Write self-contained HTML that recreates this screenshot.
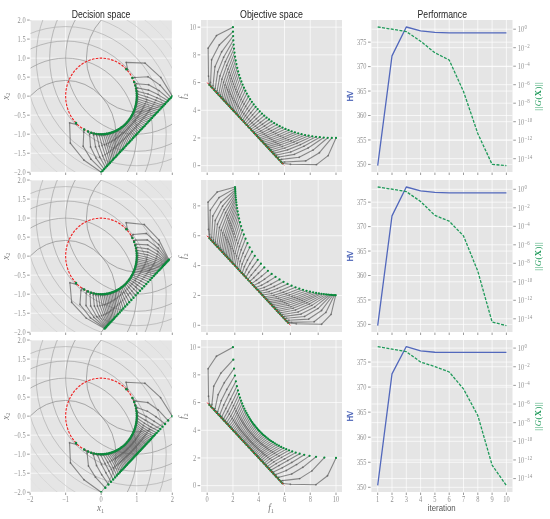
<!DOCTYPE html>
<html><head><meta charset="utf-8"><title>HVN</title><style>html,body{margin:0;padding:0;background:#fff}svg{display:block}</style></head><body>
<svg width="550" height="519" viewBox="0 0 550 519">
<rect width="100%" height="100%" fill="#fff"/>
<defs>
<clipPath id="c00"><rect x="30.5" y="20.0" width="141.5" height="152"/></clipPath>
<clipPath id="m00"><rect x="30.0" y="19.5" width="142.5" height="153"/></clipPath>
<clipPath id="c10"><rect x="201.0" y="20.0" width="141" height="152"/></clipPath>
<clipPath id="m10"><rect x="200.5" y="19.5" width="142" height="153"/></clipPath>
<clipPath id="c20"><rect x="371.4" y="20.0" width="141.1" height="152"/></clipPath>
<clipPath id="m20"><rect x="370.9" y="19.5" width="142.1" height="153"/></clipPath>
<clipPath id="c01"><rect x="30.5" y="180.0" width="141.5" height="152"/></clipPath>
<clipPath id="m01"><rect x="30.0" y="179.5" width="142.5" height="153"/></clipPath>
<clipPath id="c11"><rect x="201.0" y="180.0" width="141" height="152"/></clipPath>
<clipPath id="m11"><rect x="200.5" y="179.5" width="142" height="153"/></clipPath>
<clipPath id="c21"><rect x="371.4" y="180.0" width="141.1" height="152"/></clipPath>
<clipPath id="m21"><rect x="370.9" y="179.5" width="142.1" height="153"/></clipPath>
<clipPath id="c02"><rect x="30.5" y="340.0" width="141.5" height="152"/></clipPath>
<clipPath id="m02"><rect x="30.0" y="339.5" width="142.5" height="153"/></clipPath>
<clipPath id="c12"><rect x="201.0" y="340.0" width="141" height="152"/></clipPath>
<clipPath id="m12"><rect x="200.5" y="339.5" width="142" height="153"/></clipPath>
<clipPath id="c22"><rect x="371.4" y="340.0" width="141.1" height="152"/></clipPath>
<clipPath id="m22"><rect x="370.9" y="339.5" width="142.1" height="153"/></clipPath>
</defs>
<rect x="30.5" y="20.0" width="141.5" height="152" fill="#E5E5E5"/>
<path d="M30.1 20.0 V172.0 M65.65 20.0 V172.0 M101.2 20.0 V172.0 M136.75 20.0 V172.0 M172.3 20.0 V172.0 M30.5 172.25 H172.0 M30.5 153.22 H172.0 M30.5 134.2 H172.0 M30.5 115.18 H172.0 M30.5 96.15 H172.0 M30.5 77.12 H172.0 M30.5 58.1 H172.0 M30.5 39.08 H172.0 M30.5 20.05 H172.0" stroke="#FFFFFF" stroke-width="0.7" fill="none"/>
<g clip-path="url(#c00)" fill="none">
<ellipse cx="136.75" cy="58.1" rx="50.28" ry="53.81" stroke="rgb(140,140,140)" stroke-width="0.75" stroke-opacity="0.95"/>
<ellipse cx="136.75" cy="58.1" rx="71.1" ry="76.1" stroke="rgb(152,152,152)" stroke-width="0.75" stroke-opacity="0.95"/>
<ellipse cx="136.75" cy="58.1" rx="87.08" ry="93.2" stroke="rgb(164,164,164)" stroke-width="0.75" stroke-opacity="0.95"/>
<ellipse cx="136.75" cy="58.1" rx="100.55" ry="107.62" stroke="rgb(176,176,176)" stroke-width="0.75" stroke-opacity="0.95"/>
<ellipse cx="136.75" cy="58.1" rx="112.42" ry="120.32" stroke="rgb(188,188,188)" stroke-width="0.75" stroke-opacity="0.95"/>
<ellipse cx="136.75" cy="58.1" rx="123.15" ry="131.81" stroke="rgb(200,200,200)" stroke-width="0.75" stroke-opacity="0.95"/>
<ellipse cx="136.75" cy="58.1" rx="133.02" ry="142.37" stroke="rgb(212,212,212)" stroke-width="0.75" stroke-opacity="0.95"/>
<ellipse cx="136.75" cy="58.1" rx="142.2" ry="152.2" stroke="rgb(225,225,225)" stroke-width="0.75" stroke-opacity="0.95"/>
<ellipse cx="65.65" cy="134.2" rx="50.28" ry="53.81" stroke="rgb(140,140,140)" stroke-width="0.75" stroke-opacity="0.95"/>
<ellipse cx="65.65" cy="134.2" rx="71.1" ry="76.1" stroke="rgb(152,152,152)" stroke-width="0.75" stroke-opacity="0.95"/>
<ellipse cx="65.65" cy="134.2" rx="87.08" ry="93.2" stroke="rgb(164,164,164)" stroke-width="0.75" stroke-opacity="0.95"/>
<ellipse cx="65.65" cy="134.2" rx="100.55" ry="107.62" stroke="rgb(176,176,176)" stroke-width="0.75" stroke-opacity="0.95"/>
<ellipse cx="65.65" cy="134.2" rx="112.42" ry="120.32" stroke="rgb(188,188,188)" stroke-width="0.75" stroke-opacity="0.95"/>
<ellipse cx="65.65" cy="134.2" rx="123.15" ry="131.81" stroke="rgb(200,200,200)" stroke-width="0.75" stroke-opacity="0.95"/>
<ellipse cx="65.65" cy="134.2" rx="133.02" ry="142.37" stroke="rgb(212,212,212)" stroke-width="0.75" stroke-opacity="0.95"/>
<ellipse cx="65.65" cy="134.2" rx="142.2" ry="152.2" stroke="rgb(225,225,225)" stroke-width="0.75" stroke-opacity="0.95"/>
<ellipse cx="101.2" cy="96.15" rx="35.55" ry="38.05" stroke="#EE2222" stroke-width="1.1" stroke-dasharray="2.6 1.3"/>
<path d="M101.2 172.25 L83.83 160.01 L70.31 143.1 L69.61 122.87 L76.49 124.53 L75.99 123.03 L76.06 123.06 L76.06 123.06 L76.06 123.06 L76.06 123.06 L76.06 123.06 M102.65 170.7 L90.93 159.13 L83.13 146.26 L83.78 132.18 L83.99 129.55 L84.13 129.52 L84.2 129.57 L84.2 129.57 L84.2 129.57 L84.2 129.57 L84.2 129.57 M104.1 169.14 L96 158.09 L90.55 146.92 L89.59 134.28 L88.59 131.83 L88.05 131.51 L88.06 131.51 L88.06 131.51 L88.06 131.51 L88.06 131.51 L88.06 131.51 M105.55 167.59 L99.76 156.96 L95.54 146.75 L93.63 135.15 L92.03 133.02 L91.21 132.68 L91.19 132.66 L91.19 132.66 L91.19 132.66 L91.19 132.66 L91.19 132.66 M107 166.04 L102.68 155.79 L99.21 146.24 L96.82 135.49 L94.92 133.7 L93.97 133.42 L93.93 133.4 L93.93 133.4 L93.93 133.4 L93.93 133.4 L93.93 133.4 M108.46 164.48 L105.06 154.6 L102.08 145.57 L99.47 135.55 L97.47 134.08 L96.45 133.88 L96.41 133.85 L96.41 133.85 L96.41 133.85 L96.41 133.85 L96.41 133.85 M109.91 162.93 L107.07 153.41 L104.43 144.82 L101.76 135.44 L99.77 134.25 L98.74 134.12 L98.7 134.11 L98.7 134.11 L98.7 134.11 L98.7 134.11 L98.7 134.11 M111.36 161.38 L108.85 152.21 L106.44 144.02 L103.79 135.21 L101.88 134.26 L100.88 134.21 L100.84 134.2 L100.84 134.2 L100.84 134.2 L100.84 134.2 L100.84 134.2 M112.81 159.83 L110.48 151.01 L108.22 143.2 L105.64 134.9 L103.85 134.15 L102.89 134.17 L102.85 134.16 L102.85 134.16 L102.85 134.16 L102.85 134.16 L102.85 134.16 M114.26 158.27 L112.01 149.82 L109.84 142.37 L107.34 134.53 L105.71 133.94 L104.8 134.02 L104.76 134.01 L104.76 134.01 L104.76 134.01 L104.76 134.01 L104.76 134.01 M115.71 156.72 L113.47 148.62 L111.35 141.51 L108.93 134.11 L107.46 133.64 L106.62 133.77 L106.58 133.76 L106.59 133.76 L106.59 133.76 L106.59 133.76 L106.59 133.76 M117.16 155.17 L114.89 147.42 L112.78 140.65 L110.43 133.64 L109.13 133.27 L108.35 133.43 L108.33 133.43 L108.33 133.43 L108.33 133.43 L108.33 133.43 L108.33 133.43 M118.61 153.61 L116.28 146.21 L114.17 139.76 L111.86 133.13 L110.73 132.83 L110.02 133.02 L109.99 133.02 L109.99 133.02 L109.99 133.02 L109.99 133.02 L109.99 133.02 M120.06 152.06 L117.65 144.99 L115.51 138.86 L113.24 132.58 L112.26 132.33 L111.62 132.54 L111.6 132.54 L111.6 132.54 L111.6 132.54 L111.6 132.54 L111.6 132.54 M121.51 150.51 L119.01 143.77 L116.83 137.94 L114.57 131.99 L113.73 131.77 L113.16 131.99 L113.14 131.99 L113.14 131.99 L113.14 131.99 L113.14 131.99 L113.14 131.99 M122.97 148.95 L120.37 142.53 L118.13 136.99 L115.86 131.35 L115.15 131.16 L114.64 131.38 L114.62 131.38 L114.62 131.38 L114.62 131.38 L114.62 131.38 L114.62 131.38 M124.42 147.4 L121.71 141.29 L119.41 136.02 L117.12 130.68 L116.51 130.5 L116.07 130.72 L116.06 130.72 L116.06 130.72 L116.06 130.72 L116.06 130.72 L116.06 130.72 M125.87 145.85 L123.06 140.03 L120.68 135.02 L118.34 129.96 L117.83 129.79 L117.45 130 L117.44 130 L117.44 130 L117.44 130 L117.44 130 L117.44 130 M127.32 144.29 L124.4 138.76 L121.93 134 L119.53 129.2 L119.1 129.03 L118.78 129.23 L118.77 129.23 L118.77 129.23 L118.77 129.23 L118.77 129.23 L118.77 129.23 M128.77 142.74 L125.73 137.47 L123.17 132.95 L120.69 128.4 L120.32 128.23 L120.06 128.41 L120.05 128.41 L120.05 128.41 L120.05 128.41 L120.05 128.41 L120.05 128.41 M130.22 141.19 L127.06 136.16 L124.4 131.87 L121.83 127.56 L121.51 127.38 L121.3 127.54 L121.29 127.54 L121.29 127.54 L121.29 127.54 L121.29 127.54 L121.29 127.54 M131.67 139.64 L128.38 134.85 L125.62 130.76 L122.93 126.68 L122.65 126.5 L122.49 126.62 L122.49 126.62 L122.49 126.62 L122.49 126.62 L122.49 126.62 L122.49 126.62 M133.12 138.08 L129.7 133.51 L126.81 129.63 L124 125.75 L123.75 125.56 L123.64 125.66 L123.64 125.66 L123.64 125.66 L123.64 125.66 L123.64 125.66 L123.64 125.66 M134.57 136.53 L131 132.17 L127.99 128.47 L125.04 124.79 L124.82 124.59 L124.75 124.65 L124.75 124.65 L124.75 124.65 L124.75 124.65 L124.75 124.65 L124.75 124.65 M136.02 134.98 L132.3 130.81 L129.15 127.28 L126.05 123.79 L125.84 123.58 L125.82 123.6 L125.82 123.6 L125.82 123.6 L125.82 123.6 L125.82 123.6 L125.82 123.6 M137.48 133.42 L133.58 129.43 L130.28 126.06 L127.02 122.74 L126.83 122.52 L126.84 122.5 L126.85 122.5 L126.85 122.5 L126.85 122.5 L126.85 122.5 L126.85 122.5 M138.93 131.87 L134.85 128.05 L131.39 124.82 L127.96 121.67 L127.77 121.43 L127.83 121.36 L127.83 121.36 L127.83 121.36 L127.83 121.36 L127.83 121.36 L127.83 121.36 M140.38 130.32 L136.11 126.65 L132.48 123.56 L128.86 120.55 L128.68 120.29 L128.77 120.17 L128.77 120.17 L128.77 120.17 L128.77 120.17 L128.77 120.17 L128.77 120.17 M141.83 128.76 L137.35 125.24 L133.54 122.28 L129.72 119.41 L129.55 119.11 L129.67 118.94 L129.67 118.94 L129.67 118.94 L129.67 118.94 L129.67 118.94 L129.67 118.94 M143.28 127.21 L138.59 123.83 L134.57 120.98 L130.55 118.23 L130.38 117.88 L130.52 117.66 L130.53 117.66 L130.53 117.66 L130.53 117.66 L130.53 117.66 L130.53 117.66 M144.73 125.66 L139.8 122.41 L135.58 119.67 L131.33 117.01 L131.17 116.62 L131.34 116.34 L131.34 116.33 L131.34 116.33 L131.34 116.33 L131.34 116.33 L131.34 116.33 M146.18 124.11 L141.01 120.98 L136.56 118.34 L132.08 115.77 L131.92 115.31 L132.1 114.96 L132.11 114.95 L132.11 114.95 L132.11 114.95 L132.11 114.95 L132.11 114.95 M147.63 122.55 L142.2 119.54 L137.52 117 L132.79 114.49 L132.63 113.95 L132.82 113.54 L132.83 113.53 L132.83 113.53 L132.83 113.53 L132.83 113.53 L132.83 113.53 M149.08 121 L143.37 118.11 L138.45 115.64 L133.46 113.19 L133.29 112.54 L133.49 112.06 L133.5 112.05 L133.5 112.05 L133.5 112.05 L133.5 112.05 L133.5 112.05 M150.53 119.45 L144.54 116.66 L139.36 114.27 L134.09 111.84 L133.91 111.08 L134.12 110.54 L134.12 110.52 L134.12 110.52 L134.12 110.52 L134.12 110.52 L134.12 110.52 M151.99 117.89 L145.69 115.22 L140.24 112.88 L134.68 110.46 L134.48 109.56 L134.68 108.95 L134.69 108.93 L134.69 108.93 L134.69 108.93 L134.69 108.93 L134.69 108.93 M153.44 116.34 L146.83 113.76 L141.1 111.47 L135.24 109.04 L135 107.99 L135.2 107.3 L135.2 107.28 L135.2 107.28 L135.2 107.28 L135.2 107.28 L135.2 107.28 M154.89 114.79 L147.97 112.29 L141.95 110.03 L135.75 107.56 L135.47 106.35 L135.65 105.59 L135.65 105.56 L135.65 105.56 L135.65 105.56 L135.65 105.56 L135.65 105.56 M156.34 113.23 L149.1 110.8 L142.77 108.55 L136.23 106.03 L135.88 104.64 L136.03 103.81 L136.03 103.78 L136.03 103.78 L136.03 103.78 L136.03 103.78 L136.03 103.78 M157.79 111.68 L150.22 109.28 L143.58 107.01 L136.67 104.42 L136.23 102.85 L136.35 101.95 L136.34 101.91 L136.34 101.91 L136.34 101.91 L136.34 101.91 L136.34 101.91 M159.24 110.13 L151.34 107.72 L144.38 105.4 L137.06 102.72 L136.51 100.97 L136.58 100 L136.57 99.96 L136.57 99.96 L136.57 99.96 L136.57 99.96 L136.57 99.96 M160.69 108.57 L152.46 106.09 L145.16 103.66 L137.41 100.9 L136.7 98.99 L136.72 97.96 L136.71 97.92 L136.71 97.92 L136.71 97.92 L136.71 97.92 L136.71 97.92 M162.14 107.02 L153.58 104.34 L145.93 101.76 L137.69 98.93 L136.81 96.88 L136.76 95.8 L136.75 95.76 L136.75 95.76 L136.75 95.76 L136.75 95.76 L136.75 95.76 M163.59 105.47 L154.69 102.43 L146.67 99.61 L137.91 96.75 L136.79 94.62 L136.68 93.52 L136.66 93.47 L136.66 93.47 L136.66 93.47 L136.66 93.47 L136.66 93.47 M165.04 103.92 L155.81 100.28 L147.37 97.09 L138.01 94.3 L136.64 92.15 L136.45 91.07 L136.43 91.02 L136.43 91.02 L136.43 91.02 L136.43 91.02 L136.43 91.02 M166.5 102.36 L156.92 97.74 L148 94.02 L137.96 91.46 L136.28 89.43 L136.02 88.41 L136 88.37 L136 88.37 L136 88.37 L136 88.37 L136 88.37 M167.95 100.81 L158.01 94.61 L148.48 90.1 L137.64 88.05 L135.64 86.34 L135.33 85.46 L135.31 85.44 L135.31 85.44 L135.31 85.44 L135.31 85.44 L135.31 85.44 M169.4 99.26 L159.07 90.58 L148.63 84.75 L136.83 83.72 L134.53 82.65 L134.24 82.08 L134.23 82.09 L134.23 82.09 L134.23 82.09 L134.23 82.09 L134.23 82.09 M170.85 97.7 L160.04 85.15 L148.01 76.81 L134.87 77.5 L132.41 77.73 L132.38 77.88 L132.42 77.95 L132.42 77.95 L132.42 77.95 L132.42 77.95 L132.42 77.95 M172.3 96.15 L160.87 77.56 L145.07 63.08 L126.17 62.34 L127.72 69.7 L126.31 69.17 L126.34 69.24 L126.34 69.24 L126.34 69.24 L126.34 69.24 L126.34 69.24" stroke="#505050" stroke-width="1.1" stroke-opacity="0.64" stroke-linejoin="round"/>
<path d="M83.83 160.01h0 M70.31 143.1h0 M69.61 122.87h0 M76.49 124.53h0 M75.99 123.03h0 M76.06 123.06h0 M76.06 123.06h0 M76.06 123.06h0 M76.06 123.06h0 M90.93 159.13h0 M83.13 146.26h0 M83.78 132.18h0 M83.99 129.55h0 M84.13 129.52h0 M84.2 129.57h0 M84.2 129.57h0 M84.2 129.57h0 M84.2 129.57h0 M96 158.09h0 M90.55 146.92h0 M89.59 134.28h0 M88.59 131.83h0 M88.05 131.51h0 M88.06 131.51h0 M88.06 131.51h0 M88.06 131.51h0 M88.06 131.51h0 M99.76 156.96h0 M95.54 146.75h0 M93.63 135.15h0 M92.03 133.02h0 M91.21 132.68h0 M91.19 132.66h0 M91.19 132.66h0 M91.19 132.66h0 M91.19 132.66h0 M102.68 155.79h0 M99.21 146.24h0 M96.82 135.49h0 M94.92 133.7h0 M93.97 133.42h0 M93.93 133.4h0 M93.93 133.4h0 M93.93 133.4h0 M93.93 133.4h0 M105.06 154.6h0 M102.08 145.57h0 M99.47 135.55h0 M97.47 134.08h0 M96.45 133.88h0 M96.41 133.85h0 M96.41 133.85h0 M96.41 133.85h0 M96.41 133.85h0 M107.07 153.41h0 M104.43 144.82h0 M101.76 135.44h0 M99.77 134.25h0 M98.74 134.12h0 M98.7 134.11h0 M98.7 134.11h0 M98.7 134.11h0 M98.7 134.11h0 M108.85 152.21h0 M106.44 144.02h0 M103.79 135.21h0 M101.88 134.26h0 M100.88 134.21h0 M100.84 134.2h0 M100.84 134.2h0 M100.84 134.2h0 M100.84 134.2h0 M110.48 151.01h0 M108.22 143.2h0 M105.64 134.9h0 M103.85 134.15h0 M102.89 134.17h0 M102.85 134.16h0 M102.85 134.16h0 M102.85 134.16h0 M102.85 134.16h0 M112.01 149.82h0 M109.84 142.37h0 M107.34 134.53h0 M105.71 133.94h0 M104.8 134.02h0 M104.76 134.01h0 M104.76 134.01h0 M104.76 134.01h0 M104.76 134.01h0 M113.47 148.62h0 M111.35 141.51h0 M108.93 134.11h0 M107.46 133.64h0 M106.62 133.77h0 M106.58 133.76h0 M106.59 133.76h0 M106.59 133.76h0 M106.59 133.76h0 M114.89 147.42h0 M112.78 140.65h0 M110.43 133.64h0 M109.13 133.27h0 M108.35 133.43h0 M108.33 133.43h0 M108.33 133.43h0 M108.33 133.43h0 M108.33 133.43h0 M116.28 146.21h0 M114.17 139.76h0 M111.86 133.13h0 M110.73 132.83h0 M110.02 133.02h0 M109.99 133.02h0 M109.99 133.02h0 M109.99 133.02h0 M109.99 133.02h0 M117.65 144.99h0 M115.51 138.86h0 M113.24 132.58h0 M112.26 132.33h0 M111.62 132.54h0 M111.6 132.54h0 M111.6 132.54h0 M111.6 132.54h0 M111.6 132.54h0 M119.01 143.77h0 M116.83 137.94h0 M114.57 131.99h0 M113.73 131.77h0 M113.16 131.99h0 M113.14 131.99h0 M113.14 131.99h0 M113.14 131.99h0 M113.14 131.99h0 M120.37 142.53h0 M118.13 136.99h0 M115.86 131.35h0 M115.15 131.16h0 M114.64 131.38h0 M114.62 131.38h0 M114.62 131.38h0 M114.62 131.38h0 M114.62 131.38h0 M121.71 141.29h0 M119.41 136.02h0 M117.12 130.68h0 M116.51 130.5h0 M116.07 130.72h0 M116.06 130.72h0 M116.06 130.72h0 M116.06 130.72h0 M116.06 130.72h0 M123.06 140.03h0 M120.68 135.02h0 M118.34 129.96h0 M117.83 129.79h0 M117.45 130h0 M117.44 130h0 M117.44 130h0 M117.44 130h0 M117.44 130h0 M124.4 138.76h0 M121.93 134h0 M119.53 129.2h0 M119.1 129.03h0 M118.78 129.23h0 M118.77 129.23h0 M118.77 129.23h0 M118.77 129.23h0 M118.77 129.23h0 M125.73 137.47h0 M123.17 132.95h0 M120.69 128.4h0 M120.32 128.23h0 M120.06 128.41h0 M120.05 128.41h0 M120.05 128.41h0 M120.05 128.41h0 M120.05 128.41h0 M127.06 136.16h0 M124.4 131.87h0 M121.83 127.56h0 M121.51 127.38h0 M121.3 127.54h0 M121.29 127.54h0 M121.29 127.54h0 M121.29 127.54h0 M121.29 127.54h0 M128.38 134.85h0 M125.62 130.76h0 M122.93 126.68h0 M122.65 126.5h0 M122.49 126.62h0 M122.49 126.62h0 M122.49 126.62h0 M122.49 126.62h0 M122.49 126.62h0 M129.7 133.51h0 M126.81 129.63h0 M124 125.75h0 M123.75 125.56h0 M123.64 125.66h0 M123.64 125.66h0 M123.64 125.66h0 M123.64 125.66h0 M123.64 125.66h0 M131 132.17h0 M127.99 128.47h0 M125.04 124.79h0 M124.82 124.59h0 M124.75 124.65h0 M124.75 124.65h0 M124.75 124.65h0 M124.75 124.65h0 M124.75 124.65h0 M132.3 130.81h0 M129.15 127.28h0 M126.05 123.79h0 M125.84 123.58h0 M125.82 123.6h0 M125.82 123.6h0 M125.82 123.6h0 M125.82 123.6h0 M125.82 123.6h0 M133.58 129.43h0 M130.28 126.06h0 M127.02 122.74h0 M126.83 122.52h0 M126.84 122.5h0 M126.85 122.5h0 M126.85 122.5h0 M126.85 122.5h0 M126.85 122.5h0 M134.85 128.05h0 M131.39 124.82h0 M127.96 121.67h0 M127.77 121.43h0 M127.83 121.36h0 M127.83 121.36h0 M127.83 121.36h0 M127.83 121.36h0 M127.83 121.36h0 M136.11 126.65h0 M132.48 123.56h0 M128.86 120.55h0 M128.68 120.29h0 M128.77 120.17h0 M128.77 120.17h0 M128.77 120.17h0 M128.77 120.17h0 M128.77 120.17h0 M137.35 125.24h0 M133.54 122.28h0 M129.72 119.41h0 M129.55 119.11h0 M129.67 118.94h0 M129.67 118.94h0 M129.67 118.94h0 M129.67 118.94h0 M129.67 118.94h0 M138.59 123.83h0 M134.57 120.98h0 M130.55 118.23h0 M130.38 117.88h0 M130.52 117.66h0 M130.53 117.66h0 M130.53 117.66h0 M130.53 117.66h0 M130.53 117.66h0 M139.8 122.41h0 M135.58 119.67h0 M131.33 117.01h0 M131.17 116.62h0 M131.34 116.34h0 M131.34 116.33h0 M131.34 116.33h0 M131.34 116.33h0 M131.34 116.33h0 M141.01 120.98h0 M136.56 118.34h0 M132.08 115.77h0 M131.92 115.31h0 M132.1 114.96h0 M132.11 114.95h0 M132.11 114.95h0 M132.11 114.95h0 M132.11 114.95h0 M142.2 119.54h0 M137.52 117h0 M132.79 114.49h0 M132.63 113.95h0 M132.82 113.54h0 M132.83 113.53h0 M132.83 113.53h0 M132.83 113.53h0 M132.83 113.53h0 M143.37 118.11h0 M138.45 115.64h0 M133.46 113.19h0 M133.29 112.54h0 M133.49 112.06h0 M133.5 112.05h0 M133.5 112.05h0 M133.5 112.05h0 M133.5 112.05h0 M144.54 116.66h0 M139.36 114.27h0 M134.09 111.84h0 M133.91 111.08h0 M134.12 110.54h0 M134.12 110.52h0 M134.12 110.52h0 M134.12 110.52h0 M134.12 110.52h0 M145.69 115.22h0 M140.24 112.88h0 M134.68 110.46h0 M134.48 109.56h0 M134.68 108.95h0 M134.69 108.93h0 M134.69 108.93h0 M134.69 108.93h0 M134.69 108.93h0 M146.83 113.76h0 M141.1 111.47h0 M135.24 109.04h0 M135 107.99h0 M135.2 107.3h0 M135.2 107.28h0 M135.2 107.28h0 M135.2 107.28h0 M135.2 107.28h0 M147.97 112.29h0 M141.95 110.03h0 M135.75 107.56h0 M135.47 106.35h0 M135.65 105.59h0 M135.65 105.56h0 M135.65 105.56h0 M135.65 105.56h0 M135.65 105.56h0 M149.1 110.8h0 M142.77 108.55h0 M136.23 106.03h0 M135.88 104.64h0 M136.03 103.81h0 M136.03 103.78h0 M136.03 103.78h0 M136.03 103.78h0 M136.03 103.78h0 M150.22 109.28h0 M143.58 107.01h0 M136.67 104.42h0 M136.23 102.85h0 M136.35 101.95h0 M136.34 101.91h0 M136.34 101.91h0 M136.34 101.91h0 M136.34 101.91h0 M151.34 107.72h0 M144.38 105.4h0 M137.06 102.72h0 M136.51 100.97h0 M136.58 100h0 M136.57 99.96h0 M136.57 99.96h0 M136.57 99.96h0 M136.57 99.96h0 M152.46 106.09h0 M145.16 103.66h0 M137.41 100.9h0 M136.7 98.99h0 M136.72 97.96h0 M136.71 97.92h0 M136.71 97.92h0 M136.71 97.92h0 M136.71 97.92h0 M153.58 104.34h0 M145.93 101.76h0 M137.69 98.93h0 M136.81 96.88h0 M136.76 95.8h0 M136.75 95.76h0 M136.75 95.76h0 M136.75 95.76h0 M136.75 95.76h0 M154.69 102.43h0 M146.67 99.61h0 M137.91 96.75h0 M136.79 94.62h0 M136.68 93.52h0 M136.66 93.47h0 M136.66 93.47h0 M136.66 93.47h0 M136.66 93.47h0 M155.81 100.28h0 M147.37 97.09h0 M138.01 94.3h0 M136.64 92.15h0 M136.45 91.07h0 M136.43 91.02h0 M136.43 91.02h0 M136.43 91.02h0 M136.43 91.02h0 M156.92 97.74h0 M148 94.02h0 M137.96 91.46h0 M136.28 89.43h0 M136.02 88.41h0 M136 88.37h0 M136 88.37h0 M136 88.37h0 M136 88.37h0 M158.01 94.61h0 M148.48 90.1h0 M137.64 88.05h0 M135.64 86.34h0 M135.33 85.46h0 M135.31 85.44h0 M135.31 85.44h0 M135.31 85.44h0 M135.31 85.44h0 M159.07 90.58h0 M148.63 84.75h0 M136.83 83.72h0 M134.53 82.65h0 M134.24 82.08h0 M134.23 82.09h0 M134.23 82.09h0 M134.23 82.09h0 M134.23 82.09h0 M160.04 85.15h0 M148.01 76.81h0 M134.87 77.5h0 M132.41 77.73h0 M132.38 77.88h0 M132.42 77.95h0 M132.42 77.95h0 M132.42 77.95h0 M132.42 77.95h0 M160.87 77.56h0 M145.07 63.08h0 M126.17 62.34h0 M127.72 69.7h0 M126.31 69.17h0 M126.34 69.24h0 M126.34 69.24h0 M126.34 69.24h0 M126.34 69.24h0" stroke="#505050" stroke-width="1.9" stroke-linecap="round" stroke-opacity="0.55"/>
</g>
<path d="M101.2 172.25h0 M102.65 170.7h0 M104.1 169.14h0 M105.55 167.59h0 M107 166.04h0 M108.46 164.48h0 M109.91 162.93h0 M111.36 161.38h0 M112.81 159.83h0 M114.26 158.27h0 M115.71 156.72h0 M117.16 155.17h0 M118.61 153.61h0 M120.06 152.06h0 M121.51 150.51h0 M122.97 148.95h0 M124.42 147.4h0 M125.87 145.85h0 M127.32 144.29h0 M128.77 142.74h0 M130.22 141.19h0 M131.67 139.64h0 M133.12 138.08h0 M134.57 136.53h0 M136.02 134.98h0 M137.48 133.42h0 M138.93 131.87h0 M140.38 130.32h0 M141.83 128.76h0 M143.28 127.21h0 M144.73 125.66h0 M146.18 124.11h0 M147.63 122.55h0 M149.08 121h0 M150.53 119.45h0 M151.99 117.89h0 M153.44 116.34h0 M154.89 114.79h0 M156.34 113.23h0 M157.79 111.68h0 M159.24 110.13h0 M160.69 108.57h0 M162.14 107.02h0 M163.59 105.47h0 M165.04 103.92h0 M166.5 102.36h0 M167.95 100.81h0 M169.4 99.26h0 M170.85 97.7h0 M172.3 96.15h0 M76.06 123.06h0 M84.2 129.57h0 M88.06 131.51h0 M91.19 132.66h0 M93.93 133.4h0 M96.41 133.85h0 M98.7 134.11h0 M100.84 134.2h0 M102.85 134.16h0 M104.76 134.01h0 M106.59 133.76h0 M108.33 133.43h0 M109.99 133.02h0 M111.6 132.54h0 M113.14 131.99h0 M114.62 131.38h0 M116.06 130.72h0 M117.44 130h0 M118.77 129.23h0 M120.05 128.41h0 M121.29 127.54h0 M122.49 126.62h0 M123.64 125.66h0 M124.75 124.65h0 M125.82 123.6h0 M126.85 122.5h0 M127.83 121.36h0 M128.77 120.17h0 M129.67 118.94h0 M130.53 117.66h0 M131.34 116.33h0 M132.11 114.95h0 M132.83 113.53h0 M133.5 112.05h0 M134.12 110.52h0 M134.69 108.93h0 M135.2 107.28h0 M135.65 105.56h0 M136.03 103.78h0 M136.34 101.91h0 M136.57 99.96h0 M136.71 97.92h0 M136.75 95.76h0 M136.66 93.47h0 M136.43 91.02h0 M136 88.37h0 M135.31 85.44h0 M134.23 82.09h0 M132.42 77.95h0 M126.34 69.24h0" stroke="#0A8A3C" stroke-width="2.45" stroke-linecap="round" fill="none" clip-path="url(#m00)"/>
<line x1="27.1" x2="29.7" y1="20.05" y2="20.05" stroke="#6E6E6E" stroke-width="0.7"/>
<text transform="translate(25.6 22.75) scale(0.82 1)" text-anchor="end" font-size="7.8" fill="#909090" font-family="'Liberation Serif', serif">2.0</text>
<line x1="27.1" x2="29.7" y1="39.08" y2="39.08" stroke="#6E6E6E" stroke-width="0.7"/>
<text transform="translate(25.6 41.78) scale(0.82 1)" text-anchor="end" font-size="7.8" fill="#909090" font-family="'Liberation Serif', serif">1.5</text>
<line x1="27.1" x2="29.7" y1="58.1" y2="58.1" stroke="#6E6E6E" stroke-width="0.7"/>
<text transform="translate(25.6 60.8) scale(0.82 1)" text-anchor="end" font-size="7.8" fill="#909090" font-family="'Liberation Serif', serif">1.0</text>
<line x1="27.1" x2="29.7" y1="77.12" y2="77.12" stroke="#6E6E6E" stroke-width="0.7"/>
<text transform="translate(25.6 79.83) scale(0.82 1)" text-anchor="end" font-size="7.8" fill="#909090" font-family="'Liberation Serif', serif">0.5</text>
<line x1="27.1" x2="29.7" y1="96.15" y2="96.15" stroke="#6E6E6E" stroke-width="0.7"/>
<text transform="translate(25.6 98.85) scale(0.82 1)" text-anchor="end" font-size="7.8" fill="#909090" font-family="'Liberation Serif', serif">0.0</text>
<line x1="27.1" x2="29.7" y1="115.18" y2="115.18" stroke="#6E6E6E" stroke-width="0.7"/>
<text transform="translate(25.6 117.88) scale(0.82 1)" text-anchor="end" font-size="7.8" fill="#909090" font-family="'Liberation Serif', serif">−0.5</text>
<line x1="27.1" x2="29.7" y1="134.2" y2="134.2" stroke="#6E6E6E" stroke-width="0.7"/>
<text transform="translate(25.6 136.9) scale(0.82 1)" text-anchor="end" font-size="7.8" fill="#909090" font-family="'Liberation Serif', serif">−1.0</text>
<line x1="27.1" x2="29.7" y1="153.22" y2="153.22" stroke="#6E6E6E" stroke-width="0.7"/>
<text transform="translate(25.6 155.92) scale(0.82 1)" text-anchor="end" font-size="7.8" fill="#909090" font-family="'Liberation Serif', serif">−1.5</text>
<line x1="27.1" x2="29.7" y1="172.25" y2="172.25" stroke="#6E6E6E" stroke-width="0.7"/>
<text transform="translate(25.6 174.95) scale(0.82 1)" text-anchor="end" font-size="7.8" fill="#909090" font-family="'Liberation Serif', serif">−2.0</text>
<line x1="30.1" x2="30.1" y1="172.6" y2="175" stroke="#6E6E6E" stroke-width="0.7"/>
<line x1="65.65" x2="65.65" y1="172.6" y2="175" stroke="#6E6E6E" stroke-width="0.7"/>
<line x1="101.2" x2="101.2" y1="172.6" y2="175" stroke="#6E6E6E" stroke-width="0.7"/>
<line x1="136.75" x2="136.75" y1="172.6" y2="175" stroke="#6E6E6E" stroke-width="0.7"/>
<line x1="172.3" x2="172.3" y1="172.6" y2="175" stroke="#6E6E6E" stroke-width="0.7"/>
<text transform="translate(8.6 96.2) rotate(-90)" text-anchor="middle" font-size="9.3" font-style="italic" fill="#7A7A7A" font-family="'Liberation Serif', serif">x<tspan font-size="6.3" font-style="normal" dy="1.5">2</tspan></text>
<rect x="201.0" y="20.0" width="141" height="152" fill="#E5E5E5"/>
<path d="M207.2 20.0 V172.0 M201.0 165.65 H342.0 M232.96 20.0 V172.0 M201.0 137.95 H342.0 M258.72 20.0 V172.0 M201.0 110.25 H342.0 M284.48 20.0 V172.0 M201.0 82.55 H342.0 M310.24 20.0 V172.0 M201.0 54.85 H342.0 M336 20.0 V172.0 M201.0 27.15 H342.0" stroke="#FFFFFF" stroke-width="0.7" fill="none"/>
<g clip-path="url(#c10)" fill="none">
<path d="M336 137.95 L328.14 155.65 L316.47 164.65 L290.47 164.25 L283.47 163.47 L282.32 163.28 L282.27 163.27 L282.27 163.27 L282.27 163.27 L282.27 163.27 L282.27 163.27 M331.84 137.9 L319.41 152.7 L305.64 160.91 L284.63 162.01 L280.98 161.76 L280.81 161.7 L280.78 161.67 L280.78 161.67 L280.78 161.67 L280.78 161.67 L280.78 161.67 M327.76 137.77 L313.07 150.1 L299.14 157.31 L281.5 159.37 L279.2 159.83 L279.31 160.08 L279.3 160.08 L279.3 160.08 L279.3 160.08 L279.3 160.08 L279.3 160.08 M323.77 137.53 L308.09 147.95 L294.42 154.35 L278.96 157.06 L277.51 158.01 L277.81 158.47 L277.81 158.48 L277.81 158.48 L277.81 158.48 L277.81 158.48 L277.81 158.48 M319.86 137.21 L303.92 146.16 L290.67 151.92 L276.74 154.99 L275.87 156.26 L276.32 156.86 L276.32 156.88 L276.32 156.88 L276.32 156.88 L276.32 156.88 L276.32 156.88 M316.04 136.8 L300.28 144.65 L287.52 149.87 L274.73 153.1 L274.28 154.56 L274.83 155.25 L274.84 155.28 L274.84 155.28 L274.84 155.28 L274.84 155.28 L274.84 155.28 M312.31 136.29 L296.98 143.32 L284.75 148.09 L272.89 151.35 L272.72 152.89 L273.34 153.65 L273.35 153.68 L273.35 153.68 L273.35 153.68 L273.35 153.68 L273.35 153.68 M308.66 135.69 L293.92 142.09 L282.24 146.49 L271.17 149.7 L271.19 151.26 L271.85 152.05 L271.86 152.08 L271.86 152.08 L271.86 152.08 L271.86 152.08 L271.86 152.08 M305.1 135 L291.03 140.92 L279.93 145.02 L269.54 148.12 L269.68 149.66 L270.36 150.45 L270.37 150.48 L270.37 150.48 L270.37 150.48 L270.37 150.48 L270.37 150.48 M301.62 134.21 L288.27 139.76 L277.75 143.61 L267.99 146.6 L268.19 148.06 L268.88 148.85 L268.89 148.88 L268.89 148.88 L268.89 148.88 L268.89 148.88 L268.89 148.88 M298.23 133.34 L285.61 138.6 L275.68 142.25 L266.49 145.13 L266.71 146.49 L267.39 147.26 L267.4 147.28 L267.4 147.28 L267.4 147.28 L267.4 147.28 L267.4 147.28 M294.93 132.37 L283.04 137.41 L273.67 140.91 L265.03 143.67 L265.24 144.92 L265.9 145.66 L265.91 145.69 L265.91 145.69 L265.91 145.69 L265.91 145.69 L265.91 145.69 M291.71 131.3 L280.53 136.18 L271.72 139.56 L263.6 142.24 L263.78 143.36 L264.41 144.06 L264.43 144.09 L264.43 144.09 L264.43 144.09 L264.43 144.09 L264.43 144.09 M288.58 130.15 L278.09 134.9 L269.82 138.2 L262.18 140.81 L262.33 141.81 L262.93 142.47 L262.94 142.49 L262.94 142.49 L262.94 142.49 L262.94 142.49 L262.94 142.49 M285.53 128.91 L275.7 133.57 L267.95 136.81 L260.78 139.38 L260.88 140.26 L261.44 140.87 L261.45 140.89 L261.45 140.89 L261.45 140.89 L261.45 140.89 L261.45 140.89 M282.57 127.57 L273.36 132.17 L266.1 135.4 L259.38 137.94 L259.44 138.71 L259.96 139.27 L259.97 139.29 L259.97 139.29 L259.97 139.29 L259.97 139.29 L259.97 139.29 M279.69 126.14 L271.07 130.72 L264.28 133.95 L257.99 136.5 L258 137.17 L258.47 137.67 L258.48 137.69 L258.48 137.69 L258.48 137.69 L258.48 137.69 L258.48 137.69 M276.91 124.61 L268.82 129.21 L262.47 132.46 L256.59 135.05 L256.57 135.63 L256.98 136.08 L256.99 136.09 L256.99 136.09 L256.99 136.09 L256.99 136.09 L256.99 136.09 M274.2 123 L266.63 127.63 L260.69 130.93 L255.2 133.59 L255.13 134.09 L255.5 134.48 L255.51 134.49 L255.51 134.49 L255.51 134.49 L255.51 134.49 L255.51 134.49 M271.58 121.29 L264.48 125.99 L258.92 129.37 L253.8 132.12 L253.7 132.55 L254.01 132.88 L254.02 132.89 L254.02 132.89 L254.02 132.89 L254.02 132.89 L254.02 132.89 M269.05 119.49 L262.37 124.29 L257.17 127.77 L252.39 130.64 L252.27 131.01 L252.53 131.29 L252.53 131.3 L252.53 131.3 L252.53 131.3 L252.53 131.3 L252.53 131.3 M266.61 117.6 L260.31 122.52 L255.44 126.13 L250.98 129.15 L250.84 129.48 L251.04 129.69 L251.04 129.7 L251.04 129.7 L251.04 129.7 L251.04 129.7 L251.04 129.7 M264.25 115.61 L258.3 120.69 L253.72 124.46 L249.57 127.65 L249.41 127.94 L249.55 128.09 L249.56 128.1 L249.56 128.1 L249.56 128.1 L249.56 128.1 L249.56 128.1 M261.97 113.54 L256.34 118.81 L252.03 122.75 L248.16 126.15 L247.98 126.4 L248.07 126.5 L248.07 126.5 L248.07 126.5 L248.07 126.5 L248.07 126.5 L248.07 126.5 M259.78 111.37 L254.43 116.86 L250.36 121.01 L246.75 124.64 L246.56 124.87 L246.58 124.9 L246.58 124.9 L246.58 124.9 L246.58 124.9 L246.58 124.9 L246.58 124.9 M257.68 109.11 L252.57 114.86 L248.72 119.24 L245.34 123.12 L245.13 123.33 L245.1 123.3 L245.1 123.3 L245.1 123.3 L245.1 123.3 L245.1 123.3 L245.1 123.3 M255.66 106.75 L250.76 112.81 L247.1 117.44 L243.94 121.6 L243.7 121.79 L243.61 121.7 L243.61 121.7 L243.61 121.7 L243.61 121.7 L243.61 121.7 L243.61 121.7 M253.73 104.31 L249.01 110.7 L245.51 115.62 L242.53 120.09 L242.27 120.26 L242.13 120.11 L242.12 120.1 L242.12 120.1 L242.12 120.1 L242.12 120.1 L242.12 120.1 M251.89 101.77 L247.31 108.54 L243.95 113.78 L241.14 118.57 L240.84 118.72 L240.64 118.51 L240.64 118.5 L240.64 118.5 L240.64 118.5 L240.64 118.5 L240.64 118.5 M250.13 99.14 L245.67 106.32 L242.43 111.92 L239.75 117.06 L239.41 117.18 L239.16 116.91 L239.15 116.9 L239.15 116.9 L239.15 116.9 L239.15 116.9 L239.15 116.9 M248.45 96.42 L244.08 104.06 L240.94 110.03 L238.38 115.54 L237.98 115.65 L237.67 115.31 L237.66 115.31 L237.66 115.31 L237.66 115.31 L237.66 115.31 L237.66 115.31 M246.86 93.6 L242.56 101.75 L239.48 108.13 L237.01 114.04 L236.55 114.11 L236.19 113.72 L236.17 113.71 L236.17 113.71 L236.17 113.71 L236.17 113.71 L236.17 113.71 M245.36 90.7 L241.09 99.38 L238.07 106.21 L235.65 112.54 L235.12 112.56 L234.7 112.12 L234.69 112.11 L234.69 112.11 L234.69 112.11 L234.69 112.11 L234.69 112.11 M243.95 87.7 L239.68 96.97 L236.68 104.27 L234.3 111.03 L233.69 111.02 L233.22 110.52 L233.2 110.51 L233.2 110.51 L233.2 110.51 L233.2 110.51 L233.2 110.51 M242.62 84.6 L238.33 94.51 L235.34 102.31 L232.97 109.54 L232.25 109.48 L231.73 108.92 L231.71 108.91 L231.71 108.91 L231.71 108.91 L231.71 108.91 L231.71 108.91 M241.37 81.42 L237.04 91.99 L234.02 100.33 L231.63 108.03 L230.81 107.93 L230.25 107.32 L230.23 107.31 L230.23 107.31 L230.23 107.31 L230.23 107.31 L230.23 107.31 M240.21 78.14 L235.8 89.42 L232.73 98.32 L230.3 106.53 L229.37 106.37 L228.76 105.72 L228.74 105.71 L228.74 105.71 L228.74 105.71 L228.74 105.71 L228.74 105.71 M239.14 74.77 L234.61 86.79 L231.46 96.27 L228.97 105.01 L227.93 104.81 L227.28 104.13 L227.25 104.11 L227.25 104.11 L227.25 104.11 L227.25 104.11 L227.25 104.11 M238.15 71.31 L233.46 84.1 L230.21 94.17 L227.64 103.47 L226.48 103.24 L225.79 102.53 L225.77 102.51 L225.77 102.51 L225.77 102.51 L225.77 102.51 L225.77 102.51 M237.25 67.76 L232.36 81.33 L228.96 92.02 L226.29 101.9 L225.02 101.66 L224.31 100.93 L224.28 100.92 L224.28 100.92 L224.28 100.92 L224.28 100.92 L224.28 100.92 M236.44 64.11 L231.27 78.47 L227.69 89.78 L224.91 100.28 L223.55 100.07 L222.82 99.33 L222.79 99.32 L222.79 99.32 L222.79 99.32 L222.79 99.32 L222.79 99.32 M235.71 60.38 L230.2 75.5 L226.39 87.44 L223.5 98.61 L222.07 98.46 L221.33 97.73 L221.31 97.72 L221.31 97.72 L221.31 97.72 L221.31 97.72 L221.31 97.72 M235.06 56.55 L229.11 72.4 L225.02 84.95 L222.04 96.86 L220.58 96.84 L219.85 96.13 L219.82 96.12 L219.82 96.12 L219.82 96.12 L219.82 96.12 L219.82 96.12 M234.5 52.62 L227.97 69.11 L223.53 82.26 L220.5 95.01 L219.06 95.19 L218.36 94.53 L218.33 94.52 L218.33 94.52 L218.33 94.52 L218.33 94.52 L218.33 94.52 M234.03 48.61 L226.73 65.56 L221.88 79.29 L218.87 93.03 L217.52 93.52 L216.87 92.92 L216.84 92.92 L216.84 92.92 L216.84 92.92 L216.84 92.92 L216.84 92.92 M233.65 44.5 L225.32 61.64 L219.97 75.89 L217.11 90.88 L215.94 91.8 L215.38 91.32 L215.36 91.32 L215.36 91.32 L215.36 91.32 L215.36 91.32 L215.36 91.32 M233.35 40.3 L223.66 57.17 L217.71 71.86 L215.19 88.49 L214.31 90.05 L213.88 89.72 L213.87 89.72 L213.87 89.72 L213.87 89.72 L213.87 89.72 L213.87 89.72 M233.13 36.01 L221.66 51.81 L214.96 66.79 L213.04 85.75 L212.61 88.23 L212.38 88.11 L212.38 88.12 L212.38 88.12 L212.38 88.12 L212.38 88.12 L212.38 88.12 M233 31.63 L219.24 44.99 L211.61 59.8 L210.58 82.39 L210.82 86.31 L210.87 86.5 L210.9 86.52 L210.9 86.53 L210.9 86.53 L210.9 86.53 L210.9 86.53 M232.96 27.15 L216.5 35.6 L208.13 48.15 L208.5 76.11 L209.23 83.64 L209.4 84.87 L209.41 84.93 L209.41 84.93 L209.41 84.93 L209.41 84.93 L209.41 84.93" stroke="#505050" stroke-width="1.1" stroke-opacity="0.64" stroke-linejoin="round"/>
<path d="M328.14 155.65h0 M316.47 164.65h0 M290.47 164.25h0 M283.47 163.47h0 M282.32 163.28h0 M282.27 163.27h0 M282.27 163.27h0 M282.27 163.27h0 M282.27 163.27h0 M319.41 152.7h0 M305.64 160.91h0 M284.63 162.01h0 M280.98 161.76h0 M280.81 161.7h0 M280.78 161.67h0 M280.78 161.67h0 M280.78 161.67h0 M280.78 161.67h0 M313.07 150.1h0 M299.14 157.31h0 M281.5 159.37h0 M279.2 159.83h0 M279.31 160.08h0 M279.3 160.08h0 M279.3 160.08h0 M279.3 160.08h0 M279.3 160.08h0 M308.09 147.95h0 M294.42 154.35h0 M278.96 157.06h0 M277.51 158.01h0 M277.81 158.47h0 M277.81 158.48h0 M277.81 158.48h0 M277.81 158.48h0 M277.81 158.48h0 M303.92 146.16h0 M290.67 151.92h0 M276.74 154.99h0 M275.87 156.26h0 M276.32 156.86h0 M276.32 156.88h0 M276.32 156.88h0 M276.32 156.88h0 M276.32 156.88h0 M300.28 144.65h0 M287.52 149.87h0 M274.73 153.1h0 M274.28 154.56h0 M274.83 155.25h0 M274.84 155.28h0 M274.84 155.28h0 M274.84 155.28h0 M274.84 155.28h0 M296.98 143.32h0 M284.75 148.09h0 M272.89 151.35h0 M272.72 152.89h0 M273.34 153.65h0 M273.35 153.68h0 M273.35 153.68h0 M273.35 153.68h0 M273.35 153.68h0 M293.92 142.09h0 M282.24 146.49h0 M271.17 149.7h0 M271.19 151.26h0 M271.85 152.05h0 M271.86 152.08h0 M271.86 152.08h0 M271.86 152.08h0 M271.86 152.08h0 M291.03 140.92h0 M279.93 145.02h0 M269.54 148.12h0 M269.68 149.66h0 M270.36 150.45h0 M270.37 150.48h0 M270.37 150.48h0 M270.37 150.48h0 M270.37 150.48h0 M288.27 139.76h0 M277.75 143.61h0 M267.99 146.6h0 M268.19 148.06h0 M268.88 148.85h0 M268.89 148.88h0 M268.89 148.88h0 M268.89 148.88h0 M268.89 148.88h0 M285.61 138.6h0 M275.68 142.25h0 M266.49 145.13h0 M266.71 146.49h0 M267.39 147.26h0 M267.4 147.28h0 M267.4 147.28h0 M267.4 147.28h0 M267.4 147.28h0 M283.04 137.41h0 M273.67 140.91h0 M265.03 143.67h0 M265.24 144.92h0 M265.9 145.66h0 M265.91 145.69h0 M265.91 145.69h0 M265.91 145.69h0 M265.91 145.69h0 M280.53 136.18h0 M271.72 139.56h0 M263.6 142.24h0 M263.78 143.36h0 M264.41 144.06h0 M264.43 144.09h0 M264.43 144.09h0 M264.43 144.09h0 M264.43 144.09h0 M278.09 134.9h0 M269.82 138.2h0 M262.18 140.81h0 M262.33 141.81h0 M262.93 142.47h0 M262.94 142.49h0 M262.94 142.49h0 M262.94 142.49h0 M262.94 142.49h0 M275.7 133.57h0 M267.95 136.81h0 M260.78 139.38h0 M260.88 140.26h0 M261.44 140.87h0 M261.45 140.89h0 M261.45 140.89h0 M261.45 140.89h0 M261.45 140.89h0 M273.36 132.17h0 M266.1 135.4h0 M259.38 137.94h0 M259.44 138.71h0 M259.96 139.27h0 M259.97 139.29h0 M259.97 139.29h0 M259.97 139.29h0 M259.97 139.29h0 M271.07 130.72h0 M264.28 133.95h0 M257.99 136.5h0 M258 137.17h0 M258.47 137.67h0 M258.48 137.69h0 M258.48 137.69h0 M258.48 137.69h0 M258.48 137.69h0 M268.82 129.21h0 M262.47 132.46h0 M256.59 135.05h0 M256.57 135.63h0 M256.98 136.08h0 M256.99 136.09h0 M256.99 136.09h0 M256.99 136.09h0 M256.99 136.09h0 M266.63 127.63h0 M260.69 130.93h0 M255.2 133.59h0 M255.13 134.09h0 M255.5 134.48h0 M255.51 134.49h0 M255.51 134.49h0 M255.51 134.49h0 M255.51 134.49h0 M264.48 125.99h0 M258.92 129.37h0 M253.8 132.12h0 M253.7 132.55h0 M254.01 132.88h0 M254.02 132.89h0 M254.02 132.89h0 M254.02 132.89h0 M254.02 132.89h0 M262.37 124.29h0 M257.17 127.77h0 M252.39 130.64h0 M252.27 131.01h0 M252.53 131.29h0 M252.53 131.3h0 M252.53 131.3h0 M252.53 131.3h0 M252.53 131.3h0 M260.31 122.52h0 M255.44 126.13h0 M250.98 129.15h0 M250.84 129.48h0 M251.04 129.69h0 M251.04 129.7h0 M251.04 129.7h0 M251.04 129.7h0 M251.04 129.7h0 M258.3 120.69h0 M253.72 124.46h0 M249.57 127.65h0 M249.41 127.94h0 M249.55 128.09h0 M249.56 128.1h0 M249.56 128.1h0 M249.56 128.1h0 M249.56 128.1h0 M256.34 118.81h0 M252.03 122.75h0 M248.16 126.15h0 M247.98 126.4h0 M248.07 126.5h0 M248.07 126.5h0 M248.07 126.5h0 M248.07 126.5h0 M248.07 126.5h0 M254.43 116.86h0 M250.36 121.01h0 M246.75 124.64h0 M246.56 124.87h0 M246.58 124.9h0 M246.58 124.9h0 M246.58 124.9h0 M246.58 124.9h0 M246.58 124.9h0 M252.57 114.86h0 M248.72 119.24h0 M245.34 123.12h0 M245.13 123.33h0 M245.1 123.3h0 M245.1 123.3h0 M245.1 123.3h0 M245.1 123.3h0 M245.1 123.3h0 M250.76 112.81h0 M247.1 117.44h0 M243.94 121.6h0 M243.7 121.79h0 M243.61 121.7h0 M243.61 121.7h0 M243.61 121.7h0 M243.61 121.7h0 M243.61 121.7h0 M249.01 110.7h0 M245.51 115.62h0 M242.53 120.09h0 M242.27 120.26h0 M242.13 120.11h0 M242.12 120.1h0 M242.12 120.1h0 M242.12 120.1h0 M242.12 120.1h0 M247.31 108.54h0 M243.95 113.78h0 M241.14 118.57h0 M240.84 118.72h0 M240.64 118.51h0 M240.64 118.5h0 M240.64 118.5h0 M240.64 118.5h0 M240.64 118.5h0 M245.67 106.32h0 M242.43 111.92h0 M239.75 117.06h0 M239.41 117.18h0 M239.16 116.91h0 M239.15 116.9h0 M239.15 116.9h0 M239.15 116.9h0 M239.15 116.9h0 M244.08 104.06h0 M240.94 110.03h0 M238.38 115.54h0 M237.98 115.65h0 M237.67 115.31h0 M237.66 115.31h0 M237.66 115.31h0 M237.66 115.31h0 M237.66 115.31h0 M242.56 101.75h0 M239.48 108.13h0 M237.01 114.04h0 M236.55 114.11h0 M236.19 113.72h0 M236.17 113.71h0 M236.17 113.71h0 M236.17 113.71h0 M236.17 113.71h0 M241.09 99.38h0 M238.07 106.21h0 M235.65 112.54h0 M235.12 112.56h0 M234.7 112.12h0 M234.69 112.11h0 M234.69 112.11h0 M234.69 112.11h0 M234.69 112.11h0 M239.68 96.97h0 M236.68 104.27h0 M234.3 111.03h0 M233.69 111.02h0 M233.22 110.52h0 M233.2 110.51h0 M233.2 110.51h0 M233.2 110.51h0 M233.2 110.51h0 M238.33 94.51h0 M235.34 102.31h0 M232.97 109.54h0 M232.25 109.48h0 M231.73 108.92h0 M231.71 108.91h0 M231.71 108.91h0 M231.71 108.91h0 M231.71 108.91h0 M237.04 91.99h0 M234.02 100.33h0 M231.63 108.03h0 M230.81 107.93h0 M230.25 107.32h0 M230.23 107.31h0 M230.23 107.31h0 M230.23 107.31h0 M230.23 107.31h0 M235.8 89.42h0 M232.73 98.32h0 M230.3 106.53h0 M229.37 106.37h0 M228.76 105.72h0 M228.74 105.71h0 M228.74 105.71h0 M228.74 105.71h0 M228.74 105.71h0 M234.61 86.79h0 M231.46 96.27h0 M228.97 105.01h0 M227.93 104.81h0 M227.28 104.13h0 M227.25 104.11h0 M227.25 104.11h0 M227.25 104.11h0 M227.25 104.11h0 M233.46 84.1h0 M230.21 94.17h0 M227.64 103.47h0 M226.48 103.24h0 M225.79 102.53h0 M225.77 102.51h0 M225.77 102.51h0 M225.77 102.51h0 M225.77 102.51h0 M232.36 81.33h0 M228.96 92.02h0 M226.29 101.9h0 M225.02 101.66h0 M224.31 100.93h0 M224.28 100.92h0 M224.28 100.92h0 M224.28 100.92h0 M224.28 100.92h0 M231.27 78.47h0 M227.69 89.78h0 M224.91 100.28h0 M223.55 100.07h0 M222.82 99.33h0 M222.79 99.32h0 M222.79 99.32h0 M222.79 99.32h0 M222.79 99.32h0 M230.2 75.5h0 M226.39 87.44h0 M223.5 98.61h0 M222.07 98.46h0 M221.33 97.73h0 M221.31 97.72h0 M221.31 97.72h0 M221.31 97.72h0 M221.31 97.72h0 M229.11 72.4h0 M225.02 84.95h0 M222.04 96.86h0 M220.58 96.84h0 M219.85 96.13h0 M219.82 96.12h0 M219.82 96.12h0 M219.82 96.12h0 M219.82 96.12h0 M227.97 69.11h0 M223.53 82.26h0 M220.5 95.01h0 M219.06 95.19h0 M218.36 94.53h0 M218.33 94.52h0 M218.33 94.52h0 M218.33 94.52h0 M218.33 94.52h0 M226.73 65.56h0 M221.88 79.29h0 M218.87 93.03h0 M217.52 93.52h0 M216.87 92.92h0 M216.84 92.92h0 M216.84 92.92h0 M216.84 92.92h0 M216.84 92.92h0 M225.32 61.64h0 M219.97 75.89h0 M217.11 90.88h0 M215.94 91.8h0 M215.38 91.32h0 M215.36 91.32h0 M215.36 91.32h0 M215.36 91.32h0 M215.36 91.32h0 M223.66 57.17h0 M217.71 71.86h0 M215.19 88.49h0 M214.31 90.05h0 M213.88 89.72h0 M213.87 89.72h0 M213.87 89.72h0 M213.87 89.72h0 M213.87 89.72h0 M221.66 51.81h0 M214.96 66.79h0 M213.04 85.75h0 M212.61 88.23h0 M212.38 88.11h0 M212.38 88.12h0 M212.38 88.12h0 M212.38 88.12h0 M212.38 88.12h0 M219.24 44.99h0 M211.61 59.8h0 M210.58 82.39h0 M210.82 86.31h0 M210.87 86.5h0 M210.9 86.52h0 M210.9 86.53h0 M210.9 86.53h0 M210.9 86.53h0 M216.5 35.6h0 M208.13 48.15h0 M208.5 76.11h0 M209.23 83.64h0 M209.4 84.87h0 M209.41 84.93h0 M209.41 84.93h0 M209.41 84.93h0 M209.41 84.93h0" stroke="#505050" stroke-width="1.9" stroke-linecap="round" stroke-opacity="0.55"/>
<path d="M336 137.95h0 M331.84 137.9h0 M327.76 137.77h0 M323.77 137.53h0 M319.86 137.21h0 M316.04 136.8h0 M312.31 136.29h0 M308.66 135.69h0 M305.1 135h0 M301.62 134.21h0 M298.23 133.34h0 M294.93 132.37h0 M291.71 131.3h0 M288.58 130.15h0 M285.53 128.91h0 M282.57 127.57h0 M279.69 126.14h0 M276.91 124.61h0 M274.2 123h0 M271.58 121.29h0 M269.05 119.49h0 M266.61 117.6h0 M264.25 115.61h0 M261.97 113.54h0 M259.78 111.37h0 M257.68 109.11h0 M255.66 106.75h0 M253.73 104.31h0 M251.89 101.77h0 M250.13 99.14h0 M248.45 96.42h0 M246.86 93.6h0 M245.36 90.7h0 M243.95 87.7h0 M242.62 84.6h0 M241.37 81.42h0 M240.21 78.14h0 M239.14 74.77h0 M238.15 71.31h0 M237.25 67.76h0 M236.44 64.11h0 M235.71 60.38h0 M235.06 56.55h0 M234.5 52.62h0 M234.03 48.61h0 M233.65 44.5h0 M233.35 40.3h0 M233.13 36.01h0 M233 31.63h0 M232.96 27.15h0 M282.27 163.27h0 M280.78 161.67h0 M279.3 160.08h0 M277.81 158.48h0 M276.32 156.88h0 M274.84 155.28h0 M273.35 153.68h0 M271.86 152.08h0 M270.37 150.48h0 M268.89 148.88h0 M267.4 147.28h0 M265.91 145.69h0 M264.43 144.09h0 M262.94 142.49h0 M261.45 140.89h0 M259.97 139.29h0 M258.48 137.69h0 M256.99 136.09h0 M255.51 134.49h0 M254.02 132.89h0 M252.53 131.3h0 M251.04 129.7h0 M249.56 128.1h0 M248.07 126.5h0 M246.58 124.9h0 M245.1 123.3h0 M243.61 121.7h0 M242.12 120.1h0 M240.64 118.5h0 M239.15 116.9h0 M237.66 115.31h0 M236.17 113.71h0 M234.69 112.11h0 M233.2 110.51h0 M231.71 108.91h0 M230.23 107.31h0 M228.74 105.71h0 M227.25 104.11h0 M225.77 102.51h0 M224.28 100.92h0 M222.79 99.32h0 M221.31 97.72h0 M219.82 96.12h0 M218.33 94.52h0 M216.84 92.92h0 M215.36 91.32h0 M213.87 89.72h0 M212.38 88.12h0 M210.9 86.53h0 M209.41 84.93h0" stroke="#0A8A3C" stroke-width="2.25" stroke-linecap="round"/>
<path d="M207.2 82.55 L284.48 165.65" stroke="#EE2222" stroke-width="1.0" stroke-dasharray="2.4 1.5"/>
</g>
<line x1="197.6" x2="200.2" y1="165.65" y2="165.65" stroke="#6E6E6E" stroke-width="0.7"/>
<text transform="translate(196.1 168.35) scale(0.82 1)" text-anchor="end" font-size="7.8" fill="#909090" font-family="'Liberation Serif', serif">0</text>
<line x1="197.6" x2="200.2" y1="137.95" y2="137.95" stroke="#6E6E6E" stroke-width="0.7"/>
<text transform="translate(196.1 140.65) scale(0.82 1)" text-anchor="end" font-size="7.8" fill="#909090" font-family="'Liberation Serif', serif">2</text>
<line x1="197.6" x2="200.2" y1="110.25" y2="110.25" stroke="#6E6E6E" stroke-width="0.7"/>
<text transform="translate(196.1 112.95) scale(0.82 1)" text-anchor="end" font-size="7.8" fill="#909090" font-family="'Liberation Serif', serif">4</text>
<line x1="197.6" x2="200.2" y1="82.55" y2="82.55" stroke="#6E6E6E" stroke-width="0.7"/>
<text transform="translate(196.1 85.25) scale(0.82 1)" text-anchor="end" font-size="7.8" fill="#909090" font-family="'Liberation Serif', serif">6</text>
<line x1="197.6" x2="200.2" y1="54.85" y2="54.85" stroke="#6E6E6E" stroke-width="0.7"/>
<text transform="translate(196.1 57.55) scale(0.82 1)" text-anchor="end" font-size="7.8" fill="#909090" font-family="'Liberation Serif', serif">8</text>
<line x1="197.6" x2="200.2" y1="27.15" y2="27.15" stroke="#6E6E6E" stroke-width="0.7"/>
<text transform="translate(196.1 29.85) scale(0.82 1)" text-anchor="end" font-size="7.8" fill="#909090" font-family="'Liberation Serif', serif">10</text>
<line x1="207.2" x2="207.2" y1="172.6" y2="175" stroke="#6E6E6E" stroke-width="0.7"/>
<line x1="232.96" x2="232.96" y1="172.6" y2="175" stroke="#6E6E6E" stroke-width="0.7"/>
<line x1="258.72" x2="258.72" y1="172.6" y2="175" stroke="#6E6E6E" stroke-width="0.7"/>
<line x1="284.48" x2="284.48" y1="172.6" y2="175" stroke="#6E6E6E" stroke-width="0.7"/>
<line x1="310.24" x2="310.24" y1="172.6" y2="175" stroke="#6E6E6E" stroke-width="0.7"/>
<line x1="336" x2="336" y1="172.6" y2="175" stroke="#6E6E6E" stroke-width="0.7"/>
<text transform="translate(186.3 96.2) rotate(-90)" text-anchor="middle" font-size="9.3" font-style="italic" fill="#7A7A7A" font-family="'Liberation Serif', serif">f<tspan font-size="6.3" font-style="normal" dy="1.5">2</tspan></text>
<rect x="30.5" y="180.0" width="141.5" height="152" fill="#E5E5E5"/>
<path d="M30.1 180.0 V332.0 M65.65 180.0 V332.0 M101.2 180.0 V332.0 M136.75 180.0 V332.0 M172.3 180.0 V332.0 M30.5 332.25 H172.0 M30.5 313.22 H172.0 M30.5 294.2 H172.0 M30.5 275.17 H172.0 M30.5 256.15 H172.0 M30.5 237.12 H172.0 M30.5 218.1 H172.0 M30.5 199.07 H172.0 M30.5 180.05 H172.0" stroke="#FFFFFF" stroke-width="0.7" fill="none"/>
<g clip-path="url(#c01)" fill="none">
<ellipse cx="136.75" cy="218.1" rx="50.28" ry="53.81" stroke="rgb(140,140,140)" stroke-width="0.75" stroke-opacity="0.95"/>
<ellipse cx="136.75" cy="218.1" rx="71.1" ry="76.1" stroke="rgb(152,152,152)" stroke-width="0.75" stroke-opacity="0.95"/>
<ellipse cx="136.75" cy="218.1" rx="87.08" ry="93.2" stroke="rgb(164,164,164)" stroke-width="0.75" stroke-opacity="0.95"/>
<ellipse cx="136.75" cy="218.1" rx="100.55" ry="107.62" stroke="rgb(176,176,176)" stroke-width="0.75" stroke-opacity="0.95"/>
<ellipse cx="136.75" cy="218.1" rx="112.42" ry="120.32" stroke="rgb(188,188,188)" stroke-width="0.75" stroke-opacity="0.95"/>
<ellipse cx="136.75" cy="218.1" rx="123.15" ry="131.81" stroke="rgb(200,200,200)" stroke-width="0.75" stroke-opacity="0.95"/>
<ellipse cx="136.75" cy="218.1" rx="133.02" ry="142.37" stroke="rgb(212,212,212)" stroke-width="0.75" stroke-opacity="0.95"/>
<ellipse cx="136.75" cy="218.1" rx="142.2" ry="152.2" stroke="rgb(225,225,225)" stroke-width="0.75" stroke-opacity="0.95"/>
<ellipse cx="65.65" cy="294.2" rx="50.28" ry="53.81" stroke="rgb(140,140,140)" stroke-width="0.75" stroke-opacity="0.95"/>
<ellipse cx="65.65" cy="294.2" rx="71.1" ry="76.1" stroke="rgb(152,152,152)" stroke-width="0.75" stroke-opacity="0.95"/>
<ellipse cx="65.65" cy="294.2" rx="87.08" ry="93.2" stroke="rgb(164,164,164)" stroke-width="0.75" stroke-opacity="0.95"/>
<ellipse cx="65.65" cy="294.2" rx="100.55" ry="107.62" stroke="rgb(176,176,176)" stroke-width="0.75" stroke-opacity="0.95"/>
<ellipse cx="65.65" cy="294.2" rx="112.42" ry="120.32" stroke="rgb(188,188,188)" stroke-width="0.75" stroke-opacity="0.95"/>
<ellipse cx="65.65" cy="294.2" rx="123.15" ry="131.81" stroke="rgb(200,200,200)" stroke-width="0.75" stroke-opacity="0.95"/>
<ellipse cx="65.65" cy="294.2" rx="133.02" ry="142.37" stroke="rgb(212,212,212)" stroke-width="0.75" stroke-opacity="0.95"/>
<ellipse cx="65.65" cy="294.2" rx="142.2" ry="152.2" stroke="rgb(225,225,225)" stroke-width="0.75" stroke-opacity="0.95"/>
<ellipse cx="101.2" cy="256.15" rx="35.55" ry="38.05" stroke="#EE2222" stroke-width="1.1" stroke-dasharray="2.6 1.3"/>
<path d="M104.57 328.64 L86.25 318.12 L71.64 302.27 L69.92 282.79 L76.42 284.35 L76.01 283.04 L76.06 283.06 L76.06 283.06 L76.06 283.06 L76.06 283.06 L76.06 283.06 M104.99 328.2 L90.36 317.69 L79.96 304.49 L80.96 290.45 L82.34 288.49 L84 289.51 L84.2 289.57 L84.2 289.57 L84.2 289.57 L84.2 289.57 L84.2 289.57 M105.45 327.7 L93.85 317.23 L86.01 305.54 L86.24 292.91 L86.76 290.98 L87.85 291.44 L88.07 291.51 L88.06 291.51 L88.06 291.51 L88.06 291.51 L88.06 291.51 M105.97 327.15 L96.83 316.72 L90.66 305.98 L90.07 294.17 L90.13 292.36 L91 292.61 L91.2 292.66 L91.19 292.66 L91.19 292.66 L91.19 292.66 L91.19 292.66 M106.54 326.53 L99.37 316.18 L94.37 306.07 L93.19 294.89 L93.01 293.22 L93.76 293.37 L93.94 293.4 L93.93 293.4 L93.93 293.4 L93.93 293.4 L93.93 293.4 M107.18 325.85 L101.55 315.6 L97.42 305.93 L95.86 295.28 L95.58 293.75 L96.26 293.84 L96.41 293.85 L96.41 293.85 L96.41 293.85 L96.41 293.85 L96.41 293.85 M107.89 325.09 L103.44 314.96 L99.98 305.64 L98.22 295.46 L97.93 294.07 L98.56 294.1 L98.7 294.11 L98.7 294.11 L98.7 294.11 L98.7 294.11 L98.7 294.11 M108.67 324.26 L105.11 314.28 L102.18 305.24 L100.34 295.47 L100.12 294.2 L100.72 294.2 L100.84 294.2 L100.84 294.2 L100.84 294.2 L100.84 294.2 L100.84 294.2 M109.52 323.34 L106.62 313.53 L104.1 304.76 L102.29 295.37 L102.17 294.2 L102.74 294.17 L102.85 294.16 L102.85 294.16 L102.85 294.16 L102.85 294.16 L102.85 294.16 M110.47 322.33 L108.02 312.73 L105.82 304.21 L104.09 295.18 L104.11 294.09 L104.67 294.02 L104.77 294.01 L104.76 294.01 L104.76 294.01 L104.76 294.01 L104.76 294.01 M111.5 321.23 L109.36 311.86 L107.39 303.6 L105.78 294.91 L105.96 293.87 L106.5 293.78 L106.59 293.76 L106.59 293.76 L106.59 293.76 L106.59 293.76 L106.59 293.76 M112.63 320.02 L110.67 310.92 L108.88 302.93 L107.39 294.57 L107.73 293.57 L108.25 293.45 L108.33 293.43 L108.33 293.43 L108.33 293.43 L108.33 293.43 L108.33 293.43 M113.85 318.71 L111.98 309.9 L110.3 302.2 L108.94 294.17 L109.43 293.18 L109.93 293.04 L110 293.02 L109.99 293.02 L109.99 293.02 L109.99 293.02 L109.99 293.02 M115.17 317.29 L113.32 308.81 L111.7 301.4 L110.44 293.71 L111.07 292.72 L111.54 292.56 L111.6 292.54 L111.6 292.54 L111.6 292.54 L111.6 292.54 L111.6 292.54 M116.6 315.77 L114.7 307.62 L113.1 300.53 L111.91 293.19 L112.65 292.2 L113.09 292.01 L113.14 291.99 L113.14 291.99 L113.14 291.99 L113.14 291.99 L113.14 291.99 M118.13 314.13 L116.15 306.35 L114.53 299.6 L113.35 292.61 L114.17 291.6 L114.58 291.41 L114.62 291.38 L114.62 291.38 L114.62 291.38 L114.62 291.38 L114.62 291.38 M119.76 312.39 L117.66 304.99 L115.98 298.58 L114.79 291.95 L115.64 290.94 L116.01 290.74 L116.06 290.72 L116.06 290.72 L116.06 290.72 L116.06 290.72 L116.06 290.72 M121.48 310.54 L119.25 303.54 L117.48 297.49 L116.22 291.22 L117.07 290.23 L117.4 290.02 L117.44 290 L117.44 290 L117.44 290 L117.44 290 L117.44 290 M123.3 308.59 L120.91 302 L119.02 296.31 L117.65 290.42 L118.45 289.45 L118.74 289.25 L118.77 289.23 L118.77 289.23 L118.77 289.23 L118.77 289.23 L118.77 289.23 M125.21 306.55 L122.63 300.37 L120.6 295.04 L119.07 289.54 L119.78 288.61 L120.03 288.43 L120.05 288.41 L120.05 288.41 L120.05 288.41 L120.05 288.41 L120.05 288.41 M127.2 304.43 L124.42 298.65 L122.22 293.68 L120.48 288.57 L121.07 287.72 L121.27 287.55 L121.29 287.54 L121.29 287.54 L121.29 287.54 L121.29 287.54 L121.29 287.54 M129.25 302.23 L126.26 296.84 L123.87 292.23 L121.88 287.53 L122.32 286.77 L122.47 286.64 L122.49 286.62 L122.49 286.62 L122.49 286.62 L122.49 286.62 L122.49 286.62 M131.35 299.98 L128.14 294.97 L125.53 290.71 L123.25 286.4 L123.52 285.77 L123.63 285.67 L123.64 285.66 L123.64 285.66 L123.64 285.66 L123.64 285.66 L123.64 285.66 M133.49 297.68 L130.03 293.04 L127.19 289.1 L124.6 285.2 L124.68 284.72 L124.75 284.66 L124.75 284.65 L124.75 284.65 L124.75 284.65 L124.75 284.65 L124.75 284.65 M135.66 295.36 L131.93 291.05 L128.83 287.44 L125.9 283.92 L125.8 283.62 L125.82 283.6 L125.82 283.6 L125.82 283.6 L125.82 283.6 L125.82 283.6 L125.82 283.6 M137.84 293.04 L133.81 289.04 L130.43 285.72 L127.15 282.58 L126.87 282.48 L126.85 282.5 L126.85 282.5 L126.85 282.5 L126.85 282.5 L126.85 282.5 L126.85 282.5 M140.01 290.72 L135.66 287.01 L131.99 283.96 L128.34 281.19 L127.9 281.28 L127.83 281.35 L127.83 281.36 L127.83 281.36 L127.83 281.36 L127.83 281.36 L127.83 281.36 M142.15 288.42 L137.47 284.98 L133.49 282.19 L129.46 279.76 L128.88 280.04 L128.78 280.16 L128.77 280.17 L128.77 280.17 L128.77 280.17 L128.77 280.17 L128.77 280.17 M144.25 286.17 L139.22 282.97 L134.91 280.41 L130.52 278.28 L129.81 278.75 L129.68 278.92 L129.67 278.94 L129.67 278.94 L129.67 278.94 L129.67 278.94 L129.67 278.94 M146.3 283.97 L140.9 281.01 L136.26 278.65 L131.49 276.79 L130.69 277.42 L130.54 277.64 L130.53 277.66 L130.53 277.66 L130.53 277.66 L130.53 277.66 L130.53 277.66 M148.29 281.85 L142.51 279.09 L137.53 276.92 L132.4 275.28 L131.53 276.04 L131.36 276.3 L131.34 276.33 L131.34 276.33 L131.34 276.33 L131.34 276.33 L131.34 276.33 M150.2 279.81 L144.04 277.24 L138.72 275.22 L133.22 273.76 L132.31 274.61 L132.12 274.92 L132.11 274.95 L132.11 274.95 L132.11 274.95 L132.11 274.95 L132.11 274.95 M152.02 277.86 L145.48 275.47 L139.82 273.57 L133.97 272.23 L133.04 273.14 L132.85 273.49 L132.83 273.53 L132.83 273.53 L132.83 273.53 L132.83 273.53 L132.83 273.53 M153.74 276.01 L146.84 273.77 L140.84 271.97 L134.65 270.7 L133.71 271.61 L133.52 272.01 L133.5 272.05 L133.5 272.05 L133.5 272.05 L133.5 272.05 L133.5 272.05 M155.37 274.27 L148.11 272.15 L141.79 270.41 L135.26 269.16 L134.32 270.03 L134.14 270.47 L134.12 270.52 L134.12 270.52 L134.12 270.52 L134.12 270.52 L134.12 270.52 M156.9 272.63 L149.29 270.6 L142.67 268.89 L135.81 267.61 L134.88 268.4 L134.71 268.87 L134.69 268.93 L134.69 268.93 L134.69 268.93 L134.69 268.93 L134.69 268.93 M158.33 271.11 L150.4 269.12 L143.48 267.39 L136.29 266.04 L135.37 266.71 L135.22 267.21 L135.2 267.28 L135.2 267.28 L135.2 267.28 L135.2 267.28 L135.2 267.28 M159.65 269.69 L151.42 267.69 L144.22 265.89 L136.72 264.43 L135.8 264.96 L135.67 265.49 L135.64 265.56 L135.65 265.56 L135.65 265.56 L135.65 265.56 L135.65 265.56 M160.87 268.38 L152.37 266.28 L144.91 264.37 L137.1 262.78 L136.16 263.14 L136.05 263.69 L136.03 263.78 L136.03 263.78 L136.03 263.78 L136.03 263.78 L136.03 263.78 M162 267.17 L153.25 264.88 L145.53 262.78 L137.41 261.06 L136.44 261.25 L136.36 261.82 L136.34 261.92 L136.34 261.91 L136.34 261.91 L136.34 261.91 L136.34 261.91 M163.03 266.07 L154.06 263.45 L146.11 261.09 L137.66 259.25 L136.65 259.27 L136.59 259.86 L136.57 259.97 L136.57 259.96 L136.57 259.96 L136.57 259.96 L136.57 259.96 M163.98 265.06 L154.81 261.95 L146.62 259.25 L137.85 257.32 L136.75 257.19 L136.72 257.8 L136.71 257.92 L136.71 257.92 L136.71 257.92 L136.71 257.92 L136.71 257.92 M164.83 264.14 L155.51 260.33 L147.07 257.19 L137.94 255.23 L136.75 254.99 L136.75 255.63 L136.75 255.76 L136.75 255.76 L136.75 255.76 L136.75 255.76 L136.75 255.76 M165.61 263.31 L156.15 258.54 L147.44 254.85 L137.92 252.96 L136.62 252.65 L136.66 253.33 L136.66 253.48 L136.66 253.47 L136.66 253.47 L136.66 253.47 L136.66 253.47 M166.32 262.55 L156.74 256.52 L147.71 252.11 L137.76 250.44 L136.33 250.14 L136.41 250.86 L136.43 251.03 L136.43 251.02 L136.43 251.02 L136.43 251.02 L136.43 251.02 M166.96 261.87 L157.29 254.19 L147.84 248.84 L137.4 247.57 L135.83 247.39 L135.97 248.19 L136 248.37 L136 248.37 L136 248.37 L136 248.37 L136 248.37 M167.53 261.25 L157.79 251.47 L147.76 244.87 L136.72 244.23 L135.03 244.3 L135.27 245.23 L135.31 245.44 L135.31 245.44 L135.31 245.44 L135.31 245.44 L135.31 245.44 M168.05 260.7 L158.26 248.29 L147.35 239.89 L135.54 240.14 L133.74 240.69 L134.17 241.86 L134.24 242.09 L134.23 242.09 L134.23 242.09 L134.23 242.09 L134.23 242.09 M168.51 260.2 L158.7 244.54 L146.36 233.42 L133.25 234.49 L131.42 235.96 L132.37 237.74 L132.42 237.96 L132.42 237.95 L132.42 237.95 L132.42 237.95 L132.42 237.95 M168.93 259.76 L159.09 240.15 L144.29 224.51 L126.09 222.67 L127.54 229.62 L126.32 229.19 L126.34 229.24 L126.34 229.24 L126.34 229.24 L126.34 229.24 L126.34 229.24" stroke="#505050" stroke-width="1.1" stroke-opacity="0.64" stroke-linejoin="round"/>
<path d="M86.25 318.12h0 M71.64 302.27h0 M69.92 282.79h0 M76.42 284.35h0 M76.01 283.04h0 M76.06 283.06h0 M76.06 283.06h0 M76.06 283.06h0 M76.06 283.06h0 M90.36 317.69h0 M79.96 304.49h0 M80.96 290.45h0 M82.34 288.49h0 M84 289.51h0 M84.2 289.57h0 M84.2 289.57h0 M84.2 289.57h0 M84.2 289.57h0 M93.85 317.23h0 M86.01 305.54h0 M86.24 292.91h0 M86.76 290.98h0 M87.85 291.44h0 M88.07 291.51h0 M88.06 291.51h0 M88.06 291.51h0 M88.06 291.51h0 M96.83 316.72h0 M90.66 305.98h0 M90.07 294.17h0 M90.13 292.36h0 M91 292.61h0 M91.2 292.66h0 M91.19 292.66h0 M91.19 292.66h0 M91.19 292.66h0 M99.37 316.18h0 M94.37 306.07h0 M93.19 294.89h0 M93.01 293.22h0 M93.76 293.37h0 M93.94 293.4h0 M93.93 293.4h0 M93.93 293.4h0 M93.93 293.4h0 M101.55 315.6h0 M97.42 305.93h0 M95.86 295.28h0 M95.58 293.75h0 M96.26 293.84h0 M96.41 293.85h0 M96.41 293.85h0 M96.41 293.85h0 M96.41 293.85h0 M103.44 314.96h0 M99.98 305.64h0 M98.22 295.46h0 M97.93 294.07h0 M98.56 294.1h0 M98.7 294.11h0 M98.7 294.11h0 M98.7 294.11h0 M98.7 294.11h0 M105.11 314.28h0 M102.18 305.24h0 M100.34 295.47h0 M100.12 294.2h0 M100.72 294.2h0 M100.84 294.2h0 M100.84 294.2h0 M100.84 294.2h0 M100.84 294.2h0 M106.62 313.53h0 M104.1 304.76h0 M102.29 295.37h0 M102.17 294.2h0 M102.74 294.17h0 M102.85 294.16h0 M102.85 294.16h0 M102.85 294.16h0 M102.85 294.16h0 M108.02 312.73h0 M105.82 304.21h0 M104.09 295.18h0 M104.11 294.09h0 M104.67 294.02h0 M104.77 294.01h0 M104.76 294.01h0 M104.76 294.01h0 M104.76 294.01h0 M109.36 311.86h0 M107.39 303.6h0 M105.78 294.91h0 M105.96 293.87h0 M106.5 293.78h0 M106.59 293.76h0 M106.59 293.76h0 M106.59 293.76h0 M106.59 293.76h0 M110.67 310.92h0 M108.88 302.93h0 M107.39 294.57h0 M107.73 293.57h0 M108.25 293.45h0 M108.33 293.43h0 M108.33 293.43h0 M108.33 293.43h0 M108.33 293.43h0 M111.98 309.9h0 M110.3 302.2h0 M108.94 294.17h0 M109.43 293.18h0 M109.93 293.04h0 M110 293.02h0 M109.99 293.02h0 M109.99 293.02h0 M109.99 293.02h0 M113.32 308.81h0 M111.7 301.4h0 M110.44 293.71h0 M111.07 292.72h0 M111.54 292.56h0 M111.6 292.54h0 M111.6 292.54h0 M111.6 292.54h0 M111.6 292.54h0 M114.7 307.62h0 M113.1 300.53h0 M111.91 293.19h0 M112.65 292.2h0 M113.09 292.01h0 M113.14 291.99h0 M113.14 291.99h0 M113.14 291.99h0 M113.14 291.99h0 M116.15 306.35h0 M114.53 299.6h0 M113.35 292.61h0 M114.17 291.6h0 M114.58 291.41h0 M114.62 291.38h0 M114.62 291.38h0 M114.62 291.38h0 M114.62 291.38h0 M117.66 304.99h0 M115.98 298.58h0 M114.79 291.95h0 M115.64 290.94h0 M116.01 290.74h0 M116.06 290.72h0 M116.06 290.72h0 M116.06 290.72h0 M116.06 290.72h0 M119.25 303.54h0 M117.48 297.49h0 M116.22 291.22h0 M117.07 290.23h0 M117.4 290.02h0 M117.44 290h0 M117.44 290h0 M117.44 290h0 M117.44 290h0 M120.91 302h0 M119.02 296.31h0 M117.65 290.42h0 M118.45 289.45h0 M118.74 289.25h0 M118.77 289.23h0 M118.77 289.23h0 M118.77 289.23h0 M118.77 289.23h0 M122.63 300.37h0 M120.6 295.04h0 M119.07 289.54h0 M119.78 288.61h0 M120.03 288.43h0 M120.05 288.41h0 M120.05 288.41h0 M120.05 288.41h0 M120.05 288.41h0 M124.42 298.65h0 M122.22 293.68h0 M120.48 288.57h0 M121.07 287.72h0 M121.27 287.55h0 M121.29 287.54h0 M121.29 287.54h0 M121.29 287.54h0 M121.29 287.54h0 M126.26 296.84h0 M123.87 292.23h0 M121.88 287.53h0 M122.32 286.77h0 M122.47 286.64h0 M122.49 286.62h0 M122.49 286.62h0 M122.49 286.62h0 M122.49 286.62h0 M128.14 294.97h0 M125.53 290.71h0 M123.25 286.4h0 M123.52 285.77h0 M123.63 285.67h0 M123.64 285.66h0 M123.64 285.66h0 M123.64 285.66h0 M123.64 285.66h0 M130.03 293.04h0 M127.19 289.1h0 M124.6 285.2h0 M124.68 284.72h0 M124.75 284.66h0 M124.75 284.65h0 M124.75 284.65h0 M124.75 284.65h0 M124.75 284.65h0 M131.93 291.05h0 M128.83 287.44h0 M125.9 283.92h0 M125.8 283.62h0 M125.82 283.6h0 M125.82 283.6h0 M125.82 283.6h0 M125.82 283.6h0 M125.82 283.6h0 M133.81 289.04h0 M130.43 285.72h0 M127.15 282.58h0 M126.87 282.48h0 M126.85 282.5h0 M126.85 282.5h0 M126.85 282.5h0 M126.85 282.5h0 M126.85 282.5h0 M135.66 287.01h0 M131.99 283.96h0 M128.34 281.19h0 M127.9 281.28h0 M127.83 281.35h0 M127.83 281.36h0 M127.83 281.36h0 M127.83 281.36h0 M127.83 281.36h0 M137.47 284.98h0 M133.49 282.19h0 M129.46 279.76h0 M128.88 280.04h0 M128.78 280.16h0 M128.77 280.17h0 M128.77 280.17h0 M128.77 280.17h0 M128.77 280.17h0 M139.22 282.97h0 M134.91 280.41h0 M130.52 278.28h0 M129.81 278.75h0 M129.68 278.92h0 M129.67 278.94h0 M129.67 278.94h0 M129.67 278.94h0 M129.67 278.94h0 M140.9 281.01h0 M136.26 278.65h0 M131.49 276.79h0 M130.69 277.42h0 M130.54 277.64h0 M130.53 277.66h0 M130.53 277.66h0 M130.53 277.66h0 M130.53 277.66h0 M142.51 279.09h0 M137.53 276.92h0 M132.4 275.28h0 M131.53 276.04h0 M131.36 276.3h0 M131.34 276.33h0 M131.34 276.33h0 M131.34 276.33h0 M131.34 276.33h0 M144.04 277.24h0 M138.72 275.22h0 M133.22 273.76h0 M132.31 274.61h0 M132.12 274.92h0 M132.11 274.95h0 M132.11 274.95h0 M132.11 274.95h0 M132.11 274.95h0 M145.48 275.47h0 M139.82 273.57h0 M133.97 272.23h0 M133.04 273.14h0 M132.85 273.49h0 M132.83 273.53h0 M132.83 273.53h0 M132.83 273.53h0 M132.83 273.53h0 M146.84 273.77h0 M140.84 271.97h0 M134.65 270.7h0 M133.71 271.61h0 M133.52 272.01h0 M133.5 272.05h0 M133.5 272.05h0 M133.5 272.05h0 M133.5 272.05h0 M148.11 272.15h0 M141.79 270.41h0 M135.26 269.16h0 M134.32 270.03h0 M134.14 270.47h0 M134.12 270.52h0 M134.12 270.52h0 M134.12 270.52h0 M134.12 270.52h0 M149.29 270.6h0 M142.67 268.89h0 M135.81 267.61h0 M134.88 268.4h0 M134.71 268.87h0 M134.69 268.93h0 M134.69 268.93h0 M134.69 268.93h0 M134.69 268.93h0 M150.4 269.12h0 M143.48 267.39h0 M136.29 266.04h0 M135.37 266.71h0 M135.22 267.21h0 M135.2 267.28h0 M135.2 267.28h0 M135.2 267.28h0 M135.2 267.28h0 M151.42 267.69h0 M144.22 265.89h0 M136.72 264.43h0 M135.8 264.96h0 M135.67 265.49h0 M135.64 265.56h0 M135.65 265.56h0 M135.65 265.56h0 M135.65 265.56h0 M152.37 266.28h0 M144.91 264.37h0 M137.1 262.78h0 M136.16 263.14h0 M136.05 263.69h0 M136.03 263.78h0 M136.03 263.78h0 M136.03 263.78h0 M136.03 263.78h0 M153.25 264.88h0 M145.53 262.78h0 M137.41 261.06h0 M136.44 261.25h0 M136.36 261.82h0 M136.34 261.92h0 M136.34 261.91h0 M136.34 261.91h0 M136.34 261.91h0 M154.06 263.45h0 M146.11 261.09h0 M137.66 259.25h0 M136.65 259.27h0 M136.59 259.86h0 M136.57 259.97h0 M136.57 259.96h0 M136.57 259.96h0 M136.57 259.96h0 M154.81 261.95h0 M146.62 259.25h0 M137.85 257.32h0 M136.75 257.19h0 M136.72 257.8h0 M136.71 257.92h0 M136.71 257.92h0 M136.71 257.92h0 M136.71 257.92h0 M155.51 260.33h0 M147.07 257.19h0 M137.94 255.23h0 M136.75 254.99h0 M136.75 255.63h0 M136.75 255.76h0 M136.75 255.76h0 M136.75 255.76h0 M136.75 255.76h0 M156.15 258.54h0 M147.44 254.85h0 M137.92 252.96h0 M136.62 252.65h0 M136.66 253.33h0 M136.66 253.48h0 M136.66 253.47h0 M136.66 253.47h0 M136.66 253.47h0 M156.74 256.52h0 M147.71 252.11h0 M137.76 250.44h0 M136.33 250.14h0 M136.41 250.86h0 M136.43 251.03h0 M136.43 251.02h0 M136.43 251.02h0 M136.43 251.02h0 M157.29 254.19h0 M147.84 248.84h0 M137.4 247.57h0 M135.83 247.39h0 M135.97 248.19h0 M136 248.37h0 M136 248.37h0 M136 248.37h0 M136 248.37h0 M157.79 251.47h0 M147.76 244.87h0 M136.72 244.23h0 M135.03 244.3h0 M135.27 245.23h0 M135.31 245.44h0 M135.31 245.44h0 M135.31 245.44h0 M135.31 245.44h0 M158.26 248.29h0 M147.35 239.89h0 M135.54 240.14h0 M133.74 240.69h0 M134.17 241.86h0 M134.24 242.09h0 M134.23 242.09h0 M134.23 242.09h0 M134.23 242.09h0 M158.7 244.54h0 M146.36 233.42h0 M133.25 234.49h0 M131.42 235.96h0 M132.37 237.74h0 M132.42 237.96h0 M132.42 237.95h0 M132.42 237.95h0 M132.42 237.95h0 M159.09 240.15h0 M144.29 224.51h0 M126.09 222.67h0 M127.54 229.62h0 M126.32 229.19h0 M126.34 229.24h0 M126.34 229.24h0 M126.34 229.24h0 M126.34 229.24h0" stroke="#505050" stroke-width="1.9" stroke-linecap="round" stroke-opacity="0.55"/>
</g>
<path d="M104.57 328.64h0 M104.99 328.2h0 M105.45 327.7h0 M105.97 327.15h0 M106.54 326.53h0 M107.18 325.85h0 M107.89 325.09h0 M108.67 324.26h0 M109.52 323.34h0 M110.47 322.33h0 M111.5 321.23h0 M112.63 320.02h0 M113.85 318.71h0 M115.17 317.29h0 M116.6 315.77h0 M118.13 314.13h0 M119.76 312.39h0 M121.48 310.54h0 M123.3 308.59h0 M125.21 306.55h0 M127.2 304.43h0 M129.25 302.23h0 M131.35 299.98h0 M133.49 297.68h0 M135.66 295.36h0 M137.84 293.04h0 M140.01 290.72h0 M142.15 288.42h0 M144.25 286.17h0 M146.3 283.97h0 M148.29 281.85h0 M150.2 279.81h0 M152.02 277.86h0 M153.74 276.01h0 M155.37 274.27h0 M156.9 272.63h0 M158.33 271.11h0 M159.65 269.69h0 M160.87 268.38h0 M162 267.17h0 M163.03 266.07h0 M163.98 265.06h0 M164.83 264.14h0 M165.61 263.31h0 M166.32 262.55h0 M166.96 261.87h0 M167.53 261.25h0 M168.05 260.7h0 M168.51 260.2h0 M168.93 259.76h0 M76.06 283.06h0 M84.2 289.57h0 M88.06 291.51h0 M91.19 292.66h0 M93.93 293.4h0 M96.41 293.85h0 M98.7 294.11h0 M100.84 294.2h0 M102.85 294.16h0 M104.76 294.01h0 M106.59 293.76h0 M108.33 293.43h0 M109.99 293.02h0 M111.6 292.54h0 M113.14 291.99h0 M114.62 291.38h0 M116.06 290.72h0 M117.44 290h0 M118.77 289.23h0 M120.05 288.41h0 M121.29 287.54h0 M122.49 286.62h0 M123.64 285.66h0 M124.75 284.65h0 M125.82 283.6h0 M126.85 282.5h0 M127.83 281.36h0 M128.77 280.17h0 M129.67 278.94h0 M130.53 277.66h0 M131.34 276.33h0 M132.11 274.95h0 M132.83 273.53h0 M133.5 272.05h0 M134.12 270.52h0 M134.69 268.93h0 M135.2 267.28h0 M135.65 265.56h0 M136.03 263.78h0 M136.34 261.91h0 M136.57 259.96h0 M136.71 257.92h0 M136.75 255.76h0 M136.66 253.47h0 M136.43 251.02h0 M136 248.37h0 M135.31 245.44h0 M134.23 242.09h0 M132.42 237.95h0 M126.34 229.24h0" stroke="#0A8A3C" stroke-width="2.45" stroke-linecap="round" fill="none" clip-path="url(#m01)"/>
<line x1="27.1" x2="29.7" y1="180.05" y2="180.05" stroke="#6E6E6E" stroke-width="0.7"/>
<text transform="translate(25.6 182.75) scale(0.82 1)" text-anchor="end" font-size="7.8" fill="#909090" font-family="'Liberation Serif', serif">2.0</text>
<line x1="27.1" x2="29.7" y1="199.07" y2="199.07" stroke="#6E6E6E" stroke-width="0.7"/>
<text transform="translate(25.6 201.77) scale(0.82 1)" text-anchor="end" font-size="7.8" fill="#909090" font-family="'Liberation Serif', serif">1.5</text>
<line x1="27.1" x2="29.7" y1="218.1" y2="218.1" stroke="#6E6E6E" stroke-width="0.7"/>
<text transform="translate(25.6 220.8) scale(0.82 1)" text-anchor="end" font-size="7.8" fill="#909090" font-family="'Liberation Serif', serif">1.0</text>
<line x1="27.1" x2="29.7" y1="237.12" y2="237.12" stroke="#6E6E6E" stroke-width="0.7"/>
<text transform="translate(25.6 239.82) scale(0.82 1)" text-anchor="end" font-size="7.8" fill="#909090" font-family="'Liberation Serif', serif">0.5</text>
<line x1="27.1" x2="29.7" y1="256.15" y2="256.15" stroke="#6E6E6E" stroke-width="0.7"/>
<text transform="translate(25.6 258.85) scale(0.82 1)" text-anchor="end" font-size="7.8" fill="#909090" font-family="'Liberation Serif', serif">0.0</text>
<line x1="27.1" x2="29.7" y1="275.17" y2="275.17" stroke="#6E6E6E" stroke-width="0.7"/>
<text transform="translate(25.6 277.87) scale(0.82 1)" text-anchor="end" font-size="7.8" fill="#909090" font-family="'Liberation Serif', serif">−0.5</text>
<line x1="27.1" x2="29.7" y1="294.2" y2="294.2" stroke="#6E6E6E" stroke-width="0.7"/>
<text transform="translate(25.6 296.9) scale(0.82 1)" text-anchor="end" font-size="7.8" fill="#909090" font-family="'Liberation Serif', serif">−1.0</text>
<line x1="27.1" x2="29.7" y1="313.22" y2="313.22" stroke="#6E6E6E" stroke-width="0.7"/>
<text transform="translate(25.6 315.92) scale(0.82 1)" text-anchor="end" font-size="7.8" fill="#909090" font-family="'Liberation Serif', serif">−1.5</text>
<line x1="27.1" x2="29.7" y1="332.25" y2="332.25" stroke="#6E6E6E" stroke-width="0.7"/>
<text transform="translate(25.6 334.95) scale(0.82 1)" text-anchor="end" font-size="7.8" fill="#909090" font-family="'Liberation Serif', serif">−2.0</text>
<line x1="30.1" x2="30.1" y1="332.6" y2="335" stroke="#6E6E6E" stroke-width="0.7"/>
<line x1="65.65" x2="65.65" y1="332.6" y2="335" stroke="#6E6E6E" stroke-width="0.7"/>
<line x1="101.2" x2="101.2" y1="332.6" y2="335" stroke="#6E6E6E" stroke-width="0.7"/>
<line x1="136.75" x2="136.75" y1="332.6" y2="335" stroke="#6E6E6E" stroke-width="0.7"/>
<line x1="172.3" x2="172.3" y1="332.6" y2="335" stroke="#6E6E6E" stroke-width="0.7"/>
<text transform="translate(8.6 256.2) rotate(-90)" text-anchor="middle" font-size="9.3" font-style="italic" fill="#7A7A7A" font-family="'Liberation Serif', serif">x<tspan font-size="6.3" font-style="normal" dy="1.5">2</tspan></text>
<rect x="201.0" y="180.0" width="141" height="152" fill="#E5E5E5"/>
<path d="M207 180.0 V332.0 M201.0 325.3 H342.0 M234.8 180.0 V332.0 M201.0 295.44 H342.0 M262.6 180.0 V332.0 M201.0 265.58 H342.0 M290.4 180.0 V332.0 M201.0 235.72 H342.0 M318.2 180.0 V332.0 M201.0 205.86 H342.0" stroke="#FFFFFF" stroke-width="0.7" fill="none"/>
<g clip-path="url(#c11)" fill="none">
<path d="M335.7 295.17 L331.09 314.39 L321.65 324.2 L296.3 323.74 L289.17 322.93 L288.06 322.75 L288.02 322.74 L288.02 322.74 L288.02 322.74 L288.02 322.74 L288.02 322.74 M334.47 295.1 L325.89 312.4 L314.12 321.79 L291.49 322.39 L287.14 321.68 L286.57 321.09 L286.41 321.01 L286.41 321.01 L286.41 321.01 L286.41 321.01 L286.41 321.01 M333.1 295.01 L321.57 310.44 L308.73 319.08 L288.79 320.28 L285.48 319.93 L284.94 319.4 L284.8 319.29 L284.81 319.29 L284.81 319.29 L284.81 319.29 L284.81 319.29 M331.58 294.9 L317.91 308.58 L304.52 316.48 L286.53 318.26 L283.84 318.18 L283.33 317.68 L283.2 317.57 L283.2 317.57 L283.2 317.57 L283.2 317.57 L283.2 317.57 M329.92 294.77 L314.73 306.89 L301.05 314.1 L284.49 316.34 L282.21 316.45 L281.71 315.96 L281.6 315.84 L281.6 315.84 L281.6 315.84 L281.6 315.84 L281.6 315.84 M328.08 294.59 L311.89 305.36 L298.07 311.96 L282.58 314.51 L280.59 314.71 L280.1 314.23 L279.99 314.12 L279.99 314.12 L279.99 314.12 L279.99 314.12 L279.99 314.12 M326.07 294.38 L309.28 303.99 L295.44 310.03 L280.78 312.75 L278.98 312.99 L278.49 312.5 L278.39 312.39 L278.39 312.4 L278.39 312.4 L278.39 312.4 L278.39 312.4 M323.87 294.12 L306.82 302.75 L293.05 308.28 L279.05 311.06 L277.37 311.27 L276.88 310.77 L276.78 310.67 L276.78 310.67 L276.78 310.67 L276.78 310.67 L276.78 310.67 M321.49 293.8 L304.42 301.62 L290.83 306.69 L277.39 309.43 L275.76 309.55 L275.27 309.05 L275.18 308.95 L275.18 308.95 L275.18 308.95 L275.18 308.95 L275.18 308.95 M318.9 293.41 L302.05 300.55 L288.72 305.21 L275.77 307.83 L274.15 307.83 L273.66 307.32 L273.57 307.22 L273.57 307.23 L273.57 307.23 L273.57 307.23 L273.57 307.23 M316.12 292.93 L299.65 299.52 L286.66 303.8 L274.19 306.27 L272.55 306.1 L272.05 305.59 L271.97 305.5 L271.97 305.5 L271.97 305.5 L271.97 305.5 L271.97 305.5 M313.13 292.36 L297.2 298.48 L284.63 302.44 L272.62 304.71 L270.94 304.38 L270.44 303.86 L270.36 303.78 L270.36 303.78 L270.36 303.78 L270.36 303.78 L270.36 303.78 M309.95 291.66 L294.66 297.4 L282.59 301.09 L271.07 303.16 L269.33 302.65 L268.83 302.13 L268.76 302.05 L268.76 302.06 L268.76 302.06 L268.76 302.06 L268.76 302.06 M306.59 290.83 L292.03 296.26 L280.52 299.71 L269.5 301.6 L267.72 300.91 L267.22 300.4 L267.15 300.33 L267.15 300.33 L267.15 300.33 L267.15 300.33 L267.15 300.33 M303.05 289.84 L289.29 295.02 L278.39 298.28 L267.92 300.01 L266.1 299.17 L265.61 298.67 L265.55 298.61 L265.55 298.61 L265.55 298.61 L265.55 298.61 L265.55 298.61 M299.35 288.67 L286.45 293.65 L276.2 296.78 L266.31 298.39 L264.48 297.42 L264 296.94 L263.94 296.88 L263.94 296.88 L263.94 296.88 L263.94 296.88 L263.94 296.88 M295.53 287.3 L283.5 292.14 L273.93 295.17 L264.67 296.72 L262.84 295.66 L262.39 295.21 L262.34 295.16 L262.34 295.16 L262.34 295.16 L262.34 295.16 L262.34 295.16 M291.6 285.72 L280.46 290.46 L271.59 293.45 L262.97 294.99 L261.2 293.9 L260.78 293.48 L260.73 293.44 L260.74 293.44 L260.74 293.44 L260.74 293.44 L260.74 293.44 M287.6 283.9 L277.34 288.6 L269.18 291.6 L261.23 293.21 L259.55 292.13 L259.17 291.75 L259.13 291.71 L259.13 291.71 L259.13 291.71 L259.13 291.71 L259.13 291.71 M283.57 281.82 L274.17 286.55 L266.7 289.62 L259.44 291.36 L257.9 290.36 L257.56 290.02 L257.53 289.99 L257.53 289.99 L257.53 289.99 L257.53 289.99 L257.53 289.99 M279.55 279.47 L270.96 284.29 L264.16 287.49 L257.59 289.45 L256.23 288.58 L255.95 288.29 L255.92 288.27 L255.92 288.27 L255.92 288.27 L255.92 288.27 L255.92 288.27 M275.57 276.85 L267.74 281.83 L261.59 285.22 L255.71 287.49 L254.57 286.79 L254.34 286.56 L254.32 286.54 L254.32 286.54 L254.32 286.54 L254.32 286.54 L254.32 286.54 M271.69 273.96 L264.55 279.17 L259 282.82 L253.79 285.47 L252.89 285 L252.73 284.83 L252.71 284.82 L252.71 284.82 L252.71 284.82 L252.71 284.82 L252.71 284.82 M267.92 270.8 L261.41 276.32 L256.41 280.3 L251.85 283.42 L251.22 283.21 L251.12 283.1 L251.11 283.1 L251.11 283.1 L251.11 283.1 L251.11 283.1 L251.11 283.1 M264.33 267.38 L258.35 273.31 L253.85 277.68 L249.89 281.33 L249.54 281.41 L249.51 281.37 L249.5 281.37 L249.5 281.37 L249.5 281.37 L249.5 281.37 L249.5 281.37 M260.92 263.72 L255.41 270.14 L251.34 274.98 L247.94 279.23 L247.86 279.61 L247.89 279.65 L247.9 279.65 L247.9 279.65 L247.9 279.65 L247.9 279.65 L247.9 279.65 M257.74 259.86 L252.6 266.86 L248.9 272.23 L245.99 277.13 L246.19 277.81 L246.28 277.92 L246.29 277.92 L246.29 277.92 L246.29 277.92 L246.29 277.92 L246.29 277.92 M254.8 255.82 L249.95 263.49 L246.55 269.45 L244.08 275.04 L244.52 276.01 L244.67 276.19 L244.69 276.2 L244.69 276.2 L244.69 276.2 L244.69 276.2 L244.69 276.2 M252.1 251.64 L247.47 260.06 L244.32 266.67 L242.2 272.98 L242.85 274.21 L243.06 274.46 L243.08 274.48 L243.08 274.48 L243.08 274.48 L243.08 274.48 L243.08 274.48 M249.67 247.37 L245.18 256.6 L242.21 263.9 L240.37 270.96 L241.19 272.42 L241.45 272.73 L241.48 272.75 L241.48 272.75 L241.48 272.75 L241.48 272.75 L241.48 272.75 M247.48 243.05 L243.08 253.16 L240.22 261.18 L238.6 268.98 L239.53 270.63 L239.84 271 L239.87 271.03 L239.87 271.03 L239.87 271.03 L239.87 271.03 L239.87 271.03 M245.55 238.72 L241.17 249.75 L238.37 258.52 L236.88 267.05 L237.88 268.85 L238.23 269.27 L238.27 269.31 L238.27 269.31 L238.27 269.31 L238.27 269.31 L238.27 269.31 M243.85 234.43 L239.43 246.4 L236.65 255.92 L235.22 265.18 L236.23 267.08 L236.62 267.54 L236.67 267.58 L236.66 267.58 L236.66 267.58 L236.66 267.58 L236.66 267.58 M242.37 230.21 L237.87 243.13 L235.05 253.41 L233.61 263.36 L234.59 265.32 L235.01 265.81 L235.06 265.86 L235.06 265.86 L235.06 265.86 L235.06 265.86 L235.06 265.86 M241.1 226.1 L236.46 239.96 L233.55 250.98 L232.05 261.59 L232.96 263.56 L233.4 264.08 L233.46 264.14 L233.46 264.14 L233.46 264.14 L233.46 264.14 L233.46 264.14 M240.02 222.13 L235.19 236.91 L232.15 248.62 L230.54 259.86 L231.33 261.82 L231.79 262.35 L231.85 262.41 L231.85 262.41 L231.85 262.41 L231.85 262.41 L231.85 262.41 M239.09 218.33 L234.04 233.97 L230.82 246.34 L229.06 258.16 L229.71 260.08 L230.18 260.62 L230.25 260.69 L230.25 260.69 L230.25 260.69 L230.25 260.69 L230.25 260.69 M238.32 214.72 L232.97 231.14 L229.54 244.11 L227.61 256.49 L228.09 258.35 L228.57 258.89 L228.64 258.97 L228.64 258.96 L228.64 258.96 L228.64 258.96 L228.64 258.96 M237.67 211.3 L231.97 228.42 L228.28 241.92 L226.17 254.81 L226.48 256.62 L226.96 257.16 L227.04 257.24 L227.04 257.24 L227.04 257.24 L227.04 257.24 L227.04 257.24 M237.13 208.1 L231.01 225.78 L227.01 239.73 L224.72 253.13 L224.87 254.89 L225.35 255.43 L225.43 255.52 L225.43 255.52 L225.43 255.52 L225.43 255.52 L225.43 255.52 M236.69 205.11 L230.04 223.21 L225.71 237.53 L223.26 251.43 L223.27 253.17 L223.74 253.7 L223.83 253.8 L223.83 253.79 L223.83 253.79 L223.83 253.79 L223.83 253.79 M236.32 202.33 L229.05 220.66 L224.33 235.26 L221.78 249.7 L221.67 251.45 L222.13 251.97 L222.22 252.07 L222.22 252.07 L222.22 252.07 L222.22 252.07 L222.22 252.07 M236.03 199.77 L227.99 218.09 L222.84 232.87 L220.25 247.91 L220.07 249.72 L220.52 250.24 L220.62 250.35 L220.62 250.35 L220.62 250.35 L220.62 250.35 L220.62 250.35 M235.78 197.41 L226.84 215.44 L221.22 230.31 L218.68 246.06 L218.46 247.99 L218.91 248.51 L219.01 248.62 L219.01 248.62 L219.01 248.62 L219.01 248.62 L219.01 248.62 M235.59 195.25 L225.57 212.64 L219.42 227.48 L217.05 244.12 L216.86 246.26 L217.31 246.78 L217.41 246.9 L217.41 246.9 L217.41 246.9 L217.41 246.9 L217.41 246.9 M235.43 193.28 L224.14 209.59 L217.43 224.28 L215.34 242.07 L215.24 244.52 L215.7 245.05 L215.81 245.18 L215.8 245.18 L215.8 245.18 L215.8 245.18 L215.8 245.18 M235.3 191.48 L222.56 206.17 L215.21 220.56 L213.56 239.88 L213.63 242.77 L214.09 243.32 L214.2 243.45 L214.2 243.45 L214.2 243.45 L214.2 243.45 L214.2 243.45 M235.2 189.86 L220.84 202.24 L212.79 216.03 L211.68 237.45 L212 241.01 L212.49 241.59 L212.6 241.73 L212.59 241.73 L212.59 241.73 L212.59 241.73 L212.59 241.73 M235.12 188.39 L219.01 197.6 L210.27 210.25 L209.71 234.55 L210.37 239.22 L210.91 239.84 L210.99 240.01 L210.99 240.01 L210.99 240.01 L210.99 240.01 L210.99 240.01 M235.05 187.06 L217.16 192.01 L208.02 202.16 L208.45 229.38 L209.21 237.04 L209.38 238.23 L209.38 238.28 L209.38 238.28 L209.38 238.28 L209.38 238.28 L209.38 238.28" stroke="#505050" stroke-width="1.1" stroke-opacity="0.64" stroke-linejoin="round"/>
<path d="M331.09 314.39h0 M321.65 324.2h0 M296.3 323.74h0 M289.17 322.93h0 M288.06 322.75h0 M288.02 322.74h0 M288.02 322.74h0 M288.02 322.74h0 M288.02 322.74h0 M325.89 312.4h0 M314.12 321.79h0 M291.49 322.39h0 M287.14 321.68h0 M286.57 321.09h0 M286.41 321.01h0 M286.41 321.01h0 M286.41 321.01h0 M286.41 321.01h0 M321.57 310.44h0 M308.73 319.08h0 M288.79 320.28h0 M285.48 319.93h0 M284.94 319.4h0 M284.8 319.29h0 M284.81 319.29h0 M284.81 319.29h0 M284.81 319.29h0 M317.91 308.58h0 M304.52 316.48h0 M286.53 318.26h0 M283.84 318.18h0 M283.33 317.68h0 M283.2 317.57h0 M283.2 317.57h0 M283.2 317.57h0 M283.2 317.57h0 M314.73 306.89h0 M301.05 314.1h0 M284.49 316.34h0 M282.21 316.45h0 M281.71 315.96h0 M281.6 315.84h0 M281.6 315.84h0 M281.6 315.84h0 M281.6 315.84h0 M311.89 305.36h0 M298.07 311.96h0 M282.58 314.51h0 M280.59 314.71h0 M280.1 314.23h0 M279.99 314.12h0 M279.99 314.12h0 M279.99 314.12h0 M279.99 314.12h0 M309.28 303.99h0 M295.44 310.03h0 M280.78 312.75h0 M278.98 312.99h0 M278.49 312.5h0 M278.39 312.39h0 M278.39 312.4h0 M278.39 312.4h0 M278.39 312.4h0 M306.82 302.75h0 M293.05 308.28h0 M279.05 311.06h0 M277.37 311.27h0 M276.88 310.77h0 M276.78 310.67h0 M276.78 310.67h0 M276.78 310.67h0 M276.78 310.67h0 M304.42 301.62h0 M290.83 306.69h0 M277.39 309.43h0 M275.76 309.55h0 M275.27 309.05h0 M275.18 308.95h0 M275.18 308.95h0 M275.18 308.95h0 M275.18 308.95h0 M302.05 300.55h0 M288.72 305.21h0 M275.77 307.83h0 M274.15 307.83h0 M273.66 307.32h0 M273.57 307.22h0 M273.57 307.23h0 M273.57 307.23h0 M273.57 307.23h0 M299.65 299.52h0 M286.66 303.8h0 M274.19 306.27h0 M272.55 306.1h0 M272.05 305.59h0 M271.97 305.5h0 M271.97 305.5h0 M271.97 305.5h0 M271.97 305.5h0 M297.2 298.48h0 M284.63 302.44h0 M272.62 304.71h0 M270.94 304.38h0 M270.44 303.86h0 M270.36 303.78h0 M270.36 303.78h0 M270.36 303.78h0 M270.36 303.78h0 M294.66 297.4h0 M282.59 301.09h0 M271.07 303.16h0 M269.33 302.65h0 M268.83 302.13h0 M268.76 302.05h0 M268.76 302.06h0 M268.76 302.06h0 M268.76 302.06h0 M292.03 296.26h0 M280.52 299.71h0 M269.5 301.6h0 M267.72 300.91h0 M267.22 300.4h0 M267.15 300.33h0 M267.15 300.33h0 M267.15 300.33h0 M267.15 300.33h0 M289.29 295.02h0 M278.39 298.28h0 M267.92 300.01h0 M266.1 299.17h0 M265.61 298.67h0 M265.55 298.61h0 M265.55 298.61h0 M265.55 298.61h0 M265.55 298.61h0 M286.45 293.65h0 M276.2 296.78h0 M266.31 298.39h0 M264.48 297.42h0 M264 296.94h0 M263.94 296.88h0 M263.94 296.88h0 M263.94 296.88h0 M263.94 296.88h0 M283.5 292.14h0 M273.93 295.17h0 M264.67 296.72h0 M262.84 295.66h0 M262.39 295.21h0 M262.34 295.16h0 M262.34 295.16h0 M262.34 295.16h0 M262.34 295.16h0 M280.46 290.46h0 M271.59 293.45h0 M262.97 294.99h0 M261.2 293.9h0 M260.78 293.48h0 M260.73 293.44h0 M260.74 293.44h0 M260.74 293.44h0 M260.74 293.44h0 M277.34 288.6h0 M269.18 291.6h0 M261.23 293.21h0 M259.55 292.13h0 M259.17 291.75h0 M259.13 291.71h0 M259.13 291.71h0 M259.13 291.71h0 M259.13 291.71h0 M274.17 286.55h0 M266.7 289.62h0 M259.44 291.36h0 M257.9 290.36h0 M257.56 290.02h0 M257.53 289.99h0 M257.53 289.99h0 M257.53 289.99h0 M257.53 289.99h0 M270.96 284.29h0 M264.16 287.49h0 M257.59 289.45h0 M256.23 288.58h0 M255.95 288.29h0 M255.92 288.27h0 M255.92 288.27h0 M255.92 288.27h0 M255.92 288.27h0 M267.74 281.83h0 M261.59 285.22h0 M255.71 287.49h0 M254.57 286.79h0 M254.34 286.56h0 M254.32 286.54h0 M254.32 286.54h0 M254.32 286.54h0 M254.32 286.54h0 M264.55 279.17h0 M259 282.82h0 M253.79 285.47h0 M252.89 285h0 M252.73 284.83h0 M252.71 284.82h0 M252.71 284.82h0 M252.71 284.82h0 M252.71 284.82h0 M261.41 276.32h0 M256.41 280.3h0 M251.85 283.42h0 M251.22 283.21h0 M251.12 283.1h0 M251.11 283.1h0 M251.11 283.1h0 M251.11 283.1h0 M251.11 283.1h0 M258.35 273.31h0 M253.85 277.68h0 M249.89 281.33h0 M249.54 281.41h0 M249.51 281.37h0 M249.5 281.37h0 M249.5 281.37h0 M249.5 281.37h0 M249.5 281.37h0 M255.41 270.14h0 M251.34 274.98h0 M247.94 279.23h0 M247.86 279.61h0 M247.89 279.65h0 M247.9 279.65h0 M247.9 279.65h0 M247.9 279.65h0 M247.9 279.65h0 M252.6 266.86h0 M248.9 272.23h0 M245.99 277.13h0 M246.19 277.81h0 M246.28 277.92h0 M246.29 277.92h0 M246.29 277.92h0 M246.29 277.92h0 M246.29 277.92h0 M249.95 263.49h0 M246.55 269.45h0 M244.08 275.04h0 M244.52 276.01h0 M244.67 276.19h0 M244.69 276.2h0 M244.69 276.2h0 M244.69 276.2h0 M244.69 276.2h0 M247.47 260.06h0 M244.32 266.67h0 M242.2 272.98h0 M242.85 274.21h0 M243.06 274.46h0 M243.08 274.48h0 M243.08 274.48h0 M243.08 274.48h0 M243.08 274.48h0 M245.18 256.6h0 M242.21 263.9h0 M240.37 270.96h0 M241.19 272.42h0 M241.45 272.73h0 M241.48 272.75h0 M241.48 272.75h0 M241.48 272.75h0 M241.48 272.75h0 M243.08 253.16h0 M240.22 261.18h0 M238.6 268.98h0 M239.53 270.63h0 M239.84 271h0 M239.87 271.03h0 M239.87 271.03h0 M239.87 271.03h0 M239.87 271.03h0 M241.17 249.75h0 M238.37 258.52h0 M236.88 267.05h0 M237.88 268.85h0 M238.23 269.27h0 M238.27 269.31h0 M238.27 269.31h0 M238.27 269.31h0 M238.27 269.31h0 M239.43 246.4h0 M236.65 255.92h0 M235.22 265.18h0 M236.23 267.08h0 M236.62 267.54h0 M236.67 267.58h0 M236.66 267.58h0 M236.66 267.58h0 M236.66 267.58h0 M237.87 243.13h0 M235.05 253.41h0 M233.61 263.36h0 M234.59 265.32h0 M235.01 265.81h0 M235.06 265.86h0 M235.06 265.86h0 M235.06 265.86h0 M235.06 265.86h0 M236.46 239.96h0 M233.55 250.98h0 M232.05 261.59h0 M232.96 263.56h0 M233.4 264.08h0 M233.46 264.14h0 M233.46 264.14h0 M233.46 264.14h0 M233.46 264.14h0 M235.19 236.91h0 M232.15 248.62h0 M230.54 259.86h0 M231.33 261.82h0 M231.79 262.35h0 M231.85 262.41h0 M231.85 262.41h0 M231.85 262.41h0 M231.85 262.41h0 M234.04 233.97h0 M230.82 246.34h0 M229.06 258.16h0 M229.71 260.08h0 M230.18 260.62h0 M230.25 260.69h0 M230.25 260.69h0 M230.25 260.69h0 M230.25 260.69h0 M232.97 231.14h0 M229.54 244.11h0 M227.61 256.49h0 M228.09 258.35h0 M228.57 258.89h0 M228.64 258.97h0 M228.64 258.96h0 M228.64 258.96h0 M228.64 258.96h0 M231.97 228.42h0 M228.28 241.92h0 M226.17 254.81h0 M226.48 256.62h0 M226.96 257.16h0 M227.04 257.24h0 M227.04 257.24h0 M227.04 257.24h0 M227.04 257.24h0 M231.01 225.78h0 M227.01 239.73h0 M224.72 253.13h0 M224.87 254.89h0 M225.35 255.43h0 M225.43 255.52h0 M225.43 255.52h0 M225.43 255.52h0 M225.43 255.52h0 M230.04 223.21h0 M225.71 237.53h0 M223.26 251.43h0 M223.27 253.17h0 M223.74 253.7h0 M223.83 253.8h0 M223.83 253.79h0 M223.83 253.79h0 M223.83 253.79h0 M229.05 220.66h0 M224.33 235.26h0 M221.78 249.7h0 M221.67 251.45h0 M222.13 251.97h0 M222.22 252.07h0 M222.22 252.07h0 M222.22 252.07h0 M222.22 252.07h0 M227.99 218.09h0 M222.84 232.87h0 M220.25 247.91h0 M220.07 249.72h0 M220.52 250.24h0 M220.62 250.35h0 M220.62 250.35h0 M220.62 250.35h0 M220.62 250.35h0 M226.84 215.44h0 M221.22 230.31h0 M218.68 246.06h0 M218.46 247.99h0 M218.91 248.51h0 M219.01 248.62h0 M219.01 248.62h0 M219.01 248.62h0 M219.01 248.62h0 M225.57 212.64h0 M219.42 227.48h0 M217.05 244.12h0 M216.86 246.26h0 M217.31 246.78h0 M217.41 246.9h0 M217.41 246.9h0 M217.41 246.9h0 M217.41 246.9h0 M224.14 209.59h0 M217.43 224.28h0 M215.34 242.07h0 M215.24 244.52h0 M215.7 245.05h0 M215.81 245.18h0 M215.8 245.18h0 M215.8 245.18h0 M215.8 245.18h0 M222.56 206.17h0 M215.21 220.56h0 M213.56 239.88h0 M213.63 242.77h0 M214.09 243.32h0 M214.2 243.45h0 M214.2 243.45h0 M214.2 243.45h0 M214.2 243.45h0 M220.84 202.24h0 M212.79 216.03h0 M211.68 237.45h0 M212 241.01h0 M212.49 241.59h0 M212.6 241.73h0 M212.59 241.73h0 M212.59 241.73h0 M212.59 241.73h0 M219.01 197.6h0 M210.27 210.25h0 M209.71 234.55h0 M210.37 239.22h0 M210.91 239.84h0 M210.99 240.01h0 M210.99 240.01h0 M210.99 240.01h0 M210.99 240.01h0 M217.16 192.01h0 M208.02 202.16h0 M208.45 229.38h0 M209.21 237.04h0 M209.38 238.23h0 M209.38 238.28h0 M209.38 238.28h0 M209.38 238.28h0 M209.38 238.28h0" stroke="#505050" stroke-width="1.9" stroke-linecap="round" stroke-opacity="0.55"/>
<path d="M335.7 295.17h0 M334.47 295.1h0 M333.1 295.01h0 M331.58 294.9h0 M329.92 294.77h0 M328.08 294.59h0 M326.07 294.38h0 M323.87 294.12h0 M321.49 293.8h0 M318.9 293.41h0 M316.12 292.93h0 M313.13 292.36h0 M309.95 291.66h0 M306.59 290.83h0 M303.05 289.84h0 M299.35 288.67h0 M295.53 287.3h0 M291.6 285.72h0 M287.6 283.9h0 M283.57 281.82h0 M279.55 279.47h0 M275.57 276.85h0 M271.69 273.96h0 M267.92 270.8h0 M264.33 267.38h0 M260.92 263.72h0 M257.74 259.86h0 M254.8 255.82h0 M252.1 251.64h0 M249.67 247.37h0 M247.48 243.05h0 M245.55 238.72h0 M243.85 234.43h0 M242.37 230.21h0 M241.1 226.1h0 M240.02 222.13h0 M239.09 218.33h0 M238.32 214.72h0 M237.67 211.3h0 M237.13 208.1h0 M236.69 205.11h0 M236.32 202.33h0 M236.03 199.77h0 M235.78 197.41h0 M235.59 195.25h0 M235.43 193.28h0 M235.3 191.48h0 M235.2 189.86h0 M235.12 188.39h0 M235.05 187.06h0 M288.02 322.74h0 M286.41 321.01h0 M284.81 319.29h0 M283.2 317.57h0 M281.6 315.84h0 M279.99 314.12h0 M278.39 312.4h0 M276.78 310.67h0 M275.18 308.95h0 M273.57 307.23h0 M271.97 305.5h0 M270.36 303.78h0 M268.76 302.06h0 M267.15 300.33h0 M265.55 298.61h0 M263.94 296.88h0 M262.34 295.16h0 M260.74 293.44h0 M259.13 291.71h0 M257.53 289.99h0 M255.92 288.27h0 M254.32 286.54h0 M252.71 284.82h0 M251.11 283.1h0 M249.5 281.37h0 M247.9 279.65h0 M246.29 277.92h0 M244.69 276.2h0 M243.08 274.48h0 M241.48 272.75h0 M239.87 271.03h0 M238.27 269.31h0 M236.66 267.58h0 M235.06 265.86h0 M233.46 264.14h0 M231.85 262.41h0 M230.25 260.69h0 M228.64 258.96h0 M227.04 257.24h0 M225.43 255.52h0 M223.83 253.79h0 M222.22 252.07h0 M220.62 250.35h0 M219.01 248.62h0 M217.41 246.9h0 M215.8 245.18h0 M214.2 243.45h0 M212.59 241.73h0 M210.99 240.01h0 M209.38 238.28h0" stroke="#0A8A3C" stroke-width="2.25" stroke-linecap="round"/>
<path d="M207 235.72 L290.4 325.3" stroke="#EE2222" stroke-width="1.0" stroke-dasharray="2.4 1.5"/>
</g>
<line x1="197.6" x2="200.2" y1="325.3" y2="325.3" stroke="#6E6E6E" stroke-width="0.7"/>
<text transform="translate(196.1 328) scale(0.82 1)" text-anchor="end" font-size="7.8" fill="#909090" font-family="'Liberation Serif', serif">0</text>
<line x1="197.6" x2="200.2" y1="295.44" y2="295.44" stroke="#6E6E6E" stroke-width="0.7"/>
<text transform="translate(196.1 298.14) scale(0.82 1)" text-anchor="end" font-size="7.8" fill="#909090" font-family="'Liberation Serif', serif">2</text>
<line x1="197.6" x2="200.2" y1="265.58" y2="265.58" stroke="#6E6E6E" stroke-width="0.7"/>
<text transform="translate(196.1 268.28) scale(0.82 1)" text-anchor="end" font-size="7.8" fill="#909090" font-family="'Liberation Serif', serif">4</text>
<line x1="197.6" x2="200.2" y1="235.72" y2="235.72" stroke="#6E6E6E" stroke-width="0.7"/>
<text transform="translate(196.1 238.42) scale(0.82 1)" text-anchor="end" font-size="7.8" fill="#909090" font-family="'Liberation Serif', serif">6</text>
<line x1="197.6" x2="200.2" y1="205.86" y2="205.86" stroke="#6E6E6E" stroke-width="0.7"/>
<text transform="translate(196.1 208.56) scale(0.82 1)" text-anchor="end" font-size="7.8" fill="#909090" font-family="'Liberation Serif', serif">8</text>
<line x1="207" x2="207" y1="332.6" y2="335" stroke="#6E6E6E" stroke-width="0.7"/>
<line x1="234.8" x2="234.8" y1="332.6" y2="335" stroke="#6E6E6E" stroke-width="0.7"/>
<line x1="262.6" x2="262.6" y1="332.6" y2="335" stroke="#6E6E6E" stroke-width="0.7"/>
<line x1="290.4" x2="290.4" y1="332.6" y2="335" stroke="#6E6E6E" stroke-width="0.7"/>
<line x1="318.2" x2="318.2" y1="332.6" y2="335" stroke="#6E6E6E" stroke-width="0.7"/>
<text transform="translate(186.3 256.2) rotate(-90)" text-anchor="middle" font-size="9.3" font-style="italic" fill="#7A7A7A" font-family="'Liberation Serif', serif">f<tspan font-size="6.3" font-style="normal" dy="1.5">2</tspan></text>
<rect x="30.5" y="340.0" width="141.5" height="152" fill="#E5E5E5"/>
<path d="M30.1 340.0 V492.0 M65.65 340.0 V492.0 M101.2 340.0 V492.0 M136.75 340.0 V492.0 M172.3 340.0 V492.0 M30.5 492.25 H172.0 M30.5 473.22 H172.0 M30.5 454.2 H172.0 M30.5 435.17 H172.0 M30.5 416.15 H172.0 M30.5 397.12 H172.0 M30.5 378.1 H172.0 M30.5 359.07 H172.0 M30.5 340.05 H172.0" stroke="#FFFFFF" stroke-width="0.7" fill="none"/>
<g clip-path="url(#c02)" fill="none">
<ellipse cx="136.75" cy="378.1" rx="50.28" ry="53.81" stroke="rgb(140,140,140)" stroke-width="0.75" stroke-opacity="0.95"/>
<ellipse cx="136.75" cy="378.1" rx="71.1" ry="76.1" stroke="rgb(152,152,152)" stroke-width="0.75" stroke-opacity="0.95"/>
<ellipse cx="136.75" cy="378.1" rx="87.08" ry="93.2" stroke="rgb(164,164,164)" stroke-width="0.75" stroke-opacity="0.95"/>
<ellipse cx="136.75" cy="378.1" rx="100.55" ry="107.62" stroke="rgb(176,176,176)" stroke-width="0.75" stroke-opacity="0.95"/>
<ellipse cx="136.75" cy="378.1" rx="112.42" ry="120.32" stroke="rgb(188,188,188)" stroke-width="0.75" stroke-opacity="0.95"/>
<ellipse cx="136.75" cy="378.1" rx="123.15" ry="131.81" stroke="rgb(200,200,200)" stroke-width="0.75" stroke-opacity="0.95"/>
<ellipse cx="136.75" cy="378.1" rx="133.02" ry="142.37" stroke="rgb(212,212,212)" stroke-width="0.75" stroke-opacity="0.95"/>
<ellipse cx="136.75" cy="378.1" rx="142.2" ry="152.2" stroke="rgb(225,225,225)" stroke-width="0.75" stroke-opacity="0.95"/>
<ellipse cx="65.65" cy="454.2" rx="50.28" ry="53.81" stroke="rgb(140,140,140)" stroke-width="0.75" stroke-opacity="0.95"/>
<ellipse cx="65.65" cy="454.2" rx="71.1" ry="76.1" stroke="rgb(152,152,152)" stroke-width="0.75" stroke-opacity="0.95"/>
<ellipse cx="65.65" cy="454.2" rx="87.08" ry="93.2" stroke="rgb(164,164,164)" stroke-width="0.75" stroke-opacity="0.95"/>
<ellipse cx="65.65" cy="454.2" rx="100.55" ry="107.62" stroke="rgb(176,176,176)" stroke-width="0.75" stroke-opacity="0.95"/>
<ellipse cx="65.65" cy="454.2" rx="112.42" ry="120.32" stroke="rgb(188,188,188)" stroke-width="0.75" stroke-opacity="0.95"/>
<ellipse cx="65.65" cy="454.2" rx="123.15" ry="131.81" stroke="rgb(200,200,200)" stroke-width="0.75" stroke-opacity="0.95"/>
<ellipse cx="65.65" cy="454.2" rx="133.02" ry="142.37" stroke="rgb(212,212,212)" stroke-width="0.75" stroke-opacity="0.95"/>
<ellipse cx="65.65" cy="454.2" rx="142.2" ry="152.2" stroke="rgb(225,225,225)" stroke-width="0.75" stroke-opacity="0.95"/>
<ellipse cx="101.2" cy="416.15" rx="35.55" ry="38.05" stroke="#EE2222" stroke-width="1.1" stroke-dasharray="2.6 1.3"/>
<path d="M172.3 416.15 L160.63 397.72 L144.86 383.22 L126.06 382.3 L127.77 389.74 L126.31 389.16 L126.34 389.24 L126.34 389.24 L126.34 389.24 L126.34 389.24 L126.34 389.24 M168.16 420.58 L158.2 409.98 L147.77 402.51 L135.95 401.11 L133.44 399.83 L132.73 398.51 L132.45 397.99 L132.42 397.95 L132.42 397.95 L132.42 397.95 L132.42 397.95 M165.05 423.91 L155.99 416.75 L147.33 411.16 L137.41 407.82 L135.34 404.91 L134.53 402.71 L134.25 402.12 L134.23 402.09 L134.23 402.09 L134.23 402.09 L134.23 402.09 M162.5 426.63 L154.07 421.2 L146.4 416.48 L137.81 412.31 L136.25 408.61 L135.56 406.05 L135.33 405.47 L135.31 405.44 L135.31 405.44 L135.31 405.44 L135.31 405.44 M160.33 428.96 L152.39 424.46 L145.39 420.25 L137.79 415.75 L136.72 411.65 L136.2 408.94 L136.01 408.39 L136 408.37 L136 408.37 L136 408.37 L136 408.37 M158.41 431.01 L150.89 427.04 L144.4 423.16 L137.58 418.56 L136.94 414.29 L136.58 411.55 L136.43 411.04 L136.43 411.02 L136.43 411.02 L136.43 411.02 L136.43 411.02 M156.69 432.86 L149.54 429.18 L143.46 425.54 L137.26 420.95 L136.98 416.64 L136.78 413.95 L136.67 413.49 L136.66 413.47 L136.66 413.47 L136.66 413.47 L136.66 413.47 M155.12 434.54 L148.3 431.03 L142.57 427.56 L136.87 423.04 L136.89 418.8 L136.83 416.19 L136.75 415.78 L136.75 415.76 L136.75 415.76 L136.75 415.76 L136.75 415.76 M153.67 436.09 L147.15 432.67 L141.71 429.32 L136.44 424.91 L136.7 420.79 L136.77 418.3 L136.71 417.93 L136.71 417.92 L136.71 417.92 L136.71 417.92 L136.71 417.92 M152.32 437.54 L146.07 434.17 L140.9 430.9 L135.97 426.61 L136.42 422.65 L136.6 420.31 L136.57 419.98 L136.57 419.96 L136.57 419.96 L136.57 419.96 L136.57 419.96 M151.05 438.9 L145.04 435.54 L140.11 432.33 L135.47 428.16 L136.09 424.41 L136.35 422.22 L136.34 421.92 L136.34 421.91 L136.34 421.91 L136.34 421.91 L136.34 421.91 M149.84 440.19 L144.07 436.82 L139.34 433.65 L134.96 429.6 L135.69 426.07 L136.03 424.05 L136.03 423.79 L136.03 423.78 L136.03 423.78 L136.03 423.78 L136.03 423.78 M148.69 441.42 L143.13 438.02 L138.59 434.89 L134.43 430.94 L135.24 427.65 L135.63 425.8 L135.64 425.57 L135.65 425.56 L135.65 425.56 L135.65 425.56 L135.65 425.56 M147.59 442.59 L142.23 439.17 L137.86 436.05 L133.88 432.2 L134.74 429.17 L135.17 427.49 L135.19 427.28 L135.2 427.28 L135.2 427.28 L135.2 427.28 L135.2 427.28 M146.53 443.73 L141.35 440.26 L137.14 437.14 L133.31 433.39 L134.19 430.62 L134.66 429.11 L134.68 428.93 L134.69 428.93 L134.69 428.93 L134.69 428.93 L134.69 428.93 M145.51 444.82 L140.5 441.31 L136.42 438.19 L132.74 434.52 L133.61 432.01 L134.08 430.68 L134.12 430.52 L134.12 430.52 L134.12 430.52 L134.12 430.52 L134.12 430.52 M144.52 445.89 L139.66 442.32 L135.71 439.2 L132.15 435.59 L132.99 433.35 L133.46 432.19 L133.5 432.05 L133.5 432.05 L133.5 432.05 L133.5 432.05 L133.5 432.05 M143.55 446.92 L138.84 443.3 L135.01 440.16 L131.54 436.62 L132.33 434.65 L132.79 433.64 L132.82 433.53 L132.83 433.53 L132.83 433.53 L132.83 433.53 L132.83 433.53 M142.6 447.94 L138.03 444.26 L134.31 441.09 L130.93 437.61 L131.64 435.9 L132.07 435.05 L132.1 434.96 L132.11 434.95 L132.11 434.95 L132.11 434.95 L132.11 434.95 M141.67 448.93 L137.23 445.19 L133.6 442 L130.29 438.56 L130.91 437.1 L131.3 436.41 L131.34 436.33 L131.34 436.33 L131.34 436.33 L131.34 436.33 L131.34 436.33 M140.76 449.91 L136.43 446.1 L132.9 442.88 L129.65 439.48 L130.15 438.27 L130.5 437.72 L130.53 437.66 L130.53 437.66 L130.53 437.66 L130.53 437.66 L130.53 437.66 M139.86 450.88 L135.64 447 L132.19 443.74 L128.98 440.37 L129.36 439.4 L129.64 438.98 L129.67 438.94 L129.67 438.94 L129.67 438.94 L129.67 438.94 L129.67 438.94 M138.96 451.83 L134.85 447.88 L131.47 444.57 L128.31 441.23 L128.54 440.49 L128.75 440.2 L128.77 440.17 L128.77 440.17 L128.77 440.17 L128.77 440.17 L128.77 440.17 M138.07 452.78 L134.05 448.75 L130.75 445.39 L127.61 442.06 L127.68 441.54 L127.82 441.37 L127.83 441.36 L127.83 441.36 L127.83 441.36 L127.83 441.36 L127.83 441.36 M137.19 453.73 L133.26 449.61 L130.02 446.2 L126.89 442.87 L126.79 442.56 L126.84 442.51 L126.85 442.5 L126.85 442.5 L126.85 442.5 L126.85 442.5 L126.85 442.5 M136.31 454.67 L132.46 450.46 L129.28 446.99 L126.16 443.65 L125.87 443.54 L125.82 443.59 L125.82 443.6 L125.82 443.6 L125.82 443.6 L125.82 443.6 L125.82 443.6 M135.43 455.62 L131.66 451.31 L128.52 447.78 L125.41 444.42 L124.92 444.49 L124.77 444.64 L124.75 444.65 L124.75 444.65 L124.75 444.65 L124.75 444.65 L124.75 444.65 M134.54 456.57 L130.84 452.16 L127.76 448.55 L124.63 445.16 L123.94 445.41 L123.67 445.64 L123.64 445.66 L123.64 445.66 L123.64 445.66 L123.64 445.66 L123.64 445.66 M133.64 457.52 L130.02 453.01 L126.97 449.32 L123.83 445.89 L122.92 446.29 L122.53 446.59 L122.49 446.62 L122.49 446.62 L122.49 446.62 L122.49 446.62 L122.49 446.62 M132.74 458.49 L129.18 453.86 L126.17 450.08 L123 446.6 L121.87 447.14 L121.35 447.51 L121.29 447.54 L121.29 447.54 L121.29 447.54 L121.29 447.54 L121.29 447.54 M131.83 459.47 L128.33 454.71 L125.35 450.83 L122.14 447.29 L120.78 447.95 L120.12 448.37 L120.06 448.41 L120.05 448.41 L120.05 448.41 L120.05 448.41 L120.05 448.41 M130.9 460.46 L127.46 455.57 L124.51 451.58 L121.25 447.97 L119.65 448.73 L118.86 449.19 L118.77 449.23 L118.77 449.23 L118.77 449.23 L118.77 449.23 L118.77 449.23 M129.95 461.48 L126.57 456.44 L123.63 452.34 L120.33 448.63 L118.48 449.47 L117.54 449.96 L117.44 450 L117.44 450 L117.44 450 L117.44 450 L117.44 450 M128.98 462.51 L125.65 457.32 L122.73 453.09 L119.37 449.27 L117.27 450.17 L116.18 450.68 L116.06 450.72 L116.06 450.72 L116.06 450.72 L116.06 450.72 L116.06 450.72 M127.99 463.58 L124.7 458.21 L121.79 453.85 L118.36 449.91 L116.02 450.84 L114.77 451.35 L114.63 451.38 L114.62 451.38 L114.62 451.38 L114.62 451.38 L114.62 451.38 M126.97 464.67 L123.72 459.13 L120.81 454.61 L117.3 450.52 L114.72 451.46 L113.31 451.96 L113.14 451.99 L113.14 451.99 L113.14 451.99 L113.14 451.99 L113.14 451.99 M125.91 465.81 L122.7 460.07 L119.79 455.39 L116.19 451.13 L113.36 452.04 L111.79 452.51 L111.6 452.53 L111.6 452.54 L111.6 452.54 L111.6 452.54 L111.6 452.54 M124.81 466.98 L121.64 461.03 L118.7 456.17 L115.01 451.71 L111.95 452.58 L110.22 453 L110 453.02 L109.99 453.02 L109.99 453.02 L109.99 453.02 L109.99 453.02 M123.66 468.21 L120.51 462.03 L117.55 456.97 L113.76 452.28 L110.47 453.06 L108.58 453.43 L108.33 453.43 L108.33 453.43 L108.33 453.43 L108.33 453.43 L108.33 453.43 M122.45 469.5 L119.31 463.08 L116.32 457.79 L112.42 452.83 L108.91 453.49 L106.87 453.78 L106.59 453.76 L106.59 453.76 L106.59 453.76 L106.59 453.76 L106.59 453.76 M121.18 470.86 L118.03 464.17 L114.98 458.64 L110.97 453.36 L107.27 453.85 L105.09 454.04 L104.77 454.01 L104.76 454.01 L104.76 454.01 L104.76 454.01 L104.76 454.01 M119.83 472.31 L116.64 465.33 L113.5 459.51 L109.39 453.86 L105.53 454.14 L103.21 454.22 L102.86 454.16 L102.85 454.16 L102.85 454.16 L102.85 454.16 L102.85 454.16 M118.38 473.86 L115.1 466.56 L111.86 460.43 L107.64 454.33 L103.67 454.34 L101.24 454.29 L100.85 454.2 L100.84 454.2 L100.84 454.2 L100.84 454.2 L100.84 454.2 M116.81 475.54 L113.37 467.89 L109.97 461.38 L105.69 454.75 L101.66 454.44 L99.14 454.23 L98.71 454.11 L98.7 454.11 L98.7 454.11 L98.7 454.11 L98.7 454.11 M115.09 477.39 L111.37 469.34 L107.75 462.39 L103.45 455.09 L99.46 454.4 L96.9 454.02 L96.43 453.86 L96.41 453.85 L96.41 453.85 L96.41 453.85 L96.41 453.85 M113.17 479.44 L108.96 470.94 L105.03 463.45 L100.82 455.32 L97 454.17 L94.46 453.61 L93.95 453.41 L93.93 453.4 L93.93 453.4 L93.93 453.4 L93.93 453.4 M111 481.77 L105.91 472.74 L101.51 464.53 L97.61 455.33 L94.16 453.67 L91.76 452.93 L91.22 452.68 L91.19 452.66 L91.19 452.66 L91.19 452.66 L91.19 452.66 M108.45 484.49 L101.76 474.79 L96.54 465.53 L93.42 454.91 L90.7 452.69 L88.65 451.83 L88.09 451.53 L88.06 451.51 L88.06 451.51 L88.06 451.51 L88.06 451.51 M105.34 487.82 L95.43 477.16 L88.46 466 L87.15 453.35 L85.95 450.65 L84.72 449.9 L84.23 449.59 L84.2 449.57 L84.2 449.57 L84.2 449.57 L84.2 449.57 M101.2 492.25 L83.98 479.76 L70.43 462.88 L69.57 442.76 L76.52 444.59 L75.99 443.03 L76.06 443.06 L76.06 443.06 L76.06 443.06 L76.06 443.06 L76.06 443.06" stroke="#505050" stroke-width="1.1" stroke-opacity="0.64" stroke-linejoin="round"/>
<path d="M160.63 397.72h0 M144.86 383.22h0 M126.06 382.3h0 M127.77 389.74h0 M126.31 389.16h0 M126.34 389.24h0 M126.34 389.24h0 M126.34 389.24h0 M126.34 389.24h0 M158.2 409.98h0 M147.77 402.51h0 M135.95 401.11h0 M133.44 399.83h0 M132.73 398.51h0 M132.45 397.99h0 M132.42 397.95h0 M132.42 397.95h0 M132.42 397.95h0 M155.99 416.75h0 M147.33 411.16h0 M137.41 407.82h0 M135.34 404.91h0 M134.53 402.71h0 M134.25 402.12h0 M134.23 402.09h0 M134.23 402.09h0 M134.23 402.09h0 M154.07 421.2h0 M146.4 416.48h0 M137.81 412.31h0 M136.25 408.61h0 M135.56 406.05h0 M135.33 405.47h0 M135.31 405.44h0 M135.31 405.44h0 M135.31 405.44h0 M152.39 424.46h0 M145.39 420.25h0 M137.79 415.75h0 M136.72 411.65h0 M136.2 408.94h0 M136.01 408.39h0 M136 408.37h0 M136 408.37h0 M136 408.37h0 M150.89 427.04h0 M144.4 423.16h0 M137.58 418.56h0 M136.94 414.29h0 M136.58 411.55h0 M136.43 411.04h0 M136.43 411.02h0 M136.43 411.02h0 M136.43 411.02h0 M149.54 429.18h0 M143.46 425.54h0 M137.26 420.95h0 M136.98 416.64h0 M136.78 413.95h0 M136.67 413.49h0 M136.66 413.47h0 M136.66 413.47h0 M136.66 413.47h0 M148.3 431.03h0 M142.57 427.56h0 M136.87 423.04h0 M136.89 418.8h0 M136.83 416.19h0 M136.75 415.78h0 M136.75 415.76h0 M136.75 415.76h0 M136.75 415.76h0 M147.15 432.67h0 M141.71 429.32h0 M136.44 424.91h0 M136.7 420.79h0 M136.77 418.3h0 M136.71 417.93h0 M136.71 417.92h0 M136.71 417.92h0 M136.71 417.92h0 M146.07 434.17h0 M140.9 430.9h0 M135.97 426.61h0 M136.42 422.65h0 M136.6 420.31h0 M136.57 419.98h0 M136.57 419.96h0 M136.57 419.96h0 M136.57 419.96h0 M145.04 435.54h0 M140.11 432.33h0 M135.47 428.16h0 M136.09 424.41h0 M136.35 422.22h0 M136.34 421.92h0 M136.34 421.91h0 M136.34 421.91h0 M136.34 421.91h0 M144.07 436.82h0 M139.34 433.65h0 M134.96 429.6h0 M135.69 426.07h0 M136.03 424.05h0 M136.03 423.79h0 M136.03 423.78h0 M136.03 423.78h0 M136.03 423.78h0 M143.13 438.02h0 M138.59 434.89h0 M134.43 430.94h0 M135.24 427.65h0 M135.63 425.8h0 M135.64 425.57h0 M135.65 425.56h0 M135.65 425.56h0 M135.65 425.56h0 M142.23 439.17h0 M137.86 436.05h0 M133.88 432.2h0 M134.74 429.17h0 M135.17 427.49h0 M135.19 427.28h0 M135.2 427.28h0 M135.2 427.28h0 M135.2 427.28h0 M141.35 440.26h0 M137.14 437.14h0 M133.31 433.39h0 M134.19 430.62h0 M134.66 429.11h0 M134.68 428.93h0 M134.69 428.93h0 M134.69 428.93h0 M134.69 428.93h0 M140.5 441.31h0 M136.42 438.19h0 M132.74 434.52h0 M133.61 432.01h0 M134.08 430.68h0 M134.12 430.52h0 M134.12 430.52h0 M134.12 430.52h0 M134.12 430.52h0 M139.66 442.32h0 M135.71 439.2h0 M132.15 435.59h0 M132.99 433.35h0 M133.46 432.19h0 M133.5 432.05h0 M133.5 432.05h0 M133.5 432.05h0 M133.5 432.05h0 M138.84 443.3h0 M135.01 440.16h0 M131.54 436.62h0 M132.33 434.65h0 M132.79 433.64h0 M132.82 433.53h0 M132.83 433.53h0 M132.83 433.53h0 M132.83 433.53h0 M138.03 444.26h0 M134.31 441.09h0 M130.93 437.61h0 M131.64 435.9h0 M132.07 435.05h0 M132.1 434.96h0 M132.11 434.95h0 M132.11 434.95h0 M132.11 434.95h0 M137.23 445.19h0 M133.6 442h0 M130.29 438.56h0 M130.91 437.1h0 M131.3 436.41h0 M131.34 436.33h0 M131.34 436.33h0 M131.34 436.33h0 M131.34 436.33h0 M136.43 446.1h0 M132.9 442.88h0 M129.65 439.48h0 M130.15 438.27h0 M130.5 437.72h0 M130.53 437.66h0 M130.53 437.66h0 M130.53 437.66h0 M130.53 437.66h0 M135.64 447h0 M132.19 443.74h0 M128.98 440.37h0 M129.36 439.4h0 M129.64 438.98h0 M129.67 438.94h0 M129.67 438.94h0 M129.67 438.94h0 M129.67 438.94h0 M134.85 447.88h0 M131.47 444.57h0 M128.31 441.23h0 M128.54 440.49h0 M128.75 440.2h0 M128.77 440.17h0 M128.77 440.17h0 M128.77 440.17h0 M128.77 440.17h0 M134.05 448.75h0 M130.75 445.39h0 M127.61 442.06h0 M127.68 441.54h0 M127.82 441.37h0 M127.83 441.36h0 M127.83 441.36h0 M127.83 441.36h0 M127.83 441.36h0 M133.26 449.61h0 M130.02 446.2h0 M126.89 442.87h0 M126.79 442.56h0 M126.84 442.51h0 M126.85 442.5h0 M126.85 442.5h0 M126.85 442.5h0 M126.85 442.5h0 M132.46 450.46h0 M129.28 446.99h0 M126.16 443.65h0 M125.87 443.54h0 M125.82 443.59h0 M125.82 443.6h0 M125.82 443.6h0 M125.82 443.6h0 M125.82 443.6h0 M131.66 451.31h0 M128.52 447.78h0 M125.41 444.42h0 M124.92 444.49h0 M124.77 444.64h0 M124.75 444.65h0 M124.75 444.65h0 M124.75 444.65h0 M124.75 444.65h0 M130.84 452.16h0 M127.76 448.55h0 M124.63 445.16h0 M123.94 445.41h0 M123.67 445.64h0 M123.64 445.66h0 M123.64 445.66h0 M123.64 445.66h0 M123.64 445.66h0 M130.02 453.01h0 M126.97 449.32h0 M123.83 445.89h0 M122.92 446.29h0 M122.53 446.59h0 M122.49 446.62h0 M122.49 446.62h0 M122.49 446.62h0 M122.49 446.62h0 M129.18 453.86h0 M126.17 450.08h0 M123 446.6h0 M121.87 447.14h0 M121.35 447.51h0 M121.29 447.54h0 M121.29 447.54h0 M121.29 447.54h0 M121.29 447.54h0 M128.33 454.71h0 M125.35 450.83h0 M122.14 447.29h0 M120.78 447.95h0 M120.12 448.37h0 M120.06 448.41h0 M120.05 448.41h0 M120.05 448.41h0 M120.05 448.41h0 M127.46 455.57h0 M124.51 451.58h0 M121.25 447.97h0 M119.65 448.73h0 M118.86 449.19h0 M118.77 449.23h0 M118.77 449.23h0 M118.77 449.23h0 M118.77 449.23h0 M126.57 456.44h0 M123.63 452.34h0 M120.33 448.63h0 M118.48 449.47h0 M117.54 449.96h0 M117.44 450h0 M117.44 450h0 M117.44 450h0 M117.44 450h0 M125.65 457.32h0 M122.73 453.09h0 M119.37 449.27h0 M117.27 450.17h0 M116.18 450.68h0 M116.06 450.72h0 M116.06 450.72h0 M116.06 450.72h0 M116.06 450.72h0 M124.7 458.21h0 M121.79 453.85h0 M118.36 449.91h0 M116.02 450.84h0 M114.77 451.35h0 M114.63 451.38h0 M114.62 451.38h0 M114.62 451.38h0 M114.62 451.38h0 M123.72 459.13h0 M120.81 454.61h0 M117.3 450.52h0 M114.72 451.46h0 M113.31 451.96h0 M113.14 451.99h0 M113.14 451.99h0 M113.14 451.99h0 M113.14 451.99h0 M122.7 460.07h0 M119.79 455.39h0 M116.19 451.13h0 M113.36 452.04h0 M111.79 452.51h0 M111.6 452.53h0 M111.6 452.54h0 M111.6 452.54h0 M111.6 452.54h0 M121.64 461.03h0 M118.7 456.17h0 M115.01 451.71h0 M111.95 452.58h0 M110.22 453h0 M110 453.02h0 M109.99 453.02h0 M109.99 453.02h0 M109.99 453.02h0 M120.51 462.03h0 M117.55 456.97h0 M113.76 452.28h0 M110.47 453.06h0 M108.58 453.43h0 M108.33 453.43h0 M108.33 453.43h0 M108.33 453.43h0 M108.33 453.43h0 M119.31 463.08h0 M116.32 457.79h0 M112.42 452.83h0 M108.91 453.49h0 M106.87 453.78h0 M106.59 453.76h0 M106.59 453.76h0 M106.59 453.76h0 M106.59 453.76h0 M118.03 464.17h0 M114.98 458.64h0 M110.97 453.36h0 M107.27 453.85h0 M105.09 454.04h0 M104.77 454.01h0 M104.76 454.01h0 M104.76 454.01h0 M104.76 454.01h0 M116.64 465.33h0 M113.5 459.51h0 M109.39 453.86h0 M105.53 454.14h0 M103.21 454.22h0 M102.86 454.16h0 M102.85 454.16h0 M102.85 454.16h0 M102.85 454.16h0 M115.1 466.56h0 M111.86 460.43h0 M107.64 454.33h0 M103.67 454.34h0 M101.24 454.29h0 M100.85 454.2h0 M100.84 454.2h0 M100.84 454.2h0 M100.84 454.2h0 M113.37 467.89h0 M109.97 461.38h0 M105.69 454.75h0 M101.66 454.44h0 M99.14 454.23h0 M98.71 454.11h0 M98.7 454.11h0 M98.7 454.11h0 M98.7 454.11h0 M111.37 469.34h0 M107.75 462.39h0 M103.45 455.09h0 M99.46 454.4h0 M96.9 454.02h0 M96.43 453.86h0 M96.41 453.85h0 M96.41 453.85h0 M96.41 453.85h0 M108.96 470.94h0 M105.03 463.45h0 M100.82 455.32h0 M97 454.17h0 M94.46 453.61h0 M93.95 453.41h0 M93.93 453.4h0 M93.93 453.4h0 M93.93 453.4h0 M105.91 472.74h0 M101.51 464.53h0 M97.61 455.33h0 M94.16 453.67h0 M91.76 452.93h0 M91.22 452.68h0 M91.19 452.66h0 M91.19 452.66h0 M91.19 452.66h0 M101.76 474.79h0 M96.54 465.53h0 M93.42 454.91h0 M90.7 452.69h0 M88.65 451.83h0 M88.09 451.53h0 M88.06 451.51h0 M88.06 451.51h0 M88.06 451.51h0 M95.43 477.16h0 M88.46 466h0 M87.15 453.35h0 M85.95 450.65h0 M84.72 449.9h0 M84.23 449.59h0 M84.2 449.57h0 M84.2 449.57h0 M84.2 449.57h0 M83.98 479.76h0 M70.43 462.88h0 M69.57 442.76h0 M76.52 444.59h0 M75.99 443.03h0 M76.06 443.06h0 M76.06 443.06h0 M76.06 443.06h0 M76.06 443.06h0" stroke="#505050" stroke-width="1.9" stroke-linecap="round" stroke-opacity="0.55"/>
</g>
<path d="M172.3 416.15h0 M168.16 420.58h0 M165.05 423.91h0 M162.5 426.63h0 M160.33 428.96h0 M158.41 431.01h0 M156.69 432.86h0 M155.12 434.54h0 M153.67 436.09h0 M152.32 437.54h0 M151.05 438.9h0 M149.84 440.19h0 M148.69 441.42h0 M147.59 442.59h0 M146.53 443.73h0 M145.51 444.82h0 M144.52 445.89h0 M143.55 446.92h0 M142.6 447.94h0 M141.67 448.93h0 M140.76 449.91h0 M139.86 450.88h0 M138.96 451.83h0 M138.07 452.78h0 M137.19 453.73h0 M136.31 454.67h0 M135.43 455.62h0 M134.54 456.57h0 M133.64 457.52h0 M132.74 458.49h0 M131.83 459.47h0 M130.9 460.46h0 M129.95 461.48h0 M128.98 462.51h0 M127.99 463.58h0 M126.97 464.67h0 M125.91 465.81h0 M124.81 466.98h0 M123.66 468.21h0 M122.45 469.5h0 M121.18 470.86h0 M119.83 472.31h0 M118.38 473.86h0 M116.81 475.54h0 M115.09 477.39h0 M113.17 479.44h0 M111 481.77h0 M108.45 484.49h0 M105.34 487.82h0 M101.2 492.25h0 M126.34 389.24h0 M132.42 397.95h0 M134.23 402.09h0 M135.31 405.44h0 M136 408.37h0 M136.43 411.02h0 M136.66 413.47h0 M136.75 415.76h0 M136.71 417.92h0 M136.57 419.96h0 M136.34 421.91h0 M136.03 423.78h0 M135.65 425.56h0 M135.2 427.28h0 M134.69 428.93h0 M134.12 430.52h0 M133.5 432.05h0 M132.83 433.53h0 M132.11 434.95h0 M131.34 436.33h0 M130.53 437.66h0 M129.67 438.94h0 M128.77 440.17h0 M127.83 441.36h0 M126.85 442.5h0 M125.82 443.6h0 M124.75 444.65h0 M123.64 445.66h0 M122.49 446.62h0 M121.29 447.54h0 M120.05 448.41h0 M118.77 449.23h0 M117.44 450h0 M116.06 450.72h0 M114.62 451.38h0 M113.14 451.99h0 M111.6 452.54h0 M109.99 453.02h0 M108.33 453.43h0 M106.59 453.76h0 M104.76 454.01h0 M102.85 454.16h0 M100.84 454.2h0 M98.7 454.11h0 M96.41 453.85h0 M93.93 453.4h0 M91.19 452.66h0 M88.06 451.51h0 M84.2 449.57h0 M76.06 443.06h0" stroke="#0A8A3C" stroke-width="2.45" stroke-linecap="round" fill="none" clip-path="url(#m02)"/>
<line x1="27.1" x2="29.7" y1="340.05" y2="340.05" stroke="#6E6E6E" stroke-width="0.7"/>
<text transform="translate(25.6 342.75) scale(0.82 1)" text-anchor="end" font-size="7.8" fill="#909090" font-family="'Liberation Serif', serif">2.0</text>
<line x1="27.1" x2="29.7" y1="359.07" y2="359.07" stroke="#6E6E6E" stroke-width="0.7"/>
<text transform="translate(25.6 361.77) scale(0.82 1)" text-anchor="end" font-size="7.8" fill="#909090" font-family="'Liberation Serif', serif">1.5</text>
<line x1="27.1" x2="29.7" y1="378.1" y2="378.1" stroke="#6E6E6E" stroke-width="0.7"/>
<text transform="translate(25.6 380.8) scale(0.82 1)" text-anchor="end" font-size="7.8" fill="#909090" font-family="'Liberation Serif', serif">1.0</text>
<line x1="27.1" x2="29.7" y1="397.12" y2="397.12" stroke="#6E6E6E" stroke-width="0.7"/>
<text transform="translate(25.6 399.82) scale(0.82 1)" text-anchor="end" font-size="7.8" fill="#909090" font-family="'Liberation Serif', serif">0.5</text>
<line x1="27.1" x2="29.7" y1="416.15" y2="416.15" stroke="#6E6E6E" stroke-width="0.7"/>
<text transform="translate(25.6 418.85) scale(0.82 1)" text-anchor="end" font-size="7.8" fill="#909090" font-family="'Liberation Serif', serif">0.0</text>
<line x1="27.1" x2="29.7" y1="435.17" y2="435.17" stroke="#6E6E6E" stroke-width="0.7"/>
<text transform="translate(25.6 437.87) scale(0.82 1)" text-anchor="end" font-size="7.8" fill="#909090" font-family="'Liberation Serif', serif">−0.5</text>
<line x1="27.1" x2="29.7" y1="454.2" y2="454.2" stroke="#6E6E6E" stroke-width="0.7"/>
<text transform="translate(25.6 456.9) scale(0.82 1)" text-anchor="end" font-size="7.8" fill="#909090" font-family="'Liberation Serif', serif">−1.0</text>
<line x1="27.1" x2="29.7" y1="473.22" y2="473.22" stroke="#6E6E6E" stroke-width="0.7"/>
<text transform="translate(25.6 475.92) scale(0.82 1)" text-anchor="end" font-size="7.8" fill="#909090" font-family="'Liberation Serif', serif">−1.5</text>
<line x1="27.1" x2="29.7" y1="492.25" y2="492.25" stroke="#6E6E6E" stroke-width="0.7"/>
<text transform="translate(25.6 494.95) scale(0.82 1)" text-anchor="end" font-size="7.8" fill="#909090" font-family="'Liberation Serif', serif">−2.0</text>
<line x1="30.1" x2="30.1" y1="492.6" y2="495" stroke="#6E6E6E" stroke-width="0.7"/>
<text transform="translate(30.1 502.3) scale(0.82 1)" text-anchor="middle" font-size="7.8" fill="#909090" font-family="'Liberation Serif', serif">−2</text>
<line x1="65.65" x2="65.65" y1="492.6" y2="495" stroke="#6E6E6E" stroke-width="0.7"/>
<text transform="translate(65.65 502.3) scale(0.82 1)" text-anchor="middle" font-size="7.8" fill="#909090" font-family="'Liberation Serif', serif">−1</text>
<line x1="101.2" x2="101.2" y1="492.6" y2="495" stroke="#6E6E6E" stroke-width="0.7"/>
<text transform="translate(101.2 502.3) scale(0.82 1)" text-anchor="middle" font-size="7.8" fill="#909090" font-family="'Liberation Serif', serif">0</text>
<line x1="136.75" x2="136.75" y1="492.6" y2="495" stroke="#6E6E6E" stroke-width="0.7"/>
<text transform="translate(136.75 502.3) scale(0.82 1)" text-anchor="middle" font-size="7.8" fill="#909090" font-family="'Liberation Serif', serif">1</text>
<line x1="172.3" x2="172.3" y1="492.6" y2="495" stroke="#6E6E6E" stroke-width="0.7"/>
<text transform="translate(172.3 502.3) scale(0.82 1)" text-anchor="middle" font-size="7.8" fill="#909090" font-family="'Liberation Serif', serif">2</text>
<text transform="translate(8.6 416.2) rotate(-90)" text-anchor="middle" font-size="9.3" font-style="italic" fill="#7A7A7A" font-family="'Liberation Serif', serif">x<tspan font-size="6.3" font-style="normal" dy="1.5">2</tspan></text>
<rect x="201.0" y="340.0" width="141" height="152" fill="#E5E5E5"/>
<path d="M207.2 340.0 V492.0 M201.0 485.65 H342.0 M232.96 340.0 V492.0 M201.0 457.95 H342.0 M258.72 340.0 V492.0 M201.0 430.25 H342.0 M284.48 340.0 V492.0 M201.0 402.55 H342.0 M310.24 340.0 V492.0 M201.0 374.85 H342.0 M336 340.0 V492.0 M201.0 347.15 H342.0" stroke="#FFFFFF" stroke-width="0.7" fill="none"/>
<g clip-path="url(#c12)" fill="none">
<path d="M232.96 347.15 L216.44 356.26 L208.1 368.69 L208.52 396.21 L209.23 403.61 L209.4 404.86 L209.41 404.93 L209.41 404.93 L209.41 404.93 L209.41 404.93 L209.41 404.93 M233.31 359.67 L220.93 373.08 L213.74 386.19 L211.92 404.52 L211.51 407.02 L211.07 406.67 L210.91 406.53 L210.9 406.53 L210.9 406.53 L210.9 406.53 L210.9 406.53 M234.03 368.6 L224.26 382.79 L218.06 394.81 L215.06 408.63 L213.61 409.19 L212.64 408.29 L212.4 408.13 L212.38 408.12 L212.38 408.12 L212.38 408.12 L212.38 408.12 M234.92 375.58 L226.78 389.55 L221.25 400.58 L217.62 411.8 L215.48 411.14 L214.16 409.9 L213.88 409.73 L213.87 409.72 L213.87 409.72 L213.87 409.72 L213.87 409.72 M235.88 381.32 L228.81 394.73 L223.77 404.94 L219.82 414.47 L217.21 412.97 L215.66 411.51 L215.37 411.33 L215.36 411.32 L215.36 411.32 L215.36 411.32 L215.36 411.32 M236.89 386.21 L230.54 398.96 L225.86 408.47 L221.77 416.79 L218.85 414.72 L217.15 413.11 L216.86 412.93 L216.84 412.92 L216.84 412.92 L216.84 412.92 L216.84 412.92 M237.93 390.46 L232.08 402.54 L227.68 411.44 L223.54 418.87 L220.42 416.41 L218.63 414.7 L218.34 414.53 L218.33 414.52 L218.33 414.52 L218.33 414.52 L218.33 414.52 M238.98 394.22 L233.48 405.66 L229.3 414.02 L225.17 420.77 L221.93 418.05 L220.11 416.3 L219.83 416.13 L219.82 416.12 L219.82 416.12 L219.82 416.12 L219.82 416.12 M240.03 397.61 L234.8 408.43 L230.79 416.32 L226.7 422.53 L223.41 419.66 L221.58 417.89 L221.31 417.72 L221.31 417.72 L221.31 417.72 L221.31 417.72 L221.31 417.72 M241.1 400.68 L236.05 410.94 L232.17 418.41 L228.14 424.18 L224.86 421.23 L223.05 419.49 L222.8 419.32 L222.79 419.32 L222.79 419.32 L222.79 419.32 L222.79 419.32 M242.17 403.49 L237.25 413.24 L233.48 420.32 L229.51 425.74 L226.28 422.79 L224.52 421.08 L224.29 420.92 L224.28 420.92 L224.28 420.92 L224.28 420.92 L224.28 420.92 M243.24 406.09 L238.42 415.37 L234.72 422.1 L230.82 427.22 L227.68 424.32 L225.99 422.67 L225.77 422.52 L225.77 422.51 L225.77 422.51 L225.77 422.51 L225.77 422.51 M244.32 408.51 L239.56 417.35 L235.92 423.78 L232.09 428.64 L229.07 425.84 L227.46 424.26 L227.26 424.12 L227.25 424.11 L227.25 424.11 L227.25 424.11 L227.25 424.11 M245.4 410.78 L240.68 419.22 L237.08 425.36 L233.32 430 L230.44 427.35 L228.93 425.85 L228.75 425.72 L228.74 425.71 L228.74 425.71 L228.74 425.71 L228.74 425.71 M246.49 412.9 L241.79 420.98 L238.22 426.87 L234.51 431.33 L231.8 428.84 L230.4 427.44 L230.23 427.32 L230.23 427.31 L230.23 427.31 L230.23 427.31 L230.23 427.31 M247.59 414.92 L242.89 422.66 L239.33 428.31 L235.68 432.62 L233.16 430.33 L231.86 429.03 L231.72 428.91 L231.71 428.91 L231.71 428.91 L231.71 428.91 L231.71 428.91 M248.69 416.82 L243.98 424.27 L240.42 429.7 L236.82 433.88 L234.5 431.8 L233.33 430.62 L233.21 430.51 L233.2 430.51 L233.2 430.51 L233.2 430.51 L233.2 430.51 M249.81 418.64 L245.06 425.81 L241.5 431.04 L237.95 435.11 L235.85 433.27 L234.8 432.21 L234.69 432.11 L234.69 432.11 L234.69 432.11 L234.69 432.11 L234.69 432.11 M250.94 420.38 L246.15 427.29 L242.56 432.35 L239.05 436.32 L237.18 434.73 L236.27 433.8 L236.18 433.71 L236.17 433.71 L236.17 433.71 L236.17 433.71 L236.17 433.71 M252.08 422.05 L247.24 428.73 L243.62 433.62 L240.15 437.51 L238.52 436.18 L237.74 435.38 L237.66 435.31 L237.66 435.31 L237.66 435.31 L237.66 435.31 L237.66 435.31 M253.24 423.65 L248.34 430.12 L244.68 434.87 L241.23 438.69 L239.85 437.63 L239.22 436.97 L239.15 436.91 L239.15 436.9 L239.15 436.9 L239.15 436.9 L239.15 436.9 M254.42 425.2 L249.44 431.47 L245.74 436.09 L242.31 439.86 L241.18 439.07 L240.69 438.55 L240.64 438.51 L240.64 438.5 L240.64 438.5 L240.64 438.5 L240.64 438.5 M255.61 426.69 L250.55 432.8 L246.79 437.28 L243.38 441.02 L242.51 440.51 L242.16 440.14 L242.12 440.1 L242.12 440.1 L242.12 440.1 L242.12 440.1 L242.12 440.1 M256.84 428.15 L251.68 434.09 L247.85 438.47 L244.44 442.17 L243.84 441.95 L243.63 441.72 L243.61 441.7 L243.61 441.7 L243.61 441.7 L243.61 441.7 L243.61 441.7 M258.08 429.56 L252.82 435.35 L248.92 439.63 L245.51 443.31 L245.17 443.38 L245.1 443.31 L245.1 443.3 L245.1 443.3 L245.1 443.3 L245.1 443.3 L245.1 443.3 M259.36 430.93 L253.97 436.6 L250 440.79 L246.57 444.46 L246.51 444.82 L246.58 444.89 L246.58 444.9 L246.58 444.9 L246.58 444.9 L246.58 444.9 L246.58 444.9 M260.68 432.28 L255.15 437.82 L251.08 441.93 L247.64 445.6 L247.84 446.25 L248.05 446.48 L248.07 446.5 L248.07 446.5 L248.07 446.5 L248.07 446.5 L248.07 446.5 M262.03 433.59 L256.35 439.03 L252.18 443.07 L248.71 446.75 L249.18 447.68 L249.52 448.06 L249.56 448.1 L249.56 448.1 L249.56 448.1 L249.56 448.1 L249.56 448.1 M263.42 434.88 L257.58 440.23 L253.29 444.21 L249.78 447.9 L250.52 449.11 L251 449.64 L251.04 449.69 L251.04 449.7 L251.04 449.7 L251.04 449.7 L251.04 449.7 M264.86 436.14 L258.84 441.41 L254.43 445.35 L250.87 449.05 L251.86 450.54 L252.47 451.22 L252.53 451.29 L252.53 451.3 L252.53 451.3 L252.53 451.3 L252.53 451.3 M266.35 437.39 L260.13 442.59 L255.58 446.48 L251.96 450.22 L253.21 451.97 L253.95 452.8 L254.02 452.89 L254.02 452.89 L254.02 452.89 L254.02 452.89 L254.02 452.89 M267.9 438.62 L261.47 443.76 L256.77 447.62 L253.07 451.4 L254.56 453.41 L255.42 454.39 L255.5 454.49 L255.51 454.49 L255.51 454.49 L255.51 454.49 L255.51 454.49 M269.52 439.83 L262.85 444.93 L257.98 448.77 L254.2 452.59 L255.92 454.85 L256.9 455.97 L256.99 456.09 L256.99 456.09 L256.99 456.09 L256.99 456.09 L256.99 456.09 M271.21 441.03 L264.28 446.1 L259.23 449.93 L255.35 453.8 L257.28 456.29 L258.37 457.55 L258.48 457.69 L258.48 457.69 L258.48 457.69 L258.48 457.69 L258.48 457.69 M272.98 442.22 L265.78 447.28 L260.52 451.11 L256.52 455.03 L258.65 457.74 L259.85 459.13 L259.96 459.28 L259.97 459.29 L259.97 459.29 L259.97 459.29 L259.97 459.29 M274.85 443.4 L267.34 448.46 L261.87 452.3 L257.72 456.28 L260.03 459.19 L261.33 460.71 L261.45 460.88 L261.45 460.89 L261.45 460.89 L261.45 460.89 L261.45 460.89 M276.83 444.57 L268.98 449.65 L263.27 453.52 L258.95 457.56 L261.42 460.66 L262.81 462.29 L262.93 462.48 L262.94 462.49 L262.94 462.49 L262.94 462.49 L262.94 462.49 M278.93 445.73 L270.72 450.85 L264.74 454.77 L260.22 458.88 L262.82 462.14 L264.29 463.87 L264.42 464.08 L264.43 464.09 L264.43 464.09 L264.43 464.09 L264.43 464.09 M281.18 446.89 L272.56 452.08 L266.3 456.05 L261.54 460.25 L264.23 463.63 L265.77 465.45 L265.91 465.68 L265.91 465.69 L265.91 465.69 L265.91 465.69 L265.91 465.69 M283.6 448.05 L274.54 453.34 L267.95 457.39 L262.92 461.66 L265.66 465.13 L267.25 467.03 L267.39 467.28 L267.4 467.28 L267.4 467.28 L267.4 467.28 L267.4 467.28 M286.22 449.2 L276.68 454.63 L269.73 458.8 L264.37 463.14 L267.1 466.66 L268.73 468.61 L268.88 468.87 L268.89 468.88 L268.89 468.88 L268.89 468.88 L268.89 468.88 M289.08 450.34 L279.01 455.97 L271.67 460.28 L265.9 464.68 L268.57 468.22 L270.21 470.19 L270.37 470.47 L270.37 470.48 L270.37 470.48 L270.37 470.48 L270.37 470.48 M292.22 451.48 L281.59 457.39 L273.81 461.88 L267.53 466.33 L270.07 469.81 L271.69 471.77 L271.86 472.07 L271.86 472.08 L271.86 472.08 L271.86 472.08 L271.86 472.08 M295.73 452.61 L284.49 458.9 L276.21 463.63 L269.3 468.08 L271.59 471.44 L273.18 473.36 L273.34 473.67 L273.35 473.68 L273.35 473.68 L273.35 473.68 L273.35 473.68 M299.68 453.72 L287.82 460.55 L278.98 465.58 L271.24 469.98 L273.16 473.12 L274.66 474.95 L274.83 475.27 L274.84 475.28 L274.84 475.28 L274.84 475.28 L274.84 475.28 M304.22 454.81 L291.75 462.41 L282.25 467.84 L273.4 472.08 L274.79 474.88 L276.15 476.55 L276.32 476.87 L276.32 476.88 L276.32 476.88 L276.32 476.88 L276.32 476.88 M309.56 455.85 L296.57 464.59 L286.31 470.54 L275.87 474.44 L276.49 476.74 L277.64 478.16 L277.8 478.46 L277.81 478.48 L277.81 478.48 L277.81 478.48 L277.81 478.48 M316.05 456.8 L302.86 467.31 L291.68 473.97 L278.82 477.2 L278.3 478.75 L279.14 479.8 L279.29 480.06 L279.3 480.08 L279.3 480.08 L279.3 480.08 L279.3 480.08 M324.35 457.57 L311.89 470.89 L299.7 478.62 L282.65 480.58 L280.32 481.01 L280.65 481.49 L280.78 481.66 L280.78 481.67 L280.78 481.67 L280.78 481.67 L280.78 481.67 M336 457.95 L327.52 475.71 L315.97 484.68 L290.38 484.23 L283.5 483.47 L282.33 483.28 L282.27 483.27 L282.27 483.27 L282.27 483.27 L282.27 483.27 L282.27 483.27" stroke="#505050" stroke-width="1.1" stroke-opacity="0.64" stroke-linejoin="round"/>
<path d="M216.44 356.26h0 M208.1 368.69h0 M208.52 396.21h0 M209.23 403.61h0 M209.4 404.86h0 M209.41 404.93h0 M209.41 404.93h0 M209.41 404.93h0 M209.41 404.93h0 M220.93 373.08h0 M213.74 386.19h0 M211.92 404.52h0 M211.51 407.02h0 M211.07 406.67h0 M210.91 406.53h0 M210.9 406.53h0 M210.9 406.53h0 M210.9 406.53h0 M224.26 382.79h0 M218.06 394.81h0 M215.06 408.63h0 M213.61 409.19h0 M212.64 408.29h0 M212.4 408.13h0 M212.38 408.12h0 M212.38 408.12h0 M212.38 408.12h0 M226.78 389.55h0 M221.25 400.58h0 M217.62 411.8h0 M215.48 411.14h0 M214.16 409.9h0 M213.88 409.73h0 M213.87 409.72h0 M213.87 409.72h0 M213.87 409.72h0 M228.81 394.73h0 M223.77 404.94h0 M219.82 414.47h0 M217.21 412.97h0 M215.66 411.51h0 M215.37 411.33h0 M215.36 411.32h0 M215.36 411.32h0 M215.36 411.32h0 M230.54 398.96h0 M225.86 408.47h0 M221.77 416.79h0 M218.85 414.72h0 M217.15 413.11h0 M216.86 412.93h0 M216.84 412.92h0 M216.84 412.92h0 M216.84 412.92h0 M232.08 402.54h0 M227.68 411.44h0 M223.54 418.87h0 M220.42 416.41h0 M218.63 414.7h0 M218.34 414.53h0 M218.33 414.52h0 M218.33 414.52h0 M218.33 414.52h0 M233.48 405.66h0 M229.3 414.02h0 M225.17 420.77h0 M221.93 418.05h0 M220.11 416.3h0 M219.83 416.13h0 M219.82 416.12h0 M219.82 416.12h0 M219.82 416.12h0 M234.8 408.43h0 M230.79 416.32h0 M226.7 422.53h0 M223.41 419.66h0 M221.58 417.89h0 M221.31 417.72h0 M221.31 417.72h0 M221.31 417.72h0 M221.31 417.72h0 M236.05 410.94h0 M232.17 418.41h0 M228.14 424.18h0 M224.86 421.23h0 M223.05 419.49h0 M222.8 419.32h0 M222.79 419.32h0 M222.79 419.32h0 M222.79 419.32h0 M237.25 413.24h0 M233.48 420.32h0 M229.51 425.74h0 M226.28 422.79h0 M224.52 421.08h0 M224.29 420.92h0 M224.28 420.92h0 M224.28 420.92h0 M224.28 420.92h0 M238.42 415.37h0 M234.72 422.1h0 M230.82 427.22h0 M227.68 424.32h0 M225.99 422.67h0 M225.77 422.52h0 M225.77 422.51h0 M225.77 422.51h0 M225.77 422.51h0 M239.56 417.35h0 M235.92 423.78h0 M232.09 428.64h0 M229.07 425.84h0 M227.46 424.26h0 M227.26 424.12h0 M227.25 424.11h0 M227.25 424.11h0 M227.25 424.11h0 M240.68 419.22h0 M237.08 425.36h0 M233.32 430h0 M230.44 427.35h0 M228.93 425.85h0 M228.75 425.72h0 M228.74 425.71h0 M228.74 425.71h0 M228.74 425.71h0 M241.79 420.98h0 M238.22 426.87h0 M234.51 431.33h0 M231.8 428.84h0 M230.4 427.44h0 M230.23 427.32h0 M230.23 427.31h0 M230.23 427.31h0 M230.23 427.31h0 M242.89 422.66h0 M239.33 428.31h0 M235.68 432.62h0 M233.16 430.33h0 M231.86 429.03h0 M231.72 428.91h0 M231.71 428.91h0 M231.71 428.91h0 M231.71 428.91h0 M243.98 424.27h0 M240.42 429.7h0 M236.82 433.88h0 M234.5 431.8h0 M233.33 430.62h0 M233.21 430.51h0 M233.2 430.51h0 M233.2 430.51h0 M233.2 430.51h0 M245.06 425.81h0 M241.5 431.04h0 M237.95 435.11h0 M235.85 433.27h0 M234.8 432.21h0 M234.69 432.11h0 M234.69 432.11h0 M234.69 432.11h0 M234.69 432.11h0 M246.15 427.29h0 M242.56 432.35h0 M239.05 436.32h0 M237.18 434.73h0 M236.27 433.8h0 M236.18 433.71h0 M236.17 433.71h0 M236.17 433.71h0 M236.17 433.71h0 M247.24 428.73h0 M243.62 433.62h0 M240.15 437.51h0 M238.52 436.18h0 M237.74 435.38h0 M237.66 435.31h0 M237.66 435.31h0 M237.66 435.31h0 M237.66 435.31h0 M248.34 430.12h0 M244.68 434.87h0 M241.23 438.69h0 M239.85 437.63h0 M239.22 436.97h0 M239.15 436.91h0 M239.15 436.9h0 M239.15 436.9h0 M239.15 436.9h0 M249.44 431.47h0 M245.74 436.09h0 M242.31 439.86h0 M241.18 439.07h0 M240.69 438.55h0 M240.64 438.51h0 M240.64 438.5h0 M240.64 438.5h0 M240.64 438.5h0 M250.55 432.8h0 M246.79 437.28h0 M243.38 441.02h0 M242.51 440.51h0 M242.16 440.14h0 M242.12 440.1h0 M242.12 440.1h0 M242.12 440.1h0 M242.12 440.1h0 M251.68 434.09h0 M247.85 438.47h0 M244.44 442.17h0 M243.84 441.95h0 M243.63 441.72h0 M243.61 441.7h0 M243.61 441.7h0 M243.61 441.7h0 M243.61 441.7h0 M252.82 435.35h0 M248.92 439.63h0 M245.51 443.31h0 M245.17 443.38h0 M245.1 443.31h0 M245.1 443.3h0 M245.1 443.3h0 M245.1 443.3h0 M245.1 443.3h0 M253.97 436.6h0 M250 440.79h0 M246.57 444.46h0 M246.51 444.82h0 M246.58 444.89h0 M246.58 444.9h0 M246.58 444.9h0 M246.58 444.9h0 M246.58 444.9h0 M255.15 437.82h0 M251.08 441.93h0 M247.64 445.6h0 M247.84 446.25h0 M248.05 446.48h0 M248.07 446.5h0 M248.07 446.5h0 M248.07 446.5h0 M248.07 446.5h0 M256.35 439.03h0 M252.18 443.07h0 M248.71 446.75h0 M249.18 447.68h0 M249.52 448.06h0 M249.56 448.1h0 M249.56 448.1h0 M249.56 448.1h0 M249.56 448.1h0 M257.58 440.23h0 M253.29 444.21h0 M249.78 447.9h0 M250.52 449.11h0 M251 449.64h0 M251.04 449.69h0 M251.04 449.7h0 M251.04 449.7h0 M251.04 449.7h0 M258.84 441.41h0 M254.43 445.35h0 M250.87 449.05h0 M251.86 450.54h0 M252.47 451.22h0 M252.53 451.29h0 M252.53 451.3h0 M252.53 451.3h0 M252.53 451.3h0 M260.13 442.59h0 M255.58 446.48h0 M251.96 450.22h0 M253.21 451.97h0 M253.95 452.8h0 M254.02 452.89h0 M254.02 452.89h0 M254.02 452.89h0 M254.02 452.89h0 M261.47 443.76h0 M256.77 447.62h0 M253.07 451.4h0 M254.56 453.41h0 M255.42 454.39h0 M255.5 454.49h0 M255.51 454.49h0 M255.51 454.49h0 M255.51 454.49h0 M262.85 444.93h0 M257.98 448.77h0 M254.2 452.59h0 M255.92 454.85h0 M256.9 455.97h0 M256.99 456.09h0 M256.99 456.09h0 M256.99 456.09h0 M256.99 456.09h0 M264.28 446.1h0 M259.23 449.93h0 M255.35 453.8h0 M257.28 456.29h0 M258.37 457.55h0 M258.48 457.69h0 M258.48 457.69h0 M258.48 457.69h0 M258.48 457.69h0 M265.78 447.28h0 M260.52 451.11h0 M256.52 455.03h0 M258.65 457.74h0 M259.85 459.13h0 M259.96 459.28h0 M259.97 459.29h0 M259.97 459.29h0 M259.97 459.29h0 M267.34 448.46h0 M261.87 452.3h0 M257.72 456.28h0 M260.03 459.19h0 M261.33 460.71h0 M261.45 460.88h0 M261.45 460.89h0 M261.45 460.89h0 M261.45 460.89h0 M268.98 449.65h0 M263.27 453.52h0 M258.95 457.56h0 M261.42 460.66h0 M262.81 462.29h0 M262.93 462.48h0 M262.94 462.49h0 M262.94 462.49h0 M262.94 462.49h0 M270.72 450.85h0 M264.74 454.77h0 M260.22 458.88h0 M262.82 462.14h0 M264.29 463.87h0 M264.42 464.08h0 M264.43 464.09h0 M264.43 464.09h0 M264.43 464.09h0 M272.56 452.08h0 M266.3 456.05h0 M261.54 460.25h0 M264.23 463.63h0 M265.77 465.45h0 M265.91 465.68h0 M265.91 465.69h0 M265.91 465.69h0 M265.91 465.69h0 M274.54 453.34h0 M267.95 457.39h0 M262.92 461.66h0 M265.66 465.13h0 M267.25 467.03h0 M267.39 467.28h0 M267.4 467.28h0 M267.4 467.28h0 M267.4 467.28h0 M276.68 454.63h0 M269.73 458.8h0 M264.37 463.14h0 M267.1 466.66h0 M268.73 468.61h0 M268.88 468.87h0 M268.89 468.88h0 M268.89 468.88h0 M268.89 468.88h0 M279.01 455.97h0 M271.67 460.28h0 M265.9 464.68h0 M268.57 468.22h0 M270.21 470.19h0 M270.37 470.47h0 M270.37 470.48h0 M270.37 470.48h0 M270.37 470.48h0 M281.59 457.39h0 M273.81 461.88h0 M267.53 466.33h0 M270.07 469.81h0 M271.69 471.77h0 M271.86 472.07h0 M271.86 472.08h0 M271.86 472.08h0 M271.86 472.08h0 M284.49 458.9h0 M276.21 463.63h0 M269.3 468.08h0 M271.59 471.44h0 M273.18 473.36h0 M273.34 473.67h0 M273.35 473.68h0 M273.35 473.68h0 M273.35 473.68h0 M287.82 460.55h0 M278.98 465.58h0 M271.24 469.98h0 M273.16 473.12h0 M274.66 474.95h0 M274.83 475.27h0 M274.84 475.28h0 M274.84 475.28h0 M274.84 475.28h0 M291.75 462.41h0 M282.25 467.84h0 M273.4 472.08h0 M274.79 474.88h0 M276.15 476.55h0 M276.32 476.87h0 M276.32 476.88h0 M276.32 476.88h0 M276.32 476.88h0 M296.57 464.59h0 M286.31 470.54h0 M275.87 474.44h0 M276.49 476.74h0 M277.64 478.16h0 M277.8 478.46h0 M277.81 478.48h0 M277.81 478.48h0 M277.81 478.48h0 M302.86 467.31h0 M291.68 473.97h0 M278.82 477.2h0 M278.3 478.75h0 M279.14 479.8h0 M279.29 480.06h0 M279.3 480.08h0 M279.3 480.08h0 M279.3 480.08h0 M311.89 470.89h0 M299.7 478.62h0 M282.65 480.58h0 M280.32 481.01h0 M280.65 481.49h0 M280.78 481.66h0 M280.78 481.67h0 M280.78 481.67h0 M280.78 481.67h0 M327.52 475.71h0 M315.97 484.68h0 M290.38 484.23h0 M283.5 483.47h0 M282.33 483.28h0 M282.27 483.27h0 M282.27 483.27h0 M282.27 483.27h0 M282.27 483.27h0" stroke="#505050" stroke-width="1.9" stroke-linecap="round" stroke-opacity="0.55"/>
<path d="M232.96 347.15h0 M233.31 359.67h0 M234.03 368.6h0 M234.92 375.58h0 M235.88 381.32h0 M236.89 386.21h0 M237.93 390.46h0 M238.98 394.22h0 M240.03 397.61h0 M241.1 400.68h0 M242.17 403.49h0 M243.24 406.09h0 M244.32 408.51h0 M245.4 410.78h0 M246.49 412.9h0 M247.59 414.92h0 M248.69 416.82h0 M249.81 418.64h0 M250.94 420.38h0 M252.08 422.05h0 M253.24 423.65h0 M254.42 425.2h0 M255.61 426.69h0 M256.84 428.15h0 M258.08 429.56h0 M259.36 430.93h0 M260.68 432.28h0 M262.03 433.59h0 M263.42 434.88h0 M264.86 436.14h0 M266.35 437.39h0 M267.9 438.62h0 M269.52 439.83h0 M271.21 441.03h0 M272.98 442.22h0 M274.85 443.4h0 M276.83 444.57h0 M278.93 445.73h0 M281.18 446.89h0 M283.6 448.05h0 M286.22 449.2h0 M289.08 450.34h0 M292.22 451.48h0 M295.73 452.61h0 M299.68 453.72h0 M304.22 454.81h0 M309.56 455.85h0 M316.05 456.8h0 M324.35 457.57h0 M336 457.95h0 M209.41 404.93h0 M210.9 406.53h0 M212.38 408.12h0 M213.87 409.72h0 M215.36 411.32h0 M216.84 412.92h0 M218.33 414.52h0 M219.82 416.12h0 M221.31 417.72h0 M222.79 419.32h0 M224.28 420.92h0 M225.77 422.51h0 M227.25 424.11h0 M228.74 425.71h0 M230.23 427.31h0 M231.71 428.91h0 M233.2 430.51h0 M234.69 432.11h0 M236.17 433.71h0 M237.66 435.31h0 M239.15 436.9h0 M240.64 438.5h0 M242.12 440.1h0 M243.61 441.7h0 M245.1 443.3h0 M246.58 444.9h0 M248.07 446.5h0 M249.56 448.1h0 M251.04 449.7h0 M252.53 451.3h0 M254.02 452.89h0 M255.51 454.49h0 M256.99 456.09h0 M258.48 457.69h0 M259.97 459.29h0 M261.45 460.89h0 M262.94 462.49h0 M264.43 464.09h0 M265.91 465.69h0 M267.4 467.28h0 M268.89 468.88h0 M270.37 470.48h0 M271.86 472.08h0 M273.35 473.68h0 M274.84 475.28h0 M276.32 476.88h0 M277.81 478.48h0 M279.3 480.08h0 M280.78 481.67h0 M282.27 483.27h0" stroke="#0A8A3C" stroke-width="2.25" stroke-linecap="round"/>
<path d="M207.2 402.55 L284.48 485.65" stroke="#EE2222" stroke-width="1.0" stroke-dasharray="2.4 1.5"/>
</g>
<line x1="197.6" x2="200.2" y1="485.65" y2="485.65" stroke="#6E6E6E" stroke-width="0.7"/>
<text transform="translate(196.1 488.35) scale(0.82 1)" text-anchor="end" font-size="7.8" fill="#909090" font-family="'Liberation Serif', serif">0</text>
<line x1="197.6" x2="200.2" y1="457.95" y2="457.95" stroke="#6E6E6E" stroke-width="0.7"/>
<text transform="translate(196.1 460.65) scale(0.82 1)" text-anchor="end" font-size="7.8" fill="#909090" font-family="'Liberation Serif', serif">2</text>
<line x1="197.6" x2="200.2" y1="430.25" y2="430.25" stroke="#6E6E6E" stroke-width="0.7"/>
<text transform="translate(196.1 432.95) scale(0.82 1)" text-anchor="end" font-size="7.8" fill="#909090" font-family="'Liberation Serif', serif">4</text>
<line x1="197.6" x2="200.2" y1="402.55" y2="402.55" stroke="#6E6E6E" stroke-width="0.7"/>
<text transform="translate(196.1 405.25) scale(0.82 1)" text-anchor="end" font-size="7.8" fill="#909090" font-family="'Liberation Serif', serif">6</text>
<line x1="197.6" x2="200.2" y1="374.85" y2="374.85" stroke="#6E6E6E" stroke-width="0.7"/>
<text transform="translate(196.1 377.55) scale(0.82 1)" text-anchor="end" font-size="7.8" fill="#909090" font-family="'Liberation Serif', serif">8</text>
<line x1="197.6" x2="200.2" y1="347.15" y2="347.15" stroke="#6E6E6E" stroke-width="0.7"/>
<text transform="translate(196.1 349.85) scale(0.82 1)" text-anchor="end" font-size="7.8" fill="#909090" font-family="'Liberation Serif', serif">10</text>
<line x1="207.2" x2="207.2" y1="492.6" y2="495" stroke="#6E6E6E" stroke-width="0.7"/>
<text transform="translate(207.2 502.3) scale(0.82 1)" text-anchor="middle" font-size="7.8" fill="#909090" font-family="'Liberation Serif', serif">0</text>
<line x1="232.96" x2="232.96" y1="492.6" y2="495" stroke="#6E6E6E" stroke-width="0.7"/>
<text transform="translate(232.96 502.3) scale(0.82 1)" text-anchor="middle" font-size="7.8" fill="#909090" font-family="'Liberation Serif', serif">2</text>
<line x1="258.72" x2="258.72" y1="492.6" y2="495" stroke="#6E6E6E" stroke-width="0.7"/>
<text transform="translate(258.72 502.3) scale(0.82 1)" text-anchor="middle" font-size="7.8" fill="#909090" font-family="'Liberation Serif', serif">4</text>
<line x1="284.48" x2="284.48" y1="492.6" y2="495" stroke="#6E6E6E" stroke-width="0.7"/>
<text transform="translate(284.48 502.3) scale(0.82 1)" text-anchor="middle" font-size="7.8" fill="#909090" font-family="'Liberation Serif', serif">6</text>
<line x1="310.24" x2="310.24" y1="492.6" y2="495" stroke="#6E6E6E" stroke-width="0.7"/>
<text transform="translate(310.24 502.3) scale(0.82 1)" text-anchor="middle" font-size="7.8" fill="#909090" font-family="'Liberation Serif', serif">8</text>
<line x1="336" x2="336" y1="492.6" y2="495" stroke="#6E6E6E" stroke-width="0.7"/>
<text transform="translate(336 502.3) scale(0.82 1)" text-anchor="middle" font-size="7.8" fill="#909090" font-family="'Liberation Serif', serif">10</text>
<text transform="translate(186.3 416.2) rotate(-90)" text-anchor="middle" font-size="9.3" font-style="italic" fill="#7A7A7A" font-family="'Liberation Serif', serif">f<tspan font-size="6.3" font-style="normal" dy="1.5">2</tspan></text>
<rect x="371.4" y="20.0" width="141.1" height="152" fill="#E5E5E5"/>
<path d="M377.7 20.0 V172.0 M392 20.0 V172.0 M406.3 20.0 V172.0 M420.6 20.0 V172.0 M434.9 20.0 V172.0 M449.2 20.0 V172.0 M463.5 20.0 V172.0 M477.8 20.0 V172.0 M492.1 20.0 V172.0 M506.4 20.0 V172.0 M371.4 164.4 H512.5 M371.4 139.95 H512.5 M371.4 115.5 H512.5 M371.4 91.05 H512.5 M371.4 66.6 H512.5 M371.4 42.15 H512.5 M371.4 29.2 H512.5 M371.4 47.7 H512.5 M371.4 66.2 H512.5 M371.4 84.7 H512.5 M371.4 103.2 H512.5 M371.4 121.7 H512.5 M371.4 140.2 H512.5 M371.4 158.7 H512.5" stroke="#FFFFFF" stroke-width="0.7" fill="none"/>
<g clip-path="url(#c20)" fill="none">
<path d="M377.7 165.6 L392 55.85 L406.3 27 L420.6 30.9 L434.9 32.4 L449.2 32.8 L463.5 32.9 L477.8 32.9 L492.1 32.9 L506.4 32.9" stroke="#5268BC" stroke-width="1.3" stroke-linejoin="round"/>
<path d="M377.7 27 L392 29.2 L406.3 31.6 L420.6 41.2 L434.9 52.8 L449.2 60 L463.5 91.5 L477.8 133.5 L492.1 164.4 L506.4 165.6" stroke="#1F9A5A" stroke-width="1.3" stroke-dasharray="3 1.4" stroke-linejoin="round"/>
</g>
<line x1="368" x2="370.6" y1="164.4" y2="164.4" stroke="#6E6E6E" stroke-width="0.7"/>
<text transform="translate(366.5 167.1) scale(0.82 1)" text-anchor="end" font-size="7.8" fill="#909090" font-family="'Liberation Serif', serif">350</text>
<line x1="368" x2="370.6" y1="139.95" y2="139.95" stroke="#6E6E6E" stroke-width="0.7"/>
<text transform="translate(366.5 142.65) scale(0.82 1)" text-anchor="end" font-size="7.8" fill="#909090" font-family="'Liberation Serif', serif">355</text>
<line x1="368" x2="370.6" y1="115.5" y2="115.5" stroke="#6E6E6E" stroke-width="0.7"/>
<text transform="translate(366.5 118.2) scale(0.82 1)" text-anchor="end" font-size="7.8" fill="#909090" font-family="'Liberation Serif', serif">360</text>
<line x1="368" x2="370.6" y1="91.05" y2="91.05" stroke="#6E6E6E" stroke-width="0.7"/>
<text transform="translate(366.5 93.75) scale(0.82 1)" text-anchor="end" font-size="7.8" fill="#909090" font-family="'Liberation Serif', serif">365</text>
<line x1="368" x2="370.6" y1="66.6" y2="66.6" stroke="#6E6E6E" stroke-width="0.7"/>
<text transform="translate(366.5 69.3) scale(0.82 1)" text-anchor="end" font-size="7.8" fill="#909090" font-family="'Liberation Serif', serif">370</text>
<line x1="368" x2="370.6" y1="42.15" y2="42.15" stroke="#6E6E6E" stroke-width="0.7"/>
<text transform="translate(366.5 44.85) scale(0.82 1)" text-anchor="end" font-size="7.8" fill="#909090" font-family="'Liberation Serif', serif">375</text>
<line x1="377.7" x2="377.7" y1="172.6" y2="175" stroke="#6E6E6E" stroke-width="0.7"/>
<line x1="392" x2="392" y1="172.6" y2="175" stroke="#6E6E6E" stroke-width="0.7"/>
<line x1="406.3" x2="406.3" y1="172.6" y2="175" stroke="#6E6E6E" stroke-width="0.7"/>
<line x1="420.6" x2="420.6" y1="172.6" y2="175" stroke="#6E6E6E" stroke-width="0.7"/>
<line x1="434.9" x2="434.9" y1="172.6" y2="175" stroke="#6E6E6E" stroke-width="0.7"/>
<line x1="449.2" x2="449.2" y1="172.6" y2="175" stroke="#6E6E6E" stroke-width="0.7"/>
<line x1="463.5" x2="463.5" y1="172.6" y2="175" stroke="#6E6E6E" stroke-width="0.7"/>
<line x1="477.8" x2="477.8" y1="172.6" y2="175" stroke="#6E6E6E" stroke-width="0.7"/>
<line x1="492.1" x2="492.1" y1="172.6" y2="175" stroke="#6E6E6E" stroke-width="0.7"/>
<line x1="506.4" x2="506.4" y1="172.6" y2="175" stroke="#6E6E6E" stroke-width="0.7"/>
<line x1="513.3" x2="515.9" y1="29.2" y2="29.2" stroke="#6E6E6E" stroke-width="0.7"/>
<text transform="translate(517.7 32.1) scale(0.82 1)" font-size="7.8" fill="#909090" font-family="'Liberation Serif', serif">10<tspan font-size="6" dx="0.6" dy="-3.1">0</tspan></text>
<line x1="513.3" x2="515.9" y1="47.7" y2="47.7" stroke="#6E6E6E" stroke-width="0.7"/>
<text transform="translate(517.7 50.6) scale(0.82 1)" font-size="7.8" fill="#909090" font-family="'Liberation Serif', serif">10<tspan font-size="6" dx="0.6" dy="-3.1">−2</tspan></text>
<line x1="513.3" x2="515.9" y1="66.2" y2="66.2" stroke="#6E6E6E" stroke-width="0.7"/>
<text transform="translate(517.7 69.1) scale(0.82 1)" font-size="7.8" fill="#909090" font-family="'Liberation Serif', serif">10<tspan font-size="6" dx="0.6" dy="-3.1">−4</tspan></text>
<line x1="513.3" x2="515.9" y1="84.7" y2="84.7" stroke="#6E6E6E" stroke-width="0.7"/>
<text transform="translate(517.7 87.6) scale(0.82 1)" font-size="7.8" fill="#909090" font-family="'Liberation Serif', serif">10<tspan font-size="6" dx="0.6" dy="-3.1">−6</tspan></text>
<line x1="513.3" x2="515.9" y1="103.2" y2="103.2" stroke="#6E6E6E" stroke-width="0.7"/>
<text transform="translate(517.7 106.1) scale(0.82 1)" font-size="7.8" fill="#909090" font-family="'Liberation Serif', serif">10<tspan font-size="6" dx="0.6" dy="-3.1">−8</tspan></text>
<line x1="513.3" x2="515.9" y1="121.7" y2="121.7" stroke="#6E6E6E" stroke-width="0.7"/>
<text transform="translate(517.7 124.6) scale(0.82 1)" font-size="7.8" fill="#909090" font-family="'Liberation Serif', serif">10<tspan font-size="6" dx="0.6" dy="-3.1">−10</tspan></text>
<line x1="513.3" x2="515.9" y1="140.2" y2="140.2" stroke="#6E6E6E" stroke-width="0.7"/>
<text transform="translate(517.7 143.1) scale(0.82 1)" font-size="7.8" fill="#909090" font-family="'Liberation Serif', serif">10<tspan font-size="6" dx="0.6" dy="-3.1">−12</tspan></text>
<line x1="513.3" x2="515.9" y1="158.7" y2="158.7" stroke="#6E6E6E" stroke-width="0.7"/>
<text transform="translate(517.7 161.6) scale(0.82 1)" font-size="7.8" fill="#909090" font-family="'Liberation Serif', serif">10<tspan font-size="6" dx="0.6" dy="-3.1">−14</tspan></text>
<text transform="translate(353 96.1) rotate(-90)" text-anchor="middle" font-size="8.5" textLength="10.2" lengthAdjust="spacingAndGlyphs" fill="#3F58B2" stroke="#3F58B2" stroke-width="0.25" font-family="'Liberation Sans', sans-serif">HV</text>
<text transform="translate(541.2 96.5) rotate(-90)" text-anchor="middle" font-size="8.6" textLength="28.6" lengthAdjust="spacing" fill="#1F9A5A" font-family="'Liberation Serif', serif">||<tspan font-style="italic">G</tspan>(<tspan font-weight="bold">X</tspan>)||</text>
<rect x="371.4" y="180.0" width="141.1" height="152" fill="#E5E5E5"/>
<path d="M377.7 180.0 V332.0 M392 180.0 V332.0 M406.3 180.0 V332.0 M420.6 180.0 V332.0 M434.9 180.0 V332.0 M449.2 180.0 V332.0 M463.5 180.0 V332.0 M477.8 180.0 V332.0 M492.1 180.0 V332.0 M506.4 180.0 V332.0 M371.4 324.4 H512.5 M371.4 299.95 H512.5 M371.4 275.5 H512.5 M371.4 251.05 H512.5 M371.4 226.6 H512.5 M371.4 202.15 H512.5 M371.4 189.3 H512.5 M371.4 207.8 H512.5 M371.4 226.3 H512.5 M371.4 244.8 H512.5 M371.4 263.3 H512.5 M371.4 281.8 H512.5 M371.4 300.3 H512.5 M371.4 318.8 H512.5" stroke="#FFFFFF" stroke-width="0.7" fill="none"/>
<g clip-path="url(#c21)" fill="none">
<path d="M377.7 325.6 L392 215.85 L406.3 187 L420.6 190.9 L434.9 192.4 L449.2 192.8 L463.5 192.9 L477.8 192.9 L492.1 192.9 L506.4 192.9" stroke="#5268BC" stroke-width="1.3" stroke-linejoin="round"/>
<path d="M377.7 187 L392 189.2 L406.3 191.6 L420.6 201.5 L434.9 215.4 L449.2 221.2 L463.5 235.9 L477.8 271.2 L492.1 322.05 L506.4 325.6" stroke="#1F9A5A" stroke-width="1.3" stroke-dasharray="3 1.4" stroke-linejoin="round"/>
</g>
<line x1="368" x2="370.6" y1="324.4" y2="324.4" stroke="#6E6E6E" stroke-width="0.7"/>
<text transform="translate(366.5 327.1) scale(0.82 1)" text-anchor="end" font-size="7.8" fill="#909090" font-family="'Liberation Serif', serif">350</text>
<line x1="368" x2="370.6" y1="299.95" y2="299.95" stroke="#6E6E6E" stroke-width="0.7"/>
<text transform="translate(366.5 302.65) scale(0.82 1)" text-anchor="end" font-size="7.8" fill="#909090" font-family="'Liberation Serif', serif">355</text>
<line x1="368" x2="370.6" y1="275.5" y2="275.5" stroke="#6E6E6E" stroke-width="0.7"/>
<text transform="translate(366.5 278.2) scale(0.82 1)" text-anchor="end" font-size="7.8" fill="#909090" font-family="'Liberation Serif', serif">360</text>
<line x1="368" x2="370.6" y1="251.05" y2="251.05" stroke="#6E6E6E" stroke-width="0.7"/>
<text transform="translate(366.5 253.75) scale(0.82 1)" text-anchor="end" font-size="7.8" fill="#909090" font-family="'Liberation Serif', serif">365</text>
<line x1="368" x2="370.6" y1="226.6" y2="226.6" stroke="#6E6E6E" stroke-width="0.7"/>
<text transform="translate(366.5 229.3) scale(0.82 1)" text-anchor="end" font-size="7.8" fill="#909090" font-family="'Liberation Serif', serif">370</text>
<line x1="368" x2="370.6" y1="202.15" y2="202.15" stroke="#6E6E6E" stroke-width="0.7"/>
<text transform="translate(366.5 204.85) scale(0.82 1)" text-anchor="end" font-size="7.8" fill="#909090" font-family="'Liberation Serif', serif">375</text>
<line x1="377.7" x2="377.7" y1="332.6" y2="335" stroke="#6E6E6E" stroke-width="0.7"/>
<line x1="392" x2="392" y1="332.6" y2="335" stroke="#6E6E6E" stroke-width="0.7"/>
<line x1="406.3" x2="406.3" y1="332.6" y2="335" stroke="#6E6E6E" stroke-width="0.7"/>
<line x1="420.6" x2="420.6" y1="332.6" y2="335" stroke="#6E6E6E" stroke-width="0.7"/>
<line x1="434.9" x2="434.9" y1="332.6" y2="335" stroke="#6E6E6E" stroke-width="0.7"/>
<line x1="449.2" x2="449.2" y1="332.6" y2="335" stroke="#6E6E6E" stroke-width="0.7"/>
<line x1="463.5" x2="463.5" y1="332.6" y2="335" stroke="#6E6E6E" stroke-width="0.7"/>
<line x1="477.8" x2="477.8" y1="332.6" y2="335" stroke="#6E6E6E" stroke-width="0.7"/>
<line x1="492.1" x2="492.1" y1="332.6" y2="335" stroke="#6E6E6E" stroke-width="0.7"/>
<line x1="506.4" x2="506.4" y1="332.6" y2="335" stroke="#6E6E6E" stroke-width="0.7"/>
<line x1="513.3" x2="515.9" y1="189.3" y2="189.3" stroke="#6E6E6E" stroke-width="0.7"/>
<text transform="translate(517.7 192.2) scale(0.82 1)" font-size="7.8" fill="#909090" font-family="'Liberation Serif', serif">10<tspan font-size="6" dx="0.6" dy="-3.1">0</tspan></text>
<line x1="513.3" x2="515.9" y1="207.8" y2="207.8" stroke="#6E6E6E" stroke-width="0.7"/>
<text transform="translate(517.7 210.7) scale(0.82 1)" font-size="7.8" fill="#909090" font-family="'Liberation Serif', serif">10<tspan font-size="6" dx="0.6" dy="-3.1">−2</tspan></text>
<line x1="513.3" x2="515.9" y1="226.3" y2="226.3" stroke="#6E6E6E" stroke-width="0.7"/>
<text transform="translate(517.7 229.2) scale(0.82 1)" font-size="7.8" fill="#909090" font-family="'Liberation Serif', serif">10<tspan font-size="6" dx="0.6" dy="-3.1">−4</tspan></text>
<line x1="513.3" x2="515.9" y1="244.8" y2="244.8" stroke="#6E6E6E" stroke-width="0.7"/>
<text transform="translate(517.7 247.7) scale(0.82 1)" font-size="7.8" fill="#909090" font-family="'Liberation Serif', serif">10<tspan font-size="6" dx="0.6" dy="-3.1">−6</tspan></text>
<line x1="513.3" x2="515.9" y1="263.3" y2="263.3" stroke="#6E6E6E" stroke-width="0.7"/>
<text transform="translate(517.7 266.2) scale(0.82 1)" font-size="7.8" fill="#909090" font-family="'Liberation Serif', serif">10<tspan font-size="6" dx="0.6" dy="-3.1">−8</tspan></text>
<line x1="513.3" x2="515.9" y1="281.8" y2="281.8" stroke="#6E6E6E" stroke-width="0.7"/>
<text transform="translate(517.7 284.7) scale(0.82 1)" font-size="7.8" fill="#909090" font-family="'Liberation Serif', serif">10<tspan font-size="6" dx="0.6" dy="-3.1">−10</tspan></text>
<line x1="513.3" x2="515.9" y1="300.3" y2="300.3" stroke="#6E6E6E" stroke-width="0.7"/>
<text transform="translate(517.7 303.2) scale(0.82 1)" font-size="7.8" fill="#909090" font-family="'Liberation Serif', serif">10<tspan font-size="6" dx="0.6" dy="-3.1">−12</tspan></text>
<line x1="513.3" x2="515.9" y1="318.8" y2="318.8" stroke="#6E6E6E" stroke-width="0.7"/>
<text transform="translate(517.7 321.7) scale(0.82 1)" font-size="7.8" fill="#909090" font-family="'Liberation Serif', serif">10<tspan font-size="6" dx="0.6" dy="-3.1">−14</tspan></text>
<text transform="translate(353 256.1) rotate(-90)" text-anchor="middle" font-size="8.5" textLength="10.2" lengthAdjust="spacingAndGlyphs" fill="#3F58B2" stroke="#3F58B2" stroke-width="0.25" font-family="'Liberation Sans', sans-serif">HV</text>
<text transform="translate(541.2 256.5) rotate(-90)" text-anchor="middle" font-size="8.6" textLength="28.6" lengthAdjust="spacing" fill="#1F9A5A" font-family="'Liberation Serif', serif">||<tspan font-style="italic">G</tspan>(<tspan font-weight="bold">X</tspan>)||</text>
<rect x="371.4" y="340.0" width="141.1" height="152" fill="#E5E5E5"/>
<path d="M377.7 340.0 V492.0 M392 340.0 V492.0 M406.3 340.0 V492.0 M420.6 340.0 V492.0 M434.9 340.0 V492.0 M449.2 340.0 V492.0 M463.5 340.0 V492.0 M477.8 340.0 V492.0 M492.1 340.0 V492.0 M506.4 340.0 V492.0 M371.4 487.3 H512.5 M371.4 462.25 H512.5 M371.4 437.2 H512.5 M371.4 412.15 H512.5 M371.4 387.1 H512.5 M371.4 362.05 H512.5 M371.4 348.1 H512.5 M371.4 366.74 H512.5 M371.4 385.38 H512.5 M371.4 404.02 H512.5 M371.4 422.66 H512.5 M371.4 441.3 H512.5 M371.4 459.94 H512.5 M371.4 478.58 H512.5" stroke="#FFFFFF" stroke-width="0.7" fill="none"/>
<g clip-path="url(#c22)" fill="none">
<path d="M377.7 485.4 L392 373.84 L406.3 346.56 L420.6 350.9 L434.9 352.26 L449.2 352.3 L463.5 352.3 L477.8 352.3 L492.1 352.3 L506.4 352.3" stroke="#5268BC" stroke-width="1.3" stroke-linejoin="round"/>
<path d="M377.7 346.56 L392 349.2 L406.3 351.65 L420.6 362 L434.9 366.6 L449.2 372 L463.5 388.95 L477.8 415.5 L492.1 465.1 L506.4 485.6" stroke="#1F9A5A" stroke-width="1.3" stroke-dasharray="3 1.4" stroke-linejoin="round"/>
</g>
<line x1="368" x2="370.6" y1="487.3" y2="487.3" stroke="#6E6E6E" stroke-width="0.7"/>
<text transform="translate(366.5 490) scale(0.82 1)" text-anchor="end" font-size="7.8" fill="#909090" font-family="'Liberation Serif', serif">350</text>
<line x1="368" x2="370.6" y1="462.25" y2="462.25" stroke="#6E6E6E" stroke-width="0.7"/>
<text transform="translate(366.5 464.95) scale(0.82 1)" text-anchor="end" font-size="7.8" fill="#909090" font-family="'Liberation Serif', serif">355</text>
<line x1="368" x2="370.6" y1="437.2" y2="437.2" stroke="#6E6E6E" stroke-width="0.7"/>
<text transform="translate(366.5 439.9) scale(0.82 1)" text-anchor="end" font-size="7.8" fill="#909090" font-family="'Liberation Serif', serif">360</text>
<line x1="368" x2="370.6" y1="412.15" y2="412.15" stroke="#6E6E6E" stroke-width="0.7"/>
<text transform="translate(366.5 414.85) scale(0.82 1)" text-anchor="end" font-size="7.8" fill="#909090" font-family="'Liberation Serif', serif">365</text>
<line x1="368" x2="370.6" y1="387.1" y2="387.1" stroke="#6E6E6E" stroke-width="0.7"/>
<text transform="translate(366.5 389.8) scale(0.82 1)" text-anchor="end" font-size="7.8" fill="#909090" font-family="'Liberation Serif', serif">370</text>
<line x1="368" x2="370.6" y1="362.05" y2="362.05" stroke="#6E6E6E" stroke-width="0.7"/>
<text transform="translate(366.5 364.75) scale(0.82 1)" text-anchor="end" font-size="7.8" fill="#909090" font-family="'Liberation Serif', serif">375</text>
<line x1="377.7" x2="377.7" y1="492.6" y2="495" stroke="#6E6E6E" stroke-width="0.7"/>
<text transform="translate(377.7 502.3) scale(0.82 1)" text-anchor="middle" font-size="7.8" fill="#909090" font-family="'Liberation Serif', serif">1</text>
<line x1="392" x2="392" y1="492.6" y2="495" stroke="#6E6E6E" stroke-width="0.7"/>
<text transform="translate(392 502.3) scale(0.82 1)" text-anchor="middle" font-size="7.8" fill="#909090" font-family="'Liberation Serif', serif">2</text>
<line x1="406.3" x2="406.3" y1="492.6" y2="495" stroke="#6E6E6E" stroke-width="0.7"/>
<text transform="translate(406.3 502.3) scale(0.82 1)" text-anchor="middle" font-size="7.8" fill="#909090" font-family="'Liberation Serif', serif">3</text>
<line x1="420.6" x2="420.6" y1="492.6" y2="495" stroke="#6E6E6E" stroke-width="0.7"/>
<text transform="translate(420.6 502.3) scale(0.82 1)" text-anchor="middle" font-size="7.8" fill="#909090" font-family="'Liberation Serif', serif">4</text>
<line x1="434.9" x2="434.9" y1="492.6" y2="495" stroke="#6E6E6E" stroke-width="0.7"/>
<text transform="translate(434.9 502.3) scale(0.82 1)" text-anchor="middle" font-size="7.8" fill="#909090" font-family="'Liberation Serif', serif">5</text>
<line x1="449.2" x2="449.2" y1="492.6" y2="495" stroke="#6E6E6E" stroke-width="0.7"/>
<text transform="translate(449.2 502.3) scale(0.82 1)" text-anchor="middle" font-size="7.8" fill="#909090" font-family="'Liberation Serif', serif">6</text>
<line x1="463.5" x2="463.5" y1="492.6" y2="495" stroke="#6E6E6E" stroke-width="0.7"/>
<text transform="translate(463.5 502.3) scale(0.82 1)" text-anchor="middle" font-size="7.8" fill="#909090" font-family="'Liberation Serif', serif">7</text>
<line x1="477.8" x2="477.8" y1="492.6" y2="495" stroke="#6E6E6E" stroke-width="0.7"/>
<text transform="translate(477.8 502.3) scale(0.82 1)" text-anchor="middle" font-size="7.8" fill="#909090" font-family="'Liberation Serif', serif">8</text>
<line x1="492.1" x2="492.1" y1="492.6" y2="495" stroke="#6E6E6E" stroke-width="0.7"/>
<text transform="translate(492.1 502.3) scale(0.82 1)" text-anchor="middle" font-size="7.8" fill="#909090" font-family="'Liberation Serif', serif">9</text>
<line x1="506.4" x2="506.4" y1="492.6" y2="495" stroke="#6E6E6E" stroke-width="0.7"/>
<text transform="translate(506.4 502.3) scale(0.82 1)" text-anchor="middle" font-size="7.8" fill="#909090" font-family="'Liberation Serif', serif">10</text>
<line x1="513.3" x2="515.9" y1="348.1" y2="348.1" stroke="#6E6E6E" stroke-width="0.7"/>
<text transform="translate(517.7 351) scale(0.82 1)" font-size="7.8" fill="#909090" font-family="'Liberation Serif', serif">10<tspan font-size="6" dx="0.6" dy="-3.1">0</tspan></text>
<line x1="513.3" x2="515.9" y1="366.74" y2="366.74" stroke="#6E6E6E" stroke-width="0.7"/>
<text transform="translate(517.7 369.64) scale(0.82 1)" font-size="7.8" fill="#909090" font-family="'Liberation Serif', serif">10<tspan font-size="6" dx="0.6" dy="-3.1">−2</tspan></text>
<line x1="513.3" x2="515.9" y1="385.38" y2="385.38" stroke="#6E6E6E" stroke-width="0.7"/>
<text transform="translate(517.7 388.28) scale(0.82 1)" font-size="7.8" fill="#909090" font-family="'Liberation Serif', serif">10<tspan font-size="6" dx="0.6" dy="-3.1">−4</tspan></text>
<line x1="513.3" x2="515.9" y1="404.02" y2="404.02" stroke="#6E6E6E" stroke-width="0.7"/>
<text transform="translate(517.7 406.92) scale(0.82 1)" font-size="7.8" fill="#909090" font-family="'Liberation Serif', serif">10<tspan font-size="6" dx="0.6" dy="-3.1">−6</tspan></text>
<line x1="513.3" x2="515.9" y1="422.66" y2="422.66" stroke="#6E6E6E" stroke-width="0.7"/>
<text transform="translate(517.7 425.56) scale(0.82 1)" font-size="7.8" fill="#909090" font-family="'Liberation Serif', serif">10<tspan font-size="6" dx="0.6" dy="-3.1">−8</tspan></text>
<line x1="513.3" x2="515.9" y1="441.3" y2="441.3" stroke="#6E6E6E" stroke-width="0.7"/>
<text transform="translate(517.7 444.2) scale(0.82 1)" font-size="7.8" fill="#909090" font-family="'Liberation Serif', serif">10<tspan font-size="6" dx="0.6" dy="-3.1">−10</tspan></text>
<line x1="513.3" x2="515.9" y1="459.94" y2="459.94" stroke="#6E6E6E" stroke-width="0.7"/>
<text transform="translate(517.7 462.84) scale(0.82 1)" font-size="7.8" fill="#909090" font-family="'Liberation Serif', serif">10<tspan font-size="6" dx="0.6" dy="-3.1">−12</tspan></text>
<line x1="513.3" x2="515.9" y1="478.58" y2="478.58" stroke="#6E6E6E" stroke-width="0.7"/>
<text transform="translate(517.7 481.48) scale(0.82 1)" font-size="7.8" fill="#909090" font-family="'Liberation Serif', serif">10<tspan font-size="6" dx="0.6" dy="-3.1">−14</tspan></text>
<text transform="translate(353 416.1) rotate(-90)" text-anchor="middle" font-size="8.5" textLength="10.2" lengthAdjust="spacingAndGlyphs" fill="#3F58B2" stroke="#3F58B2" stroke-width="0.25" font-family="'Liberation Sans', sans-serif">HV</text>
<text transform="translate(541.2 416.5) rotate(-90)" text-anchor="middle" font-size="8.6" textLength="28.6" lengthAdjust="spacing" fill="#1F9A5A" font-family="'Liberation Serif', serif">||<tspan font-style="italic">G</tspan>(<tspan font-weight="bold">X</tspan>)||</text>
<text x="101.05" y="17.8" text-anchor="middle" font-size="11" fill="#1E1E1E" textLength="58.5" lengthAdjust="spacingAndGlyphs" font-family="'Liberation Sans', sans-serif">Decision space</text>
<text x="271.45" y="17.8" text-anchor="middle" font-size="11" fill="#1E1E1E" textLength="62.9" lengthAdjust="spacingAndGlyphs" font-family="'Liberation Sans', sans-serif">Objective space</text>
<text x="442.3" y="17.8" text-anchor="middle" font-size="11" fill="#1E1E1E" textLength="49.4" lengthAdjust="spacingAndGlyphs" font-family="'Liberation Sans', sans-serif">Performance</text>
<text x="100.6" y="511" text-anchor="middle" font-size="9.3" font-style="italic" fill="#7A7A7A" font-family="'Liberation Serif', serif">x<tspan font-size="6.3" font-style="normal" dy="1.5">1</tspan></text>
<text x="271" y="511" text-anchor="middle" font-size="9.3" font-style="italic" fill="#7A7A7A" font-family="'Liberation Serif', serif">f<tspan font-size="6.3" font-style="normal" dy="1.5">1</tspan></text>
<text x="441.7" y="510.9" text-anchor="middle" font-size="8.6" textLength="27.8" lengthAdjust="spacingAndGlyphs" fill="#555" font-family="'Liberation Sans', sans-serif">iteration</text>
</svg>
</body></html>
